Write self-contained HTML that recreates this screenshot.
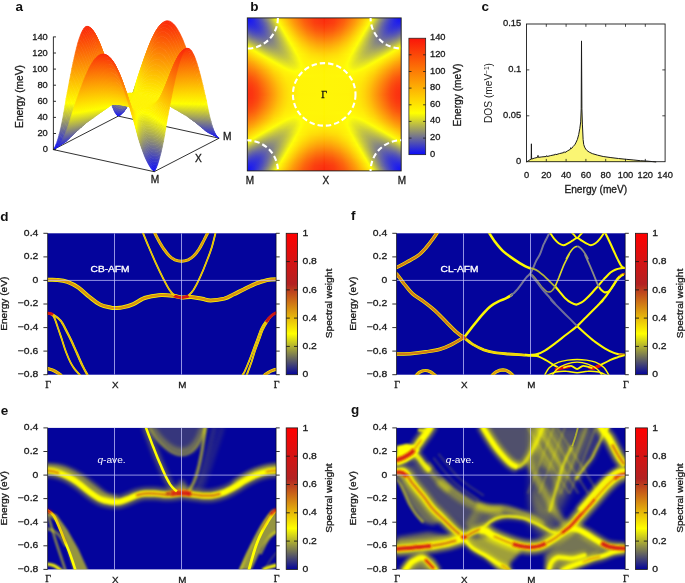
<!DOCTYPE html>
<html lang="en"><head><meta charset="utf-8"><title>Figure</title><style>html,body{margin:0;padding:0;background:#fff;overflow:hidden}svg{display:block}</style></head><body><svg width="685" height="583" viewBox="0 0 685 583" font-family='"Liberation Sans", Arial, Helvetica, sans-serif'><defs><linearGradient id="gE" x1="0" y1="1" x2="0" y2="0"><stop offset="0%" stop-color="#0a0afa"/><stop offset="35.7%" stop-color="#ffff00"/><stop offset="100%" stop-color="#fa140a"/></linearGradient><linearGradient id="gS" x1="0" y1="1" x2="0" y2="0"><stop offset="0%" stop-color="#04049c"/><stop offset="29%" stop-color="#ffff00"/><stop offset="64%" stop-color="#b22222"/><stop offset="100%" stop-color="#ff0000"/></linearGradient><linearGradient id="gA" gradientUnits="userSpaceOnUse" x1="53.4" y1="149.6" x2="76.98" y2="42.07"><stop offset="0%" stop-color="#0a0afa"/><stop offset="35.7%" stop-color="#ffff00"/><stop offset="100%" stop-color="#fa140a"/></linearGradient><linearGradient id="a55" href="#gA" gradientTransform="translate(64.32 -33.20)"/><linearGradient id="a54" href="#gA" gradientTransform="translate(63.16 -32.60)"/><linearGradient id="a53" href="#gA" gradientTransform="translate(62.00 -32.00)"/><linearGradient id="a52" href="#gA" gradientTransform="translate(60.84 -31.41)"/><linearGradient id="a51" href="#gA" gradientTransform="translate(59.68 -30.81)"/><linearGradient id="a50" href="#gA" gradientTransform="translate(58.53 -30.21)"/><linearGradient id="a49" href="#gA" gradientTransform="translate(57.37 -29.61)"/><linearGradient id="a48" href="#gA" gradientTransform="translate(56.21 -29.01)"/><linearGradient id="a47" href="#gA" gradientTransform="translate(55.05 -28.42)"/><linearGradient id="a46" href="#gA" gradientTransform="translate(53.89 -27.82)"/><linearGradient id="a45" href="#gA" gradientTransform="translate(52.73 -27.22)"/><linearGradient id="a44" href="#gA" gradientTransform="translate(51.57 -26.62)"/><linearGradient id="a43" href="#gA" gradientTransform="translate(50.41 -26.02)"/><linearGradient id="a42" href="#gA" gradientTransform="translate(49.25 -25.42)"/><linearGradient id="a41" href="#gA" gradientTransform="translate(48.10 -24.83)"/><linearGradient id="a40" href="#gA" gradientTransform="translate(46.94 -24.23)"/><linearGradient id="a39" href="#gA" gradientTransform="translate(45.78 -23.63)"/><linearGradient id="a38" href="#gA" gradientTransform="translate(44.62 -23.03)"/><linearGradient id="a37" href="#gA" gradientTransform="translate(43.46 -22.43)"/><linearGradient id="a36" href="#gA" gradientTransform="translate(42.30 -21.83)"/><linearGradient id="a35" href="#gA" gradientTransform="translate(41.14 -21.24)"/><linearGradient id="a34" href="#gA" gradientTransform="translate(39.98 -20.64)"/><linearGradient id="a33" href="#gA" gradientTransform="translate(38.82 -20.04)"/><linearGradient id="a32" href="#gA" gradientTransform="translate(37.67 -19.44)"/><linearGradient id="a31" href="#gA" gradientTransform="translate(36.51 -18.84)"/><linearGradient id="a30" href="#gA" gradientTransform="translate(35.35 -18.25)"/><linearGradient id="a29" href="#gA" gradientTransform="translate(34.19 -17.65)"/><linearGradient id="a28" href="#gA" gradientTransform="translate(33.03 -17.05)"/><linearGradient id="a27" href="#gA" gradientTransform="translate(31.87 -16.45)"/><linearGradient id="a26" href="#gA" gradientTransform="translate(30.71 -15.85)"/><linearGradient id="a25" href="#gA" gradientTransform="translate(29.55 -15.25)"/><linearGradient id="a24" href="#gA" gradientTransform="translate(28.39 -14.66)"/><linearGradient id="a23" href="#gA" gradientTransform="translate(27.23 -14.06)"/><linearGradient id="a22" href="#gA" gradientTransform="translate(26.08 -13.46)"/><linearGradient id="a21" href="#gA" gradientTransform="translate(24.92 -12.86)"/><linearGradient id="a20" href="#gA" gradientTransform="translate(23.76 -12.26)"/><linearGradient id="a19" href="#gA" gradientTransform="translate(22.60 -11.67)"/><linearGradient id="a18" href="#gA" gradientTransform="translate(21.44 -11.07)"/><linearGradient id="a17" href="#gA" gradientTransform="translate(20.28 -10.47)"/><linearGradient id="a16" href="#gA" gradientTransform="translate(19.12 -9.87)"/><linearGradient id="a15" href="#gA" gradientTransform="translate(17.96 -9.27)"/><linearGradient id="a14" href="#gA" gradientTransform="translate(16.80 -8.67)"/><linearGradient id="a13" href="#gA" gradientTransform="translate(15.65 -8.08)"/><linearGradient id="a12" href="#gA" gradientTransform="translate(14.49 -7.48)"/><linearGradient id="a11" href="#gA" gradientTransform="translate(13.33 -6.88)"/><linearGradient id="a10" href="#gA" gradientTransform="translate(12.17 -6.28)"/><linearGradient id="a9" href="#gA" gradientTransform="translate(11.01 -5.68)"/><linearGradient id="a8" href="#gA" gradientTransform="translate(9.85 -5.08)"/><linearGradient id="a7" href="#gA" gradientTransform="translate(8.69 -4.49)"/><linearGradient id="a6" href="#gA" gradientTransform="translate(7.53 -3.89)"/><linearGradient id="a5" href="#gA" gradientTransform="translate(6.37 -3.29)"/><linearGradient id="a4" href="#gA" gradientTransform="translate(5.22 -2.69)"/><linearGradient id="a3" href="#gA" gradientTransform="translate(4.06 -2.09)"/><linearGradient id="a2" href="#gA" gradientTransform="translate(2.90 -1.50)"/><linearGradient id="a1" href="#gA" gradientTransform="translate(1.74 -0.90)"/><linearGradient id="a0" href="#gA" gradientTransform="translate(0.58 -0.30)"/><linearGradient id="b0" gradientUnits="userSpaceOnUse" x1="0" x2="76.9" y1="0" y2="0"><stop offset="0" stop-color="#fff500"/><stop offset="0.321" stop-color="#fff300"/><stop offset="0.455" stop-color="#fee401"/><stop offset="0.519" stop-color="#fed402"/><stop offset="0.59" stop-color="#febb03"/><stop offset="0.795" stop-color="#fc5e07"/><stop offset="0.865" stop-color="#fb4208"/><stop offset="0.936" stop-color="#fb2f09"/><stop offset="1" stop-color="#fa2909"/></linearGradient><linearGradient id="b1" gradientUnits="userSpaceOnUse" x1="0" x2="76.9" y1="0" y2="0"><stop offset="0" stop-color="#fff500"/><stop offset="0.321" stop-color="#fff300"/><stop offset="0.455" stop-color="#fee401"/><stop offset="0.519" stop-color="#fed402"/><stop offset="0.59" stop-color="#febb03"/><stop offset="0.795" stop-color="#fc5e07"/><stop offset="0.865" stop-color="#fb4208"/><stop offset="0.936" stop-color="#fb2f09"/><stop offset="1" stop-color="#fa2909"/></linearGradient><linearGradient id="b2" gradientUnits="userSpaceOnUse" x1="0" x2="76.9" y1="0" y2="0"><stop offset="0" stop-color="#fff500"/><stop offset="0.321" stop-color="#fff400"/><stop offset="0.455" stop-color="#fee401"/><stop offset="0.519" stop-color="#fed402"/><stop offset="0.59" stop-color="#febb03"/><stop offset="0.865" stop-color="#fb4308"/><stop offset="0.936" stop-color="#fb3009"/><stop offset="1" stop-color="#fa2a09"/></linearGradient><linearGradient id="b3" gradientUnits="userSpaceOnUse" x1="0" x2="76.9" y1="0" y2="0"><stop offset="0" stop-color="#fff500"/><stop offset="0.321" stop-color="#fff400"/><stop offset="0.455" stop-color="#fee401"/><stop offset="0.519" stop-color="#fed402"/><stop offset="0.59" stop-color="#febc03"/><stop offset="0.865" stop-color="#fb4308"/><stop offset="0.936" stop-color="#fb3009"/><stop offset="1" stop-color="#fa2a09"/></linearGradient><linearGradient id="b4" gradientUnits="userSpaceOnUse" x1="0" x2="76.9" y1="0" y2="0"><stop offset="0" stop-color="#fff500"/><stop offset="0.321" stop-color="#fff400"/><stop offset="0.455" stop-color="#fee501"/><stop offset="0.519" stop-color="#fed502"/><stop offset="0.59" stop-color="#febd03"/><stop offset="0.865" stop-color="#fb4408"/><stop offset="0.936" stop-color="#fb3109"/><stop offset="1" stop-color="#fa2b09"/></linearGradient><linearGradient id="b5" gradientUnits="userSpaceOnUse" x1="0" x2="76.9" y1="0" y2="0"><stop offset="0" stop-color="#fff500"/><stop offset="0.321" stop-color="#fff400"/><stop offset="0.455" stop-color="#fee501"/><stop offset="0.526" stop-color="#fed402"/><stop offset="0.596" stop-color="#febb03"/><stop offset="0.865" stop-color="#fb4608"/><stop offset="0.936" stop-color="#fb3309"/><stop offset="1" stop-color="#fb2c09"/></linearGradient><linearGradient id="b6" gradientUnits="userSpaceOnUse" x1="0" x2="76.9" y1="0" y2="0"><stop offset="0" stop-color="#fff500"/><stop offset="0.327" stop-color="#fff400"/><stop offset="0.462" stop-color="#fee401"/><stop offset="0.526" stop-color="#fed502"/><stop offset="0.596" stop-color="#febc03"/><stop offset="0.865" stop-color="#fb4708"/><stop offset="0.936" stop-color="#fb3409"/><stop offset="1" stop-color="#fb2e09"/></linearGradient><linearGradient id="b7" gradientUnits="userSpaceOnUse" x1="0" x2="76.9" y1="0" y2="0"><stop offset="0" stop-color="#fff500"/><stop offset="0.327" stop-color="#fff400"/><stop offset="0.462" stop-color="#fee501"/><stop offset="0.526" stop-color="#fed602"/><stop offset="0.596" stop-color="#febe03"/><stop offset="0.872" stop-color="#fb4708"/><stop offset="0.936" stop-color="#fb3609"/><stop offset="1" stop-color="#fb2f09"/></linearGradient><linearGradient id="b8" gradientUnits="userSpaceOnUse" x1="0" x2="76.9" y1="0" y2="0"><stop offset="0" stop-color="#fff500"/><stop offset="0.327" stop-color="#fff400"/><stop offset="0.404" stop-color="#ffee01"/><stop offset="0.468" stop-color="#fee501"/><stop offset="0.532" stop-color="#fed502"/><stop offset="0.603" stop-color="#febd03"/><stop offset="0.872" stop-color="#fb4908"/><stop offset="0.936" stop-color="#fb3808"/><stop offset="1" stop-color="#fb3109"/></linearGradient><linearGradient id="b9" gradientUnits="userSpaceOnUse" x1="0" x2="76.9" y1="0" y2="0"><stop offset="0" stop-color="#fff500"/><stop offset="0.333" stop-color="#fff400"/><stop offset="0.468" stop-color="#fee501"/><stop offset="0.532" stop-color="#fed602"/><stop offset="0.603" stop-color="#febe03"/><stop offset="0.872" stop-color="#fb4c08"/><stop offset="0.936" stop-color="#fb3a08"/><stop offset="1" stop-color="#fb3309"/></linearGradient><linearGradient id="b10" gradientUnits="userSpaceOnUse" x1="0" x2="76.9" y1="0" y2="0"><stop offset="0" stop-color="#fff500"/><stop offset="0.34" stop-color="#fff400"/><stop offset="0.474" stop-color="#fee501"/><stop offset="0.538" stop-color="#fed602"/><stop offset="0.609" stop-color="#febe03"/><stop offset="0.872" stop-color="#fb4e08"/><stop offset="0.936" stop-color="#fb3d08"/><stop offset="1" stop-color="#fb3609"/></linearGradient><linearGradient id="b11" gradientUnits="userSpaceOnUse" x1="0" x2="76.9" y1="0" y2="0"><stop offset="0" stop-color="#fff500"/><stop offset="0.34" stop-color="#fff400"/><stop offset="0.474" stop-color="#fee601"/><stop offset="0.538" stop-color="#fed702"/><stop offset="0.609" stop-color="#fec003"/><stop offset="0.878" stop-color="#fb4f07"/><stop offset="0.942" stop-color="#fb3e08"/><stop offset="1" stop-color="#fb3808"/></linearGradient><linearGradient id="b12" gradientUnits="userSpaceOnUse" x1="0" x2="76.9" y1="0" y2="0"><stop offset="0" stop-color="#fff500"/><stop offset="0.346" stop-color="#fff400"/><stop offset="0.481" stop-color="#fee601"/><stop offset="0.545" stop-color="#fed702"/><stop offset="0.615" stop-color="#fec003"/><stop offset="0.878" stop-color="#fb5207"/><stop offset="0.942" stop-color="#fb4108"/><stop offset="1" stop-color="#fb3b08"/></linearGradient><linearGradient id="b13" gradientUnits="userSpaceOnUse" x1="0" x2="76.9" y1="0" y2="0"><stop offset="0" stop-color="#fff500"/><stop offset="0.346" stop-color="#fff400"/><stop offset="0.481" stop-color="#fee701"/><stop offset="0.545" stop-color="#fed902"/><stop offset="0.615" stop-color="#fec203"/><stop offset="0.878" stop-color="#fb5607"/><stop offset="0.942" stop-color="#fb4508"/><stop offset="1" stop-color="#fb3e08"/></linearGradient><linearGradient id="b14" gradientUnits="userSpaceOnUse" x1="0" x2="76.9" y1="0" y2="0"><stop offset="0" stop-color="#fff500"/><stop offset="0.359" stop-color="#fff400"/><stop offset="0.487" stop-color="#ffe801"/><stop offset="0.551" stop-color="#fed902"/><stop offset="0.622" stop-color="#fec303"/><stop offset="0.878" stop-color="#fb5907"/><stop offset="0.942" stop-color="#fb4808"/><stop offset="1" stop-color="#fb4108"/></linearGradient><linearGradient id="b15" gradientUnits="userSpaceOnUse" x1="0" x2="76.9" y1="0" y2="0"><stop offset="0" stop-color="#fff500"/><stop offset="0.365" stop-color="#fff400"/><stop offset="0.494" stop-color="#ffe801"/><stop offset="0.558" stop-color="#feda02"/><stop offset="0.628" stop-color="#fec303"/><stop offset="0.885" stop-color="#fc5b07"/><stop offset="0.942" stop-color="#fb4c08"/><stop offset="1" stop-color="#fb4408"/></linearGradient><linearGradient id="b16" gradientUnits="userSpaceOnUse" x1="0" x2="76.9" y1="0" y2="0"><stop offset="0" stop-color="#fff500"/><stop offset="0.372" stop-color="#fff400"/><stop offset="0.5" stop-color="#ffe801"/><stop offset="0.628" stop-color="#fec602"/><stop offset="0.885" stop-color="#fc5f07"/><stop offset="0.942" stop-color="#fb5007"/><stop offset="1" stop-color="#fb4808"/></linearGradient><linearGradient id="b17" gradientUnits="userSpaceOnUse" x1="0" x2="76.9" y1="0" y2="0"><stop offset="0" stop-color="#fff500"/><stop offset="0.353" stop-color="#fff600"/><stop offset="0.506" stop-color="#ffe901"/><stop offset="0.635" stop-color="#fec702"/><stop offset="0.891" stop-color="#fc6107"/><stop offset="0.949" stop-color="#fb5207"/><stop offset="1" stop-color="#fb4b08"/></linearGradient><linearGradient id="b18" gradientUnits="userSpaceOnUse" x1="0" x2="76.9" y1="0" y2="0"><stop offset="0" stop-color="#fff500"/><stop offset="0.359" stop-color="#fff700"/><stop offset="0.506" stop-color="#ffeb01"/><stop offset="0.571" stop-color="#fedd01"/><stop offset="0.641" stop-color="#fec802"/><stop offset="0.891" stop-color="#fc6607"/><stop offset="0.949" stop-color="#fb5707"/><stop offset="1" stop-color="#fb4f07"/></linearGradient><linearGradient id="b19" gradientUnits="userSpaceOnUse" x1="0" x2="76.9" y1="0" y2="0"><stop offset="0" stop-color="#fff500"/><stop offset="0.365" stop-color="#fff800"/><stop offset="0.513" stop-color="#ffec01"/><stop offset="0.641" stop-color="#fecb02"/><stop offset="0.897" stop-color="#fc6806"/><stop offset="1" stop-color="#fb5307"/></linearGradient><linearGradient id="b20" gradientUnits="userSpaceOnUse" x1="0" x2="76.9" y1="0" y2="0"><stop offset="0" stop-color="#fff500"/><stop offset="0.269" stop-color="#fff500"/><stop offset="0.372" stop-color="#fffa00"/><stop offset="0.519" stop-color="#ffed01"/><stop offset="0.647" stop-color="#fecd02"/><stop offset="0.897" stop-color="#fc6d06"/><stop offset="1" stop-color="#fb5807"/></linearGradient><linearGradient id="b21" gradientUnits="userSpaceOnUse" x1="0" x2="76.9" y1="0" y2="0"><stop offset="0" stop-color="#fff400"/><stop offset="0.256" stop-color="#fff500"/><stop offset="0.372" stop-color="#fffc00"/><stop offset="0.526" stop-color="#ffee01"/><stop offset="0.654" stop-color="#fecf02"/><stop offset="0.904" stop-color="#fc7006"/><stop offset="1" stop-color="#fc5c07"/></linearGradient><linearGradient id="b22" gradientUnits="userSpaceOnUse" x1="0" x2="76.9" y1="0" y2="0"><stop offset="0" stop-color="#fff400"/><stop offset="0.244" stop-color="#fff500"/><stop offset="0.378" stop-color="#fffe00"/><stop offset="0.532" stop-color="#ffef01"/><stop offset="0.66" stop-color="#fed002"/><stop offset="0.904" stop-color="#fc7506"/><stop offset="1" stop-color="#fc6107"/></linearGradient><linearGradient id="b23" gradientUnits="userSpaceOnUse" x1="0" x2="76.9" y1="0" y2="0"><stop offset="0" stop-color="#fff400"/><stop offset="0.224" stop-color="#fff500"/><stop offset="0.34" stop-color="#ffff00"/><stop offset="0.423" stop-color="#ffff00"/><stop offset="0.538" stop-color="#fff001"/><stop offset="0.647" stop-color="#fed902"/><stop offset="0.891" stop-color="#fc7f05"/><stop offset="1" stop-color="#fc6607"/></linearGradient><linearGradient id="b24" gradientUnits="userSpaceOnUse" x1="0" x2="76.9" y1="0" y2="0"><stop offset="0" stop-color="#fff300"/><stop offset="0.218" stop-color="#fff500"/><stop offset="0.321" stop-color="#ffff00"/><stop offset="0.391" stop-color="#f8f807"/><stop offset="0.455" stop-color="#ffff00"/><stop offset="0.474" stop-color="#fffd00"/><stop offset="0.577" stop-color="#ffed01"/><stop offset="0.641" stop-color="#fede01"/><stop offset="0.897" stop-color="#fc8205"/><stop offset="1" stop-color="#fc6b06"/></linearGradient><linearGradient id="b25" gradientUnits="userSpaceOnUse" x1="0" x2="76.9" y1="0" y2="0"><stop offset="0" stop-color="#fff301"/><stop offset="0.212" stop-color="#fff500"/><stop offset="0.314" stop-color="#ffff00"/><stop offset="0.397" stop-color="#f4f40b"/><stop offset="0.487" stop-color="#fffe00"/><stop offset="0.654" stop-color="#fedf01"/><stop offset="0.897" stop-color="#fc8805"/><stop offset="1" stop-color="#fc7006"/></linearGradient><linearGradient id="b26" gradientUnits="userSpaceOnUse" x1="0" x2="76.9" y1="0" y2="0"><stop offset="0" stop-color="#fff201"/><stop offset="0.212" stop-color="#fff500"/><stop offset="0.308" stop-color="#fefe01"/><stop offset="0.359" stop-color="#f3f30c"/><stop offset="0.404" stop-color="#f0f00f"/><stop offset="0.455" stop-color="#f4f40c"/><stop offset="0.513" stop-color="#ffff00"/><stop offset="0.667" stop-color="#fee001"/><stop offset="0.904" stop-color="#fd8c05"/><stop offset="1" stop-color="#fc7506"/></linearGradient><linearGradient id="b27" gradientUnits="userSpaceOnUse" x1="0" x2="76.9" y1="0" y2="0"><stop offset="0" stop-color="#fff101"/><stop offset="0.218" stop-color="#fff500"/><stop offset="0.301" stop-color="#ffff00"/><stop offset="0.359" stop-color="#f1f10f"/><stop offset="0.417" stop-color="#ecec13"/><stop offset="0.474" stop-color="#f1f10e"/><stop offset="0.538" stop-color="#fffe00"/><stop offset="0.679" stop-color="#fee001"/><stop offset="0.904" stop-color="#fd9205"/><stop offset="1" stop-color="#fc7a06"/></linearGradient><linearGradient id="b28" gradientUnits="userSpaceOnUse" x1="0" x2="76.9" y1="0" y2="0"><stop offset="0" stop-color="#fff001"/><stop offset="0.224" stop-color="#fff400"/><stop offset="0.301" stop-color="#ffff00"/><stop offset="0.372" stop-color="#ecec13"/><stop offset="0.429" stop-color="#e8e817"/><stop offset="0.494" stop-color="#eeee11"/><stop offset="0.564" stop-color="#fffe00"/><stop offset="0.692" stop-color="#fee101"/><stop offset="0.91" stop-color="#fd9604"/><stop offset="1" stop-color="#fc8005"/></linearGradient><linearGradient id="b29" gradientUnits="userSpaceOnUse" x1="0" x2="76.9" y1="0" y2="0"><stop offset="0" stop-color="#ffef01"/><stop offset="0.231" stop-color="#fff400"/><stop offset="0.301" stop-color="#ffff01"/><stop offset="0.378" stop-color="#e9e916"/><stop offset="0.436" stop-color="#e4e41c"/><stop offset="0.506" stop-color="#eaea15"/><stop offset="0.583" stop-color="#ffff00"/><stop offset="0.705" stop-color="#fee301"/><stop offset="0.91" stop-color="#fd9c04"/><stop offset="1" stop-color="#fc8605"/></linearGradient><linearGradient id="b30" gradientUnits="userSpaceOnUse" x1="0" x2="76.9" y1="0" y2="0"><stop offset="0" stop-color="#ffed01"/><stop offset="0.244" stop-color="#fff500"/><stop offset="0.301" stop-color="#ffff00"/><stop offset="0.385" stop-color="#e6e619"/><stop offset="0.449" stop-color="#e0e020"/><stop offset="0.526" stop-color="#e7e718"/><stop offset="0.609" stop-color="#fffe00"/><stop offset="0.718" stop-color="#fee401"/><stop offset="0.917" stop-color="#fda004"/><stop offset="1" stop-color="#fd8b05"/></linearGradient><linearGradient id="b31" gradientUnits="userSpaceOnUse" x1="0" x2="76.9" y1="0" y2="0"><stop offset="0" stop-color="#ffeb01"/><stop offset="0.25" stop-color="#fff400"/><stop offset="0.301" stop-color="#fffe00"/><stop offset="0.397" stop-color="#e2e21d"/><stop offset="0.462" stop-color="#dcdc24"/><stop offset="0.545" stop-color="#e5e51b"/><stop offset="0.628" stop-color="#ffff00"/><stop offset="0.731" stop-color="#fee601"/><stop offset="0.917" stop-color="#fda704"/><stop offset="1" stop-color="#fd9105"/></linearGradient><linearGradient id="b32" gradientUnits="userSpaceOnUse" x1="0" x2="76.9" y1="0" y2="0"><stop offset="0" stop-color="#ffe901"/><stop offset="0.256" stop-color="#fff400"/><stop offset="0.308" stop-color="#ffff00"/><stop offset="0.404" stop-color="#dfdf20"/><stop offset="0.474" stop-color="#d7d728"/><stop offset="0.558" stop-color="#e1e11f"/><stop offset="0.654" stop-color="#ffff00"/><stop offset="0.75" stop-color="#fee601"/><stop offset="0.923" stop-color="#fdab04"/><stop offset="1" stop-color="#fd9704"/></linearGradient><linearGradient id="b33" gradientUnits="userSpaceOnUse" x1="0" x2="76.9" y1="0" y2="0"><stop offset="0" stop-color="#fee701"/><stop offset="0.218" stop-color="#fff101"/><stop offset="0.269" stop-color="#fff500"/><stop offset="0.314" stop-color="#ffff00"/><stop offset="0.41" stop-color="#dddd23"/><stop offset="0.487" stop-color="#d3d32d"/><stop offset="0.577" stop-color="#dede22"/><stop offset="0.673" stop-color="#fefe01"/><stop offset="0.756" stop-color="#ffe901"/><stop offset="0.923" stop-color="#fdb203"/><stop offset="1" stop-color="#fd9d04"/></linearGradient><linearGradient id="b34" gradientUnits="userSpaceOnUse" x1="0" x2="76.9" y1="0" y2="0"><stop offset="0" stop-color="#fee501"/><stop offset="0.186" stop-color="#ffed01"/><stop offset="0.276" stop-color="#fff500"/><stop offset="0.321" stop-color="#fefe01"/><stop offset="0.423" stop-color="#d9d927"/><stop offset="0.5" stop-color="#cfcf31"/><stop offset="0.596" stop-color="#dbdb25"/><stop offset="0.699" stop-color="#ffff00"/><stop offset="1" stop-color="#fda404"/></linearGradient><linearGradient id="b35" gradientUnits="userSpaceOnUse" x1="0" x2="76.9" y1="0" y2="0"><stop offset="0" stop-color="#fee201"/><stop offset="0.173" stop-color="#ffea01"/><stop offset="0.282" stop-color="#fff400"/><stop offset="0.327" stop-color="#fefe01"/><stop offset="0.429" stop-color="#d6d62a"/><stop offset="0.468" stop-color="#cece32"/><stop offset="0.513" stop-color="#cbcb35"/><stop offset="0.564" stop-color="#cece32"/><stop offset="0.615" stop-color="#d9d927"/><stop offset="0.718" stop-color="#fefe01"/><stop offset="1" stop-color="#fdaa04"/></linearGradient><linearGradient id="b36" gradientUnits="userSpaceOnUse" x1="0" x2="76.9" y1="0" y2="0"><stop offset="0" stop-color="#fedf01"/><stop offset="0.179" stop-color="#ffe801"/><stop offset="0.288" stop-color="#fff400"/><stop offset="0.327" stop-color="#fffe00"/><stop offset="0.442" stop-color="#d2d22e"/><stop offset="0.481" stop-color="#c9c937"/><stop offset="0.526" stop-color="#c7c73a"/><stop offset="0.577" stop-color="#caca36"/><stop offset="0.628" stop-color="#d4d42c"/><stop offset="0.679" stop-color="#e4e41b"/><stop offset="0.744" stop-color="#ffff00"/><stop offset="1" stop-color="#fdb003"/></linearGradient><linearGradient id="b37" gradientUnits="userSpaceOnUse" x1="0" x2="76.9" y1="0" y2="0"><stop offset="0" stop-color="#fedc02"/><stop offset="0.173" stop-color="#fee501"/><stop offset="0.301" stop-color="#fff500"/><stop offset="0.333" stop-color="#fffe00"/><stop offset="0.455" stop-color="#cece32"/><stop offset="0.494" stop-color="#c5c53b"/><stop offset="0.538" stop-color="#c2c23e"/><stop offset="0.59" stop-color="#c6c63a"/><stop offset="0.647" stop-color="#d2d22e"/><stop offset="0.769" stop-color="#fffe00"/><stop offset="1" stop-color="#fdb703"/></linearGradient><linearGradient id="b38" gradientUnits="userSpaceOnUse" x1="0" x2="76.9" y1="0" y2="0"><stop offset="0" stop-color="#fed802"/><stop offset="0.173" stop-color="#fee301"/><stop offset="0.308" stop-color="#fff400"/><stop offset="0.34" stop-color="#fffe00"/><stop offset="0.462" stop-color="#cccc34"/><stop offset="0.506" stop-color="#c1c13f"/><stop offset="0.551" stop-color="#bebe42"/><stop offset="0.603" stop-color="#c2c23f"/><stop offset="0.66" stop-color="#cdcd33"/><stop offset="0.724" stop-color="#e2e21e"/><stop offset="0.788" stop-color="#ffff00"/><stop offset="1" stop-color="#febd03"/></linearGradient><linearGradient id="b39" gradientUnits="userSpaceOnUse" x1="0" x2="76.9" y1="0" y2="0"><stop offset="0" stop-color="#fed402"/><stop offset="0.167" stop-color="#fedf01"/><stop offset="0.314" stop-color="#fff400"/><stop offset="0.346" stop-color="#fffe00"/><stop offset="0.423" stop-color="#dbdb25"/><stop offset="0.474" stop-color="#c8c839"/><stop offset="0.519" stop-color="#bdbd44"/><stop offset="0.564" stop-color="#baba47"/><stop offset="0.628" stop-color="#bfbf41"/><stop offset="0.692" stop-color="#cece32"/><stop offset="0.75" stop-color="#e2e21d"/><stop offset="0.808" stop-color="#fefe01"/><stop offset="1" stop-color="#fec403"/></linearGradient><linearGradient id="b40" gradientUnits="userSpaceOnUse" x1="0" x2="76.9" y1="0" y2="0"><stop offset="0" stop-color="#fed002"/><stop offset="0.167" stop-color="#fedc02"/><stop offset="0.359" stop-color="#fefe01"/><stop offset="0.423" stop-color="#dcdc23"/><stop offset="0.481" stop-color="#c5c53b"/><stop offset="0.532" stop-color="#b9b948"/><stop offset="0.577" stop-color="#b6b64b"/><stop offset="0.635" stop-color="#baba46"/><stop offset="0.705" stop-color="#c9c937"/><stop offset="0.763" stop-color="#dddd23"/><stop offset="0.833" stop-color="#ffff00"/><stop offset="1" stop-color="#feca02"/></linearGradient><linearGradient id="b41" gradientUnits="userSpaceOnUse" x1="0" x2="76.9" y1="0" y2="0"><stop offset="0" stop-color="#fecc02"/><stop offset="0.167" stop-color="#fed802"/><stop offset="0.327" stop-color="#fff400"/><stop offset="0.365" stop-color="#fefe01"/><stop offset="0.429" stop-color="#dbdb24"/><stop offset="0.487" stop-color="#c3c33d"/><stop offset="0.538" stop-color="#b5b54b"/><stop offset="0.59" stop-color="#b1b14f"/><stop offset="0.667" stop-color="#b9b948"/><stop offset="0.724" stop-color="#c6c63a"/><stop offset="0.788" stop-color="#dede22"/><stop offset="0.853" stop-color="#fefe01"/><stop offset="1" stop-color="#fed102"/></linearGradient><linearGradient id="b42" gradientUnits="userSpaceOnUse" x1="0" x2="76.9" y1="0" y2="0"><stop offset="0" stop-color="#fec802"/><stop offset="0.083" stop-color="#fecb02"/><stop offset="0.167" stop-color="#fed402"/><stop offset="0.34" stop-color="#fff400"/><stop offset="0.372" stop-color="#fefe01"/><stop offset="0.436" stop-color="#dada25"/><stop offset="0.5" stop-color="#bfbf41"/><stop offset="0.551" stop-color="#b1b14f"/><stop offset="0.603" stop-color="#adad54"/><stop offset="0.673" stop-color="#b2b24e"/><stop offset="0.737" stop-color="#c1c140"/><stop offset="0.801" stop-color="#d8d827"/><stop offset="0.878" stop-color="#fffe00"/><stop offset="1" stop-color="#fed802"/></linearGradient><linearGradient id="b43" gradientUnits="userSpaceOnUse" x1="0" x2="76.9" y1="0" y2="0"><stop offset="0" stop-color="#fec303"/><stop offset="0.083" stop-color="#fec602"/><stop offset="0.173" stop-color="#fed102"/><stop offset="0.346" stop-color="#fff400"/><stop offset="0.378" stop-color="#ffff00"/><stop offset="0.442" stop-color="#dada26"/><stop offset="0.506" stop-color="#bdbd43"/><stop offset="0.564" stop-color="#adad54"/><stop offset="0.615" stop-color="#a9a958"/><stop offset="0.686" stop-color="#adad54"/><stop offset="0.75" stop-color="#bbbb45"/><stop offset="0.821" stop-color="#d6d62a"/><stop offset="0.897" stop-color="#ffff00"/><stop offset="1" stop-color="#fede01"/></linearGradient><linearGradient id="b44" gradientUnits="userSpaceOnUse" x1="0" x2="76.9" y1="0" y2="0"><stop offset="0" stop-color="#febe03"/><stop offset="0.083" stop-color="#fec203"/><stop offset="0.173" stop-color="#fecd02"/><stop offset="0.321" stop-color="#ffec01"/><stop offset="0.385" stop-color="#ffff00"/><stop offset="0.455" stop-color="#d6d62a"/><stop offset="0.526" stop-color="#b7b74a"/><stop offset="0.583" stop-color="#a8a859"/><stop offset="0.641" stop-color="#a4a45d"/><stop offset="0.705" stop-color="#a9a958"/><stop offset="0.776" stop-color="#baba46"/><stop offset="0.846" stop-color="#d6d629"/><stop offset="0.917" stop-color="#fdfd02"/><stop offset="1" stop-color="#fee501"/></linearGradient><linearGradient id="b45" gradientUnits="userSpaceOnUse" x1="0" x2="76.9" y1="0" y2="0"><stop offset="0" stop-color="#feb903"/><stop offset="0.083" stop-color="#febd03"/><stop offset="0.173" stop-color="#fec902"/><stop offset="0.301" stop-color="#fee501"/><stop offset="0.391" stop-color="#ffff00"/><stop offset="0.468" stop-color="#d2d22e"/><stop offset="0.532" stop-color="#b5b54b"/><stop offset="0.59" stop-color="#a5a55c"/><stop offset="0.654" stop-color="#9f9f62"/><stop offset="0.724" stop-color="#a5a55c"/><stop offset="0.795" stop-color="#b7b74a"/><stop offset="0.872" stop-color="#d7d729"/><stop offset="0.942" stop-color="#ffff00"/><stop offset="1" stop-color="#ffec01"/></linearGradient><linearGradient id="b46" gradientUnits="userSpaceOnUse" x1="0" x2="76.9" y1="0" y2="0"><stop offset="0" stop-color="#fdb403"/><stop offset="0.09" stop-color="#fdb803"/><stop offset="0.179" stop-color="#fec602"/><stop offset="0.301" stop-color="#fee201"/><stop offset="0.397" stop-color="#fffe00"/><stop offset="0.481" stop-color="#cece32"/><stop offset="0.545" stop-color="#b1b150"/><stop offset="0.609" stop-color="#9e9e62"/><stop offset="0.667" stop-color="#999968"/><stop offset="0.737" stop-color="#9f9f62"/><stop offset="0.808" stop-color="#b2b24f"/><stop offset="0.885" stop-color="#d1d12f"/><stop offset="0.962" stop-color="#fdfd02"/><stop offset="1" stop-color="#fff201"/></linearGradient><linearGradient id="b47" gradientUnits="userSpaceOnUse" x1="0" x2="76.9" y1="0" y2="0"><stop offset="0" stop-color="#fdae03"/><stop offset="0.09" stop-color="#fdb303"/><stop offset="0.179" stop-color="#fec103"/><stop offset="0.295" stop-color="#fedd01"/><stop offset="0.404" stop-color="#fffe00"/><stop offset="0.487" stop-color="#cdcd33"/><stop offset="0.551" stop-color="#afaf51"/><stop offset="0.622" stop-color="#999968"/><stop offset="0.679" stop-color="#94946d"/><stop offset="0.75" stop-color="#9a9a67"/><stop offset="0.827" stop-color="#aeae52"/><stop offset="0.904" stop-color="#cfcf31"/><stop offset="0.987" stop-color="#ffff00"/><stop offset="1" stop-color="#fffa00"/></linearGradient><linearGradient id="b48" gradientUnits="userSpaceOnUse" x1="0" x2="76.9" y1="0" y2="0"><stop offset="0" stop-color="#fda804"/><stop offset="0.09" stop-color="#fdad03"/><stop offset="0.179" stop-color="#febc03"/><stop offset="0.276" stop-color="#fed302"/><stop offset="0.417" stop-color="#fdfd02"/><stop offset="0.494" stop-color="#cccc34"/><stop offset="0.571" stop-color="#a8a858"/><stop offset="0.635" stop-color="#94946d"/><stop offset="0.692" stop-color="#8f8f73"/><stop offset="0.763" stop-color="#95956c"/><stop offset="0.846" stop-color="#abab56"/><stop offset="0.923" stop-color="#cccc34"/><stop offset="1" stop-color="#fafa05"/></linearGradient><linearGradient id="b49" gradientUnits="userSpaceOnUse" x1="0" x2="76.9" y1="0" y2="0"><stop offset="0" stop-color="#fda304"/><stop offset="0.09" stop-color="#fda804"/><stop offset="0.179" stop-color="#fdb703"/><stop offset="0.282" stop-color="#fed102"/><stop offset="0.423" stop-color="#fefe01"/><stop offset="0.5" stop-color="#cccc34"/><stop offset="0.577" stop-color="#a6a65b"/><stop offset="0.641" stop-color="#909071"/><stop offset="0.699" stop-color="#898978"/><stop offset="0.769" stop-color="#8e8e73"/><stop offset="0.846" stop-color="#a0a060"/><stop offset="0.923" stop-color="#c0c041"/><stop offset="1" stop-color="#ebeb14"/></linearGradient><linearGradient id="b50" gradientUnits="userSpaceOnUse" x1="0" x2="76.9" y1="0" y2="0"><stop offset="0" stop-color="#fd9d04"/><stop offset="0.09" stop-color="#fda204"/><stop offset="0.186" stop-color="#fdb303"/><stop offset="0.295" stop-color="#fed102"/><stop offset="0.429" stop-color="#ffff00"/><stop offset="0.506" stop-color="#cccc35"/><stop offset="0.59" stop-color="#a1a160"/><stop offset="0.654" stop-color="#8b8b77"/><stop offset="0.712" stop-color="#84847d"/><stop offset="0.782" stop-color="#898979"/><stop offset="0.853" stop-color="#999968"/><stop offset="0.923" stop-color="#b4b44d"/><stop offset="1" stop-color="#dddd23"/></linearGradient><linearGradient id="b51" gradientUnits="userSpaceOnUse" x1="0" x2="76.9" y1="0" y2="0"><stop offset="0" stop-color="#fd9704"/><stop offset="0.09" stop-color="#fd9c04"/><stop offset="0.186" stop-color="#fdae03"/><stop offset="0.295" stop-color="#fecc02"/><stop offset="0.436" stop-color="#ffff00"/><stop offset="0.526" stop-color="#c3c33d"/><stop offset="0.596" stop-color="#9e9e63"/><stop offset="0.66" stop-color="#87877a"/><stop offset="0.718" stop-color="#7f7f83"/><stop offset="0.788" stop-color="#82827f"/><stop offset="0.859" stop-color="#919170"/><stop offset="0.929" stop-color="#abab56"/><stop offset="1" stop-color="#cfcf31"/></linearGradient><linearGradient id="b52" gradientUnits="userSpaceOnUse" x1="0" x2="76.9" y1="0" y2="0"><stop offset="0" stop-color="#fd9105"/><stop offset="0.096" stop-color="#fd9704"/><stop offset="0.192" stop-color="#fdaa04"/><stop offset="0.301" stop-color="#feca02"/><stop offset="0.442" stop-color="#fffe00"/><stop offset="0.532" stop-color="#c2c23e"/><stop offset="0.603" stop-color="#9c9c65"/><stop offset="0.667" stop-color="#84847e"/><stop offset="0.724" stop-color="#7a7a88"/><stop offset="0.795" stop-color="#7c7c86"/><stop offset="0.859" stop-color="#87877a"/><stop offset="0.929" stop-color="#9f9f62"/><stop offset="1" stop-color="#c2c23e"/></linearGradient><linearGradient id="b53" gradientUnits="userSpaceOnUse" x1="0" x2="76.9" y1="0" y2="0"><stop offset="0" stop-color="#fd8a05"/><stop offset="0.096" stop-color="#fd9105"/><stop offset="0.192" stop-color="#fda404"/><stop offset="0.301" stop-color="#fec502"/><stop offset="0.449" stop-color="#fffd00"/><stop offset="0.455" stop-color="#fdfd02"/><stop offset="0.532" stop-color="#c6c63a"/><stop offset="0.596" stop-color="#a0a061"/><stop offset="0.66" stop-color="#84847d"/><stop offset="0.718" stop-color="#76768b"/><stop offset="0.788" stop-color="#74748e"/><stop offset="0.859" stop-color="#7e7e83"/><stop offset="0.929" stop-color="#94946d"/><stop offset="1" stop-color="#b6b64b"/></linearGradient><linearGradient id="b54" gradientUnits="userSpaceOnUse" x1="0" x2="76.9" y1="0" y2="0"><stop offset="0" stop-color="#fc8405"/><stop offset="0.096" stop-color="#fd8b05"/><stop offset="0.192" stop-color="#fd9e04"/><stop offset="0.295" stop-color="#febe03"/><stop offset="0.462" stop-color="#fefe01"/><stop offset="0.532" stop-color="#c9c937"/><stop offset="0.603" stop-color="#9f9f62"/><stop offset="0.667" stop-color="#828280"/><stop offset="0.724" stop-color="#727290"/><stop offset="0.788" stop-color="#6e6e94"/><stop offset="0.859" stop-color="#76768c"/><stop offset="0.936" stop-color="#8c8c75"/><stop offset="1" stop-color="#a9a957"/></linearGradient><linearGradient id="b55" gradientUnits="userSpaceOnUse" x1="0" x2="76.9" y1="0" y2="0"><stop offset="0" stop-color="#fc7e05"/><stop offset="0.096" stop-color="#fc8505"/><stop offset="0.199" stop-color="#fd9a04"/><stop offset="0.308" stop-color="#febe03"/><stop offset="0.468" stop-color="#ffff00"/><stop offset="0.538" stop-color="#c9c937"/><stop offset="0.609" stop-color="#9d9d64"/><stop offset="0.673" stop-color="#7f7f83"/><stop offset="0.737" stop-color="#6c6c96"/><stop offset="0.801" stop-color="#68689a"/><stop offset="0.865" stop-color="#6f6f93"/><stop offset="0.936" stop-color="#818180"/><stop offset="1" stop-color="#9d9d64"/></linearGradient><linearGradient id="b56" gradientUnits="userSpaceOnUse" x1="0" x2="76.9" y1="0" y2="0"><stop offset="0" stop-color="#fc7806"/><stop offset="0.103" stop-color="#fc8005"/><stop offset="0.205" stop-color="#fd9604"/><stop offset="0.314" stop-color="#febc03"/><stop offset="0.474" stop-color="#ffff00"/><stop offset="0.551" stop-color="#c4c43c"/><stop offset="0.615" stop-color="#9b9b66"/><stop offset="0.679" stop-color="#7c7c86"/><stop offset="0.744" stop-color="#67679b"/><stop offset="0.808" stop-color="#6262a0"/><stop offset="0.872" stop-color="#68689b"/><stop offset="0.942" stop-color="#797989"/><stop offset="1" stop-color="#92926f"/></linearGradient><linearGradient id="b57" gradientUnits="userSpaceOnUse" x1="0" x2="76.9" y1="0" y2="0"><stop offset="0" stop-color="#fc7106"/><stop offset="0.103" stop-color="#fc7a06"/><stop offset="0.205" stop-color="#fd9105"/><stop offset="0.321" stop-color="#feb903"/><stop offset="0.481" stop-color="#fffe00"/><stop offset="0.558" stop-color="#c4c43d"/><stop offset="0.622" stop-color="#9a9a67"/><stop offset="0.692" stop-color="#77778b"/><stop offset="0.75" stop-color="#63639f"/><stop offset="0.808" stop-color="#5c5ca6"/><stop offset="0.872" stop-color="#6060a3"/><stop offset="0.936" stop-color="#6d6d95"/><stop offset="1" stop-color="#87877a"/></linearGradient><linearGradient id="b58" gradientUnits="userSpaceOnUse" x1="0" x2="76.9" y1="0" y2="0"><stop offset="0" stop-color="#fc6b06"/><stop offset="0.103" stop-color="#fc7306"/><stop offset="0.212" stop-color="#fd8d05"/><stop offset="0.327" stop-color="#fdb703"/><stop offset="0.487" stop-color="#fffe00"/><stop offset="0.494" stop-color="#fcfc03"/><stop offset="0.571" stop-color="#bfbf42"/><stop offset="0.635" stop-color="#95956c"/><stop offset="0.705" stop-color="#717191"/><stop offset="0.763" stop-color="#5d5da5"/><stop offset="0.821" stop-color="#5656ac"/><stop offset="0.885" stop-color="#5a5aa9"/><stop offset="0.929" stop-color="#6262a0"/><stop offset="1" stop-color="#7d7d85"/></linearGradient><linearGradient id="b59" gradientUnits="userSpaceOnUse" x1="0" x2="76.9" y1="0" y2="0"><stop offset="0" stop-color="#fc6507"/><stop offset="0.103" stop-color="#fc6e06"/><stop offset="0.212" stop-color="#fc8705"/><stop offset="0.327" stop-color="#fdb203"/><stop offset="0.494" stop-color="#fffd00"/><stop offset="0.5" stop-color="#fdfd02"/><stop offset="0.571" stop-color="#c3c33d"/><stop offset="0.641" stop-color="#93936e"/><stop offset="0.712" stop-color="#6e6e94"/><stop offset="0.769" stop-color="#5959a9"/><stop offset="0.821" stop-color="#5151b2"/><stop offset="0.885" stop-color="#5252b0"/><stop offset="0.929" stop-color="#5a5aa8"/><stop offset="1" stop-color="#73738f"/></linearGradient><linearGradient id="b60" gradientUnits="userSpaceOnUse" x1="0" x2="76.9" y1="0" y2="0"><stop offset="0" stop-color="#fc5f07"/><stop offset="0.103" stop-color="#fc6806"/><stop offset="0.212" stop-color="#fc8205"/><stop offset="0.327" stop-color="#fdac04"/><stop offset="0.506" stop-color="#fefe01"/><stop offset="0.577" stop-color="#c3c33d"/><stop offset="0.647" stop-color="#92926f"/><stop offset="0.712" stop-color="#6e6e94"/><stop offset="0.776" stop-color="#5555ae"/><stop offset="0.827" stop-color="#4b4bb7"/><stop offset="0.891" stop-color="#4c4cb7"/><stop offset="0.936" stop-color="#5454ae"/><stop offset="1" stop-color="#696999"/></linearGradient><linearGradient id="b61" gradientUnits="userSpaceOnUse" x1="0" x2="76.9" y1="0" y2="0"><stop offset="0" stop-color="#fb5a07"/><stop offset="0.109" stop-color="#fc6307"/><stop offset="0.218" stop-color="#fc7e05"/><stop offset="0.34" stop-color="#fdad03"/><stop offset="0.513" stop-color="#ffff00"/><stop offset="0.583" stop-color="#c3c33d"/><stop offset="0.654" stop-color="#919171"/><stop offset="0.718" stop-color="#6c6c96"/><stop offset="0.782" stop-color="#5151b2"/><stop offset="0.833" stop-color="#4646bd"/><stop offset="0.891" stop-color="#4545be"/><stop offset="0.942" stop-color="#4e4eb4"/><stop offset="1" stop-color="#6060a3"/></linearGradient><linearGradient id="b62" gradientUnits="userSpaceOnUse" x1="0" x2="76.9" y1="0" y2="0"><stop offset="0" stop-color="#fb5407"/><stop offset="0.109" stop-color="#fc5e07"/><stop offset="0.224" stop-color="#fc7b06"/><stop offset="0.346" stop-color="#fdab04"/><stop offset="0.519" stop-color="#fffe00"/><stop offset="0.59" stop-color="#c3c33d"/><stop offset="0.66" stop-color="#8f8f72"/><stop offset="0.724" stop-color="#696999"/><stop offset="0.788" stop-color="#4d4db5"/><stop offset="0.833" stop-color="#4242c1"/><stop offset="0.885" stop-color="#3f3fc4"/><stop offset="0.942" stop-color="#4747bb"/><stop offset="1" stop-color="#5757ac"/></linearGradient><linearGradient id="b63" gradientUnits="userSpaceOnUse" x1="0" x2="76.9" y1="0" y2="0"><stop offset="0" stop-color="#fb4f07"/><stop offset="0.109" stop-color="#fb5807"/><stop offset="0.224" stop-color="#fc7606"/><stop offset="0.346" stop-color="#fda604"/><stop offset="0.526" stop-color="#fffe00"/><stop offset="0.532" stop-color="#fcfc04"/><stop offset="0.609" stop-color="#b9b948"/><stop offset="0.673" stop-color="#8a8a78"/><stop offset="0.737" stop-color="#63639f"/><stop offset="0.795" stop-color="#4a4ab9"/><stop offset="0.833" stop-color="#3e3ec5"/><stop offset="0.878" stop-color="#3a3ac9"/><stop offset="0.936" stop-color="#3f3fc3"/><stop offset="1" stop-color="#4f4fb4"/></linearGradient><linearGradient id="b64" gradientUnits="userSpaceOnUse" x1="0" x2="76.9" y1="0" y2="0"><stop offset="0" stop-color="#fb4a08"/><stop offset="0.115" stop-color="#fb5407"/><stop offset="0.231" stop-color="#fc7306"/><stop offset="0.353" stop-color="#fda404"/><stop offset="0.532" stop-color="#fffd00"/><stop offset="0.538" stop-color="#fdfd02"/><stop offset="0.609" stop-color="#bebe43"/><stop offset="0.673" stop-color="#8d8d75"/><stop offset="0.737" stop-color="#64649e"/><stop offset="0.795" stop-color="#4949ba"/><stop offset="0.84" stop-color="#3a3ac9"/><stop offset="0.878" stop-color="#3636cd"/><stop offset="0.936" stop-color="#3939ca"/><stop offset="1" stop-color="#4747bc"/></linearGradient><linearGradient id="b65" gradientUnits="userSpaceOnUse" x1="0" x2="76.9" y1="0" y2="0"><stop offset="0" stop-color="#fb4508"/><stop offset="0.115" stop-color="#fb4f07"/><stop offset="0.231" stop-color="#fc6e06"/><stop offset="0.353" stop-color="#fd9f04"/><stop offset="0.545" stop-color="#fefe01"/><stop offset="0.615" stop-color="#bebe43"/><stop offset="0.679" stop-color="#8c8c76"/><stop offset="0.744" stop-color="#6262a0"/><stop offset="0.801" stop-color="#4646bd"/><stop offset="0.846" stop-color="#3636cd"/><stop offset="0.885" stop-color="#3232d1"/><stop offset="0.942" stop-color="#3535ce"/><stop offset="1" stop-color="#3f3fc4"/></linearGradient><linearGradient id="b66" gradientUnits="userSpaceOnUse" x1="0" x2="76.9" y1="0" y2="0"><stop offset="0" stop-color="#fb4008"/><stop offset="0.115" stop-color="#fb4b08"/><stop offset="0.237" stop-color="#fc6b06"/><stop offset="0.365" stop-color="#fda004"/><stop offset="0.551" stop-color="#ffff00"/><stop offset="0.622" stop-color="#bebe43"/><stop offset="0.686" stop-color="#8b8b77"/><stop offset="0.75" stop-color="#6060a2"/><stop offset="0.808" stop-color="#4343c0"/><stop offset="0.846" stop-color="#3535ce"/><stop offset="0.891" stop-color="#2e2ed5"/><stop offset="0.942" stop-color="#2f2fd4"/><stop offset="1" stop-color="#3838cb"/></linearGradient><linearGradient id="b67" gradientUnits="userSpaceOnUse" x1="0" x2="76.9" y1="0" y2="0"><stop offset="0" stop-color="#fb3c08"/><stop offset="0.115" stop-color="#fb4708"/><stop offset="0.237" stop-color="#fc6706"/><stop offset="0.372" stop-color="#fd9f04"/><stop offset="0.558" stop-color="#fffe00"/><stop offset="0.635" stop-color="#b8b848"/><stop offset="0.692" stop-color="#8a8a78"/><stop offset="0.756" stop-color="#5e5ea4"/><stop offset="0.814" stop-color="#4040c3"/><stop offset="0.859" stop-color="#3131d2"/><stop offset="0.897" stop-color="#2b2bd8"/><stop offset="0.949" stop-color="#2b2bd8"/><stop offset="1" stop-color="#3131d2"/></linearGradient><linearGradient id="b68" gradientUnits="userSpaceOnUse" x1="0" x2="76.9" y1="0" y2="0"><stop offset="0" stop-color="#fb3808"/><stop offset="0.122" stop-color="#fb4408"/><stop offset="0.244" stop-color="#fc6507"/><stop offset="0.378" stop-color="#fd9d04"/><stop offset="0.564" stop-color="#fffd00"/><stop offset="0.571" stop-color="#fbfb04"/><stop offset="0.635" stop-color="#bebe42"/><stop offset="0.692" stop-color="#8e8e74"/><stop offset="0.75" stop-color="#65659e"/><stop offset="0.801" stop-color="#4747bc"/><stop offset="0.853" stop-color="#3333d0"/><stop offset="0.897" stop-color="#2828db"/><stop offset="0.949" stop-color="#2626dd"/><stop offset="1" stop-color="#2b2bd8"/></linearGradient><linearGradient id="b69" gradientUnits="userSpaceOnUse" x1="0" x2="76.9" y1="0" y2="0"><stop offset="0" stop-color="#fb3509"/><stop offset="0.122" stop-color="#fb4008"/><stop offset="0.244" stop-color="#fc6107"/><stop offset="0.365" stop-color="#fd9305"/><stop offset="0.577" stop-color="#fdfd02"/><stop offset="0.635" stop-color="#c4c43c"/><stop offset="0.686" stop-color="#97976a"/><stop offset="0.744" stop-color="#6c6c96"/><stop offset="0.795" stop-color="#4c4cb7"/><stop offset="0.846" stop-color="#3535ce"/><stop offset="0.897" stop-color="#2727dd"/><stop offset="0.942" stop-color="#2222e1"/><stop offset="1" stop-color="#2525de"/></linearGradient><linearGradient id="b70" gradientUnits="userSpaceOnUse" x1="0" x2="76.9" y1="0" y2="0"><stop offset="0" stop-color="#fb3209"/><stop offset="0.122" stop-color="#fb3d08"/><stop offset="0.25" stop-color="#fc6007"/><stop offset="0.385" stop-color="#fd9804"/><stop offset="0.583" stop-color="#fefe01"/><stop offset="0.641" stop-color="#c5c53c"/><stop offset="0.692" stop-color="#97976a"/><stop offset="0.75" stop-color="#6b6b97"/><stop offset="0.795" stop-color="#4f4fb4"/><stop offset="0.853" stop-color="#3434cf"/><stop offset="0.904" stop-color="#2424df"/><stop offset="0.949" stop-color="#1f1fe5"/><stop offset="1" stop-color="#2020e3"/></linearGradient><linearGradient id="b71" gradientUnits="userSpaceOnUse" x1="0" x2="76.9" y1="0" y2="0"><stop offset="0" stop-color="#fb2f09"/><stop offset="0.064" stop-color="#fb3209"/><stop offset="0.128" stop-color="#fb3b08"/><stop offset="0.256" stop-color="#fc5f07"/><stop offset="0.397" stop-color="#fd9a04"/><stop offset="0.59" stop-color="#ffff00"/><stop offset="0.647" stop-color="#c5c53b"/><stop offset="0.705" stop-color="#919170"/><stop offset="0.756" stop-color="#696999"/><stop offset="0.801" stop-color="#4e4eb5"/><stop offset="0.853" stop-color="#3535ce"/><stop offset="0.904" stop-color="#2424e0"/><stop offset="0.949" stop-color="#1c1ce8"/><stop offset="1" stop-color="#1b1be8"/></linearGradient><linearGradient id="b72" gradientUnits="userSpaceOnUse" x1="0" x2="76.9" y1="0" y2="0"><stop offset="0" stop-color="#fb2d09"/><stop offset="0.128" stop-color="#fb3908"/><stop offset="0.256" stop-color="#fc5c07"/><stop offset="0.397" stop-color="#fd9704"/><stop offset="0.596" stop-color="#fffe00"/><stop offset="0.712" stop-color="#919170"/><stop offset="0.75" stop-color="#73738f"/><stop offset="0.801" stop-color="#5151b1"/><stop offset="0.853" stop-color="#3737cc"/><stop offset="0.904" stop-color="#2424e0"/><stop offset="0.949" stop-color="#1919ea"/><stop offset="1" stop-color="#1717ed"/></linearGradient><linearGradient id="b73" gradientUnits="userSpaceOnUse" x1="0" x2="76.9" y1="0" y2="0"><stop offset="0" stop-color="#fa2b09"/><stop offset="0.128" stop-color="#fb3709"/><stop offset="0.263" stop-color="#fc5b07"/><stop offset="0.404" stop-color="#fd9604"/><stop offset="0.603" stop-color="#fffd00"/><stop offset="0.609" stop-color="#fcfc03"/><stop offset="0.667" stop-color="#c0c040"/><stop offset="0.718" stop-color="#919170"/><stop offset="0.808" stop-color="#5151b2"/><stop offset="0.859" stop-color="#3636cd"/><stop offset="0.91" stop-color="#2222e2"/><stop offset="0.955" stop-color="#1616ed"/><stop offset="1" stop-color="#1313f1"/></linearGradient><linearGradient id="b74" gradientUnits="userSpaceOnUse" x1="0" x2="76.9" y1="0" y2="0"><stop offset="0" stop-color="#fa2a09"/><stop offset="0.128" stop-color="#fb3609"/><stop offset="0.263" stop-color="#fb5907"/><stop offset="0.397" stop-color="#fd9005"/><stop offset="0.615" stop-color="#fdfd02"/><stop offset="0.712" stop-color="#9c9c65"/><stop offset="0.756" stop-color="#78788a"/><stop offset="0.808" stop-color="#5555ae"/><stop offset="0.859" stop-color="#3838cb"/><stop offset="0.91" stop-color="#2222e1"/><stop offset="0.962" stop-color="#1414f0"/><stop offset="1" stop-color="#0f0ff5"/></linearGradient><linearGradient id="b75" gradientUnits="userSpaceOnUse" x1="0" x2="76.9" y1="0" y2="0"><stop offset="0" stop-color="#fa2909"/><stop offset="0.064" stop-color="#fb2c09"/><stop offset="0.135" stop-color="#fb3609"/><stop offset="0.269" stop-color="#fb5a07"/><stop offset="0.417" stop-color="#fd9604"/><stop offset="0.622" stop-color="#ffff00"/><stop offset="0.673" stop-color="#c8c838"/><stop offset="0.718" stop-color="#9d9d64"/><stop offset="0.814" stop-color="#5555ae"/><stop offset="0.91" stop-color="#2323e0"/><stop offset="0.955" stop-color="#1515ef"/><stop offset="1" stop-color="#0c0cf8"/></linearGradient><linearGradient id="b76" gradientUnits="userSpaceOnUse" x1="0" x2="76.9" y1="0" y2="0"><stop offset="0" stop-color="#fa2909"/><stop offset="0.064" stop-color="#fb2c09"/><stop offset="0.135" stop-color="#fb3509"/><stop offset="0.269" stop-color="#fb5807"/><stop offset="0.423" stop-color="#fd9704"/><stop offset="0.628" stop-color="#fffe00"/><stop offset="0.724" stop-color="#9e9e63"/><stop offset="0.814" stop-color="#5959aa"/><stop offset="0.91" stop-color="#2525df"/><stop offset="1" stop-color="#0a0afa"/></linearGradient><clipPath id="cq"><rect x="-0.6" y="-0.6" width="77.5" height="77.1"/></clipPath><g id="bq" clip-path="url(#cq)"><rect x="-1" y="-0.3" width="77.9" height="1.6" fill="url(#b0)"/><rect x="-1" y="0.7" width="77.9" height="1.6" fill="url(#b1)"/><rect x="-1" y="1.7" width="77.9" height="1.6" fill="url(#b2)"/><rect x="-1" y="2.7" width="77.9" height="1.6" fill="url(#b3)"/><rect x="-1" y="3.7" width="77.9" height="1.6" fill="url(#b4)"/><rect x="-1" y="4.7" width="77.9" height="1.6" fill="url(#b5)"/><rect x="-1" y="5.7" width="77.9" height="1.6" fill="url(#b6)"/><rect x="-1" y="6.7" width="77.9" height="1.6" fill="url(#b7)"/><rect x="-1" y="7.7" width="77.9" height="1.6" fill="url(#b8)"/><rect x="-1" y="8.7" width="77.9" height="1.6" fill="url(#b9)"/><rect x="-1" y="9.7" width="77.9" height="1.6" fill="url(#b10)"/><rect x="-1" y="10.7" width="77.9" height="1.6" fill="url(#b11)"/><rect x="-1" y="11.7" width="77.9" height="1.6" fill="url(#b12)"/><rect x="-1" y="12.7" width="77.9" height="1.6" fill="url(#b13)"/><rect x="-1" y="13.7" width="77.9" height="1.6" fill="url(#b14)"/><rect x="-1" y="14.7" width="77.9" height="1.6" fill="url(#b15)"/><rect x="-1" y="15.7" width="77.9" height="1.6" fill="url(#b16)"/><rect x="-1" y="16.7" width="77.9" height="1.6" fill="url(#b17)"/><rect x="-1" y="17.7" width="77.9" height="1.6" fill="url(#b18)"/><rect x="-1" y="18.7" width="77.9" height="1.6" fill="url(#b19)"/><rect x="-1" y="19.7" width="77.9" height="1.6" fill="url(#b20)"/><rect x="-1" y="20.7" width="77.9" height="1.6" fill="url(#b21)"/><rect x="-1" y="21.7" width="77.9" height="1.6" fill="url(#b22)"/><rect x="-1" y="22.7" width="77.9" height="1.6" fill="url(#b23)"/><rect x="-1" y="23.7" width="77.9" height="1.6" fill="url(#b24)"/><rect x="-1" y="24.7" width="77.9" height="1.6" fill="url(#b25)"/><rect x="-1" y="25.7" width="77.9" height="1.6" fill="url(#b26)"/><rect x="-1" y="26.7" width="77.9" height="1.6" fill="url(#b27)"/><rect x="-1" y="27.7" width="77.9" height="1.6" fill="url(#b28)"/><rect x="-1" y="28.7" width="77.9" height="1.6" fill="url(#b29)"/><rect x="-1" y="29.7" width="77.9" height="1.6" fill="url(#b30)"/><rect x="-1" y="30.7" width="77.9" height="1.6" fill="url(#b31)"/><rect x="-1" y="31.7" width="77.9" height="1.6" fill="url(#b32)"/><rect x="-1" y="32.7" width="77.9" height="1.6" fill="url(#b33)"/><rect x="-1" y="33.7" width="77.9" height="1.6" fill="url(#b34)"/><rect x="-1" y="34.7" width="77.9" height="1.6" fill="url(#b35)"/><rect x="-1" y="35.7" width="77.9" height="1.6" fill="url(#b36)"/><rect x="-1" y="36.7" width="77.9" height="1.6" fill="url(#b37)"/><rect x="-1" y="37.7" width="77.9" height="1.6" fill="url(#b38)"/><rect x="-1" y="38.7" width="77.9" height="1.6" fill="url(#b39)"/><rect x="-1" y="39.7" width="77.9" height="1.6" fill="url(#b40)"/><rect x="-1" y="40.7" width="77.9" height="1.6" fill="url(#b41)"/><rect x="-1" y="41.7" width="77.9" height="1.6" fill="url(#b42)"/><rect x="-1" y="42.7" width="77.9" height="1.6" fill="url(#b43)"/><rect x="-1" y="43.7" width="77.9" height="1.6" fill="url(#b44)"/><rect x="-1" y="44.7" width="77.9" height="1.6" fill="url(#b45)"/><rect x="-1" y="45.7" width="77.9" height="1.6" fill="url(#b46)"/><rect x="-1" y="46.7" width="77.9" height="1.6" fill="url(#b47)"/><rect x="-1" y="47.7" width="77.9" height="1.6" fill="url(#b48)"/><rect x="-1" y="48.7" width="77.9" height="1.6" fill="url(#b49)"/><rect x="-1" y="49.7" width="77.9" height="1.6" fill="url(#b50)"/><rect x="-1" y="50.7" width="77.9" height="1.6" fill="url(#b51)"/><rect x="-1" y="51.7" width="77.9" height="1.6" fill="url(#b52)"/><rect x="-1" y="52.7" width="77.9" height="1.6" fill="url(#b53)"/><rect x="-1" y="53.7" width="77.9" height="1.6" fill="url(#b54)"/><rect x="-1" y="54.7" width="77.9" height="1.6" fill="url(#b55)"/><rect x="-1" y="55.7" width="77.9" height="1.6" fill="url(#b56)"/><rect x="-1" y="56.7" width="77.9" height="1.6" fill="url(#b57)"/><rect x="-1" y="57.7" width="77.9" height="1.6" fill="url(#b58)"/><rect x="-1" y="58.7" width="77.9" height="1.6" fill="url(#b59)"/><rect x="-1" y="59.7" width="77.9" height="1.6" fill="url(#b60)"/><rect x="-1" y="60.7" width="77.9" height="1.6" fill="url(#b61)"/><rect x="-1" y="61.7" width="77.9" height="1.6" fill="url(#b62)"/><rect x="-1" y="62.7" width="77.9" height="1.6" fill="url(#b63)"/><rect x="-1" y="63.7" width="77.9" height="1.6" fill="url(#b64)"/><rect x="-1" y="64.7" width="77.9" height="1.6" fill="url(#b65)"/><rect x="-1" y="65.7" width="77.9" height="1.6" fill="url(#b66)"/><rect x="-1" y="66.7" width="77.9" height="1.6" fill="url(#b67)"/><rect x="-1" y="67.7" width="77.9" height="1.6" fill="url(#b68)"/><rect x="-1" y="68.7" width="77.9" height="1.6" fill="url(#b69)"/><rect x="-1" y="69.7" width="77.9" height="1.6" fill="url(#b70)"/><rect x="-1" y="70.7" width="77.9" height="1.6" fill="url(#b71)"/><rect x="-1" y="71.7" width="77.9" height="1.6" fill="url(#b72)"/><rect x="-1" y="72.7" width="77.9" height="1.6" fill="url(#b73)"/><rect x="-1" y="73.7" width="77.9" height="1.6" fill="url(#b74)"/><rect x="-1" y="74.7" width="77.9" height="1.6" fill="url(#b75)"/><rect x="-1" y="75.7" width="77.9" height="1.6" fill="url(#b76)"/></g><clipPath id="cb"><rect x="247.3" y="17.9" width="153.9" height="153"/></clipPath><filter id="bl1" filterUnits="userSpaceOnUse" x="0" y="190" width="685" height="393"><feGaussianBlur stdDeviation="0.45"/></filter><filter id="bl2" filterUnits="userSpaceOnUse" x="0" y="190" width="685" height="393"><feGaussianBlur stdDeviation="1.1"/></filter><filter id="bl3" filterUnits="userSpaceOnUse" x="0" y="190" width="685" height="393"><feGaussianBlur stdDeviation="2.2"/></filter><filter id="bl4" filterUnits="userSpaceOnUse" x="0" y="190" width="685" height="393"><feGaussianBlur stdDeviation="4"/></filter><clipPath id="cd"><rect x="47.6" y="233.3" width="228.5" height="141.4"/></clipPath><clipPath id="cf"><rect x="396.5" y="233.3" width="228.7" height="141.4"/></clipPath><clipPath id="ce"><rect x="47.6" y="427.9" width="228.5" height="141.5"/></clipPath><clipPath id="cg"><rect x="396.5" y="427.9" width="228.7" height="141.5"/></clipPath></defs><rect width="685" height="583" fill="#fff"/><text x="15.6" y="10.8" font-size="13.5" fill="#111" font-weight="bold">a</text>
<line x1="53.4" y1="149.6" x2="118.3" y2="116.1" stroke="#1a1a1a" stroke-width="0.9"/>
<line x1="118.3" y1="116.1" x2="219.1" y2="138.2" stroke="#1a1a1a" stroke-width="0.9"/>
<g stroke-width="0.7" stroke-linejoin="round"><path d="M117.1 115.4 118.7 115.4 120.3 114.8 121.9 113.6 123.4 112 125 109.9 126.6 107.4 128.2 104.5 129.7 101.2 131.3 97.5 132.9 93.2 134.5 88.6 136 83.6 137.6 78.3 139.2 73.5 140.8 68.8 142.3 64.2 143.9 59.6 145.5 55.1 147.1 50.8 148.6 46.7 150.2 42.8 151.8 39.1 153.4 35.8 154.9 32.7 156.5 30 158.1 27.7 159.7 25.7 161.2 24.1 162.8 23 164.4 22.3 166 21.9 167.5 22.1 169.1 22.6 170.7 23.6 172.3 25.1 173.8 26.9 175.4 29.2 177 31.8 178.6 34.9 180.1 38.3 181.7 42 183.3 46.1 184.9 50.4 186.4 55 188 59.8 189.6 64.8 191.2 70 192.7 75.2 194.3 80.6 195.9 86 197.5 91.4 199 97.4 200.6 103.1 202.2 108.4 203.8 113.4 205.3 117.8 206.9 121.8 208.5 125.4 210.1 128.5 211.6 131.3 213.2 133.6 214.8 135.5 216.4 136.8 217.9 137.5 219.1 138.2 217.5 136.8 215.9 134.9 214.4 132.5 212.8 129.7 211.2 126.6 209.6 123 208.1 119 206.5 114.7 204.9 109.9 203.3 104.7 201.8 99 200.2 93 198.6 87.3 197 82.1 195.5 76.8 193.9 71.6 192.3 66.6 190.8 61.6 189.2 56.8 187.6 52.2 186 47.8 184.4 43.7 182.9 39.8 181.3 36.3 179.7 33.1 178.1 30.2 176.6 27.7 175 25.5 173.4 23.8 171.8 22.4 170.3 21.4 168.7 20.9 167.1 20.7 165.6 21 164 21.7 162.4 22.8 160.8 24.2 159.2 26 157.7 28.2 156.1 30.8 154.5 33.6 152.9 36.8 151.4 40.2 149.8 43.9 148.2 47.8 146.7 51.9 145.1 56.2 143.5 60.6 141.9 65.1 140.3 69.6 138.8 74.2 137.2 79.2 135.6 84.5 134.1 89.5 132.5 94 130.9 98.1 129.3 101.8 127.8 105 126.2 107.9 124.6 110.4 123 112.5 121.5 114.1 119.9 115.4 118.3 116.1z" fill="url(#a55)" stroke="url(#a55)"/><path d="M116 114.1 117.6 114.6 119.1 114.7 120.7 114.2 122.3 113 123.9 111.4 125.4 109.4 127 106.9 128.6 103.9 130.2 100.3 131.7 96.4 133.3 92.2 134.9 87.6 136.5 82.8 138 77.7 139.6 72.9 141.2 68.2 142.8 63.5 144.3 58.9 145.9 54.5 147.5 50.2 149.1 46.1 150.6 42.3 152.2 38.8 153.8 35.7 155.4 32.8 156.9 30.3 158.5 28.3 160.1 26.6 161.7 25.4 163.2 24.6 164.8 24.2 166.4 24.4 168 24.9 169.5 26 171.1 27.4 172.7 29.4 174.3 31.7 175.8 34.5 177.4 37.6 179 41.2 180.6 45.1 182.1 49.2 183.7 53.7 185.3 58.5 186.9 63.4 188.4 68.6 190 73.8 191.6 79.2 193.2 84.7 194.7 90.1 196.3 95.9 197.9 101.5 199.5 106.7 201 111.6 202.6 116.2 204.2 120.5 205.8 124.2 207.3 127.3 208.9 130.1 210.5 132.4 212.1 134.2 213.6 135.4 215.2 136 216.8 136.2 217.9 137.5 216.4 136.8 214.8 135.5 213.2 133.6 211.6 131.3 210.1 128.5 208.5 125.4 206.9 121.8 205.3 117.8 203.8 113.4 202.2 108.4 200.6 103.1 199 97.4 197.5 91.4 195.9 86 194.3 80.6 192.7 75.2 191.2 70 189.6 64.8 188 59.8 186.4 55 184.9 50.4 183.3 46.1 181.7 42 180.1 38.3 178.6 34.9 177 31.8 175.4 29.2 173.8 26.9 172.3 25.1 170.7 23.6 169.1 22.6 167.5 22.1 166 21.9 164.4 22.3 162.8 23 161.2 24.1 159.7 25.7 158.1 27.7 156.5 30 154.9 32.7 153.4 35.8 151.8 39.1 150.2 42.8 148.6 46.7 147.1 50.8 145.5 55.1 143.9 59.6 142.3 64.2 140.8 68.8 139.2 73.5 137.6 78.3 136 83.6 134.5 88.6 132.9 93.2 131.3 97.5 129.7 101.2 128.2 104.5 126.6 107.4 125 109.9 123.4 112 121.9 113.6 120.3 114.8 118.7 115.4 117.1 115.4z" fill="url(#a54)" stroke="url(#a54)"/><path d="M114.8 112.2 116.4 113.2 118 113.8 119.5 114 121.1 113.5 122.7 112.5 124.3 110.9 125.8 108.6 127.4 105.8 129 102.7 130.6 99.2 132.1 95.4 133.7 91.2 135.3 86.8 136.9 82 138.4 77.1 140 72.4 141.6 67.7 143.2 63.1 144.7 58.6 146.3 54.2 147.9 50.1 149.5 46.2 151 42.6 152.6 39.4 154.2 36.4 155.8 33.9 157.3 31.7 158.9 30 160.5 28.7 162.1 27.9 163.6 27.5 165.2 27.7 166.8 28.2 168.4 29.3 169.9 30.8 171.5 32.8 173.1 35.2 174.7 38 176.2 41.3 177.8 44.9 179.4 48.9 181 53.1 182.5 57.7 184.1 62.5 185.7 67.5 187.3 72.7 188.8 78 190.4 83.4 192 88.8 193.6 94.4 195.1 99.9 196.7 105.1 198.3 109.9 199.9 114.4 201.4 118.6 203 122.4 204.6 125.9 206.2 128.9 207.7 131.1 209.3 132.9 210.9 134 212.5 134.6 214 134.6 215.6 134.3 216.8 136.2 215.2 136 213.6 135.4 212.1 134.2 210.5 132.4 208.9 130.1 207.3 127.3 205.8 124.2 204.2 120.5 202.6 116.2 201 111.6 199.5 106.7 197.9 101.5 196.3 95.9 194.7 90.1 193.2 84.7 191.6 79.2 190 73.8 188.4 68.6 186.9 63.4 185.3 58.5 183.7 53.7 182.1 49.2 180.6 45.1 179 41.2 177.4 37.6 175.8 34.5 174.3 31.7 172.7 29.4 171.1 27.4 169.5 26 168 24.9 166.4 24.4 164.8 24.2 163.2 24.6 161.7 25.4 160.1 26.6 158.5 28.3 156.9 30.3 155.4 32.8 153.8 35.7 152.2 38.8 150.6 42.3 149.1 46.1 147.5 50.2 145.9 54.5 144.3 58.9 142.8 63.5 141.2 68.2 139.6 72.9 138 77.7 136.5 82.8 134.9 87.6 133.3 92.2 131.7 96.4 130.2 100.3 128.6 103.9 127 106.9 125.4 109.4 123.9 111.4 122.3 113 120.7 114.2 119.1 114.7 117.6 114.6 116 114.1z" fill="url(#a53)" stroke="url(#a53)"/><path d="M113.7 109.9 115.2 111.3 116.8 112.3 118.4 113 120 113.3 121.5 112.9 123.1 111.5 124.7 109.6 126.3 107.3 127.8 104.6 129.4 101.6 131 98.1 132.6 94.4 134.1 90.3 135.7 85.9 137.3 81.3 138.9 76.6 140.4 72 142 67.4 143.6 63 145.2 58.7 146.7 54.5 148.3 50.6 149.9 47 151.5 43.7 153 40.8 154.6 38.2 156.2 36 157.8 34.2 159.3 32.9 160.9 32.1 162.5 31.7 164.1 31.8 165.6 32.4 167.2 33.5 168.8 35 170.4 37 171.9 39.4 173.5 42.3 175.1 45.6 176.7 49.2 178.2 53.2 179.8 57.6 181.4 62.1 183 67 184.5 72 186.1 77.1 187.7 82.4 189.3 87.7 190.8 93 192.4 98.4 194 103.4 195.6 108.2 197.1 112.6 198.7 116.7 200.3 120.5 201.9 123.9 203.4 126.9 205 129.5 206.6 131.6 208.2 132.6 209.7 133.1 211.3 133.1 212.9 132.7 214.5 132 215.6 134.3 214 134.6 212.5 134.6 210.9 134 209.3 132.9 207.7 131.1 206.2 128.9 204.6 125.9 203 122.4 201.4 118.6 199.9 114.4 198.3 109.9 196.7 105.1 195.1 99.9 193.6 94.4 192 88.8 190.4 83.4 188.8 78 187.3 72.7 185.7 67.5 184.1 62.5 182.5 57.7 181 53.1 179.4 48.9 177.8 44.9 176.2 41.3 174.7 38 173.1 35.2 171.5 32.8 169.9 30.8 168.4 29.3 166.8 28.2 165.2 27.7 163.6 27.5 162.1 27.9 160.5 28.7 158.9 30 157.3 31.7 155.8 33.9 154.2 36.4 152.6 39.4 151 42.6 149.5 46.2 147.9 50.1 146.3 54.2 144.7 58.6 143.2 63.1 141.6 67.7 140 72.4 138.4 77.1 136.9 82 135.3 86.8 133.7 91.2 132.1 95.4 130.6 99.2 129 102.7 127.4 105.8 125.8 108.6 124.3 110.9 122.7 112.5 121.1 113.5 119.5 114 118 113.8 116.4 113.2 114.8 112.2z" fill="url(#a52)" stroke="url(#a52)"/><path d="M112.5 106.9 114.1 108.7 115.7 110.3 117.2 111.4 118.8 112.2 120.4 112.1 122 111.4 123.5 110.1 125.1 108.3 126.7 106 128.3 103.4 129.8 100.4 131.4 97.1 133 93.4 134.6 89.5 136.1 85.2 137.7 80.7 139.3 76.3 140.9 71.9 142.4 67.5 144 63.3 145.6 59.3 147.2 55.4 148.7 51.8 150.3 48.6 151.9 45.6 153.5 43 155 40.8 156.6 39.1 158.2 37.8 159.8 36.9 161.3 36.5 162.9 36.6 164.5 37.2 166.1 38.3 167.6 39.8 169.2 41.8 170.8 44.3 172.4 47.2 173.9 50.4 175.5 54.1 177.1 58.1 178.7 62.3 180.2 66.9 181.8 71.6 183.4 76.5 185 81.5 186.5 86.6 188.1 91.7 189.7 97 191.3 101.9 192.8 106.5 194.4 110.9 196 114.9 197.6 118.6 199.1 121.9 200.7 124.8 202.3 127.4 203.9 129.4 205.4 130.7 207 131.5 208.6 131.4 210.2 131 211.7 130.2 213.3 129 214.5 132 212.9 132.7 211.3 133.1 209.7 133.1 208.2 132.6 206.6 131.6 205 129.5 203.4 126.9 201.9 123.9 200.3 120.5 198.7 116.7 197.1 112.6 195.6 108.2 194 103.4 192.4 98.4 190.8 93 189.3 87.7 187.7 82.4 186.1 77.1 184.5 72 183 67 181.4 62.1 179.8 57.6 178.2 53.2 176.7 49.2 175.1 45.6 173.5 42.3 171.9 39.4 170.4 37 168.8 35 167.2 33.5 165.6 32.4 164.1 31.8 162.5 31.7 160.9 32.1 159.3 32.9 157.8 34.2 156.2 36 154.6 38.2 153 40.8 151.5 43.7 149.9 47 148.3 50.6 146.7 54.5 145.2 58.7 143.6 63 142 67.4 140.4 72 138.9 76.6 137.3 81.3 135.7 85.9 134.1 90.3 132.6 94.4 131 98.1 129.4 101.6 127.8 104.6 126.3 107.3 124.7 109.6 123.1 111.5 121.5 112.9 120 113.3 118.4 113 116.8 112.3 115.2 111.3 113.7 109.9z" fill="url(#a51)" stroke="url(#a51)"/><path d="M111.3 103.5 112.9 105.7 114.5 107.6 116.1 109.2 117.6 110 119.2 110.5 120.8 110.5 122.4 109.9 123.9 108.7 125.5 106.9 127.1 104.7 128.7 102.2 130.2 99.3 131.8 96.1 133.4 92.6 135 88.8 136.5 84.6 138.1 80.3 139.7 76.1 141.3 72 142.8 68 144.4 64.1 146 60.4 147.6 56.9 149.1 53.7 150.7 50.8 152.3 48.3 153.9 46.1 155.4 44.4 157 43.1 158.6 42.3 160.2 41.9 161.7 42 163.3 42.6 164.9 43.6 166.5 45.2 168 47.2 169.6 49.6 171.2 52.4 172.8 55.6 174.3 59.2 175.9 63.1 177.5 67.3 179.1 71.7 180.6 76.3 182.2 81 183.8 85.8 185.4 90.7 186.9 95.7 188.5 100.5 190.1 105 191.7 109.3 193.2 113.1 194.8 116.7 196.4 119.9 198 122.8 199.5 125.2 201.1 127.2 202.7 128.4 204.3 129.1 205.8 129.4 207.4 129.2 209 128.3 210.6 127.1 212.1 125.6 213.3 129 211.7 130.2 210.2 131 208.6 131.4 207 131.5 205.4 130.7 203.9 129.4 202.3 127.4 200.7 124.8 199.1 121.9 197.6 118.6 196 114.9 194.4 110.9 192.8 106.5 191.3 101.9 189.7 97 188.1 91.7 186.5 86.6 185 81.5 183.4 76.5 181.8 71.6 180.2 66.9 178.7 62.3 177.1 58.1 175.5 54.1 173.9 50.4 172.4 47.2 170.8 44.3 169.2 41.8 167.6 39.8 166.1 38.3 164.5 37.2 162.9 36.6 161.3 36.5 159.8 36.9 158.2 37.8 156.6 39.1 155 40.8 153.5 43 151.9 45.6 150.3 48.6 148.7 51.8 147.2 55.4 145.6 59.3 144 63.3 142.4 67.5 140.9 71.9 139.3 76.3 137.7 80.7 136.1 85.2 134.6 89.5 133 93.4 131.4 97.1 129.8 100.4 128.3 103.4 126.7 106 125.1 108.3 123.5 110.1 122 111.4 120.4 112.1 118.8 112.2 117.2 111.4 115.7 110.3 114.1 108.7 112.5 106.9z" fill="url(#a50)" stroke="url(#a50)"/><path d="M110.2 99.5 111.8 102.1 113.3 104.4 114.9 106.1 116.5 107.4 118.1 108.3 119.6 108.8 121.2 108.8 122.8 108.4 124.4 107.2 125.9 105.5 127.5 103.5 129.1 101.1 130.7 98.4 132.2 95.3 133.8 91.9 135.4 88.1 137 84.1 138.5 80.1 140.1 76.3 141.7 72.5 143.3 68.8 144.8 65.3 146.4 62 148 58.9 149.6 56.1 151.1 53.7 152.7 51.6 154.3 50 155.9 48.7 157.4 47.9 159 47.6 160.6 47.7 162.2 48.3 163.7 49.3 165.3 50.8 166.9 52.7 168.5 55.1 170 57.8 171.6 61 173.2 64.4 174.8 68.2 176.3 72.2 177.9 76.4 179.5 80.8 181.1 85.3 182.6 89.8 184.2 94.4 185.8 99.2 187.4 103.6 188.9 107.7 190.5 111.5 192.1 115 193.7 118 195.2 120.7 196.8 123.1 198.4 124.9 200 126.1 201.5 126.7 203.1 126.9 204.7 126.7 206.3 126.1 207.8 125.1 209.4 123.5 211 121.6 212.1 125.6 210.6 127.1 209 128.3 207.4 129.2 205.8 129.4 204.3 129.1 202.7 128.4 201.1 127.2 199.5 125.2 198 122.8 196.4 119.9 194.8 116.7 193.2 113.1 191.7 109.3 190.1 105 188.5 100.5 186.9 95.7 185.4 90.7 183.8 85.8 182.2 81 180.6 76.3 179.1 71.7 177.5 67.3 175.9 63.1 174.3 59.2 172.8 55.6 171.2 52.4 169.6 49.6 168 47.2 166.5 45.2 164.9 43.6 163.3 42.6 161.7 42 160.2 41.9 158.6 42.3 157 43.1 155.4 44.4 153.9 46.1 152.3 48.3 150.7 50.8 149.1 53.7 147.6 56.9 146 60.4 144.4 64.1 142.8 68 141.3 72 139.7 76.1 138.1 80.3 136.5 84.6 135 88.8 133.4 92.6 131.8 96.1 130.2 99.3 128.7 102.2 127.1 104.7 125.5 106.9 123.9 108.7 122.4 109.9 120.8 110.5 119.2 110.5 117.6 110 116.1 109.2 114.5 107.6 112.9 105.7 111.3 103.5z" fill="url(#a49)" stroke="url(#a49)"/><path d="M109 95 110.6 98 112.2 100.4 113.8 102.5 115.3 104.2 116.9 105.5 118.5 106.5 120.1 107.1 121.6 107.2 123.2 106.8 124.8 105.9 126.4 104.4 127.9 102.5 129.5 100.1 131.1 97.5 132.7 94.5 134.2 91.1 135.8 87.5 137.4 83.6 139 80.2 140.5 76.7 142.1 73.3 143.7 70 145.3 66.9 146.8 64.1 148.4 61.5 150 59.2 151.6 57.2 153.1 55.6 154.7 54.5 156.3 53.7 157.9 53.4 159.4 53.5 161 54.1 162.6 55.1 164.2 56.5 165.7 58.4 167.3 60.7 168.9 63.3 170.5 66.3 172 69.6 173.6 73.2 175.2 76.9 176.8 80.9 178.3 85 179.9 89.1 181.5 93.3 183.1 97.9 184.6 102.2 186.2 106.2 187.8 109.9 189.4 113.3 190.9 116.3 192.5 118.9 194.1 121.1 195.7 122.7 197.2 123.8 198.8 124.3 200.4 124.5 202 124.2 203.5 123.5 205.1 122.5 206.7 121.1 208.3 119.4 209.8 117.1 211 121.6 209.4 123.5 207.8 125.1 206.3 126.1 204.7 126.7 203.1 126.9 201.5 126.7 200 126.1 198.4 124.9 196.8 123.1 195.2 120.7 193.7 118 192.1 115 190.5 111.5 188.9 107.7 187.4 103.6 185.8 99.2 184.2 94.4 182.6 89.8 181.1 85.3 179.5 80.8 177.9 76.4 176.3 72.2 174.8 68.2 173.2 64.4 171.6 61 170 57.8 168.5 55.1 166.9 52.7 165.3 50.8 163.7 49.3 162.2 48.3 160.6 47.7 159 47.6 157.4 47.9 155.9 48.7 154.3 50 152.7 51.6 151.1 53.7 149.6 56.1 148 58.9 146.4 62 144.8 65.3 143.3 68.8 141.7 72.5 140.1 76.3 138.5 80.1 137 84.1 135.4 88.1 133.8 91.9 132.2 95.3 130.7 98.4 129.1 101.1 127.5 103.5 125.9 105.5 124.4 107.2 122.8 108.4 121.2 108.8 119.6 108.8 118.1 108.3 116.5 107.4 114.9 106.1 113.3 104.4 111.8 102.1 110.2 99.5z" fill="url(#a48)" stroke="url(#a48)"/><path d="M107.9 90 109.4 93.1 111 95.9 112.6 98.4 114.2 100.6 115.7 102.3 117.3 103.7 118.9 104.8 120.5 105.4 122 105.7 123.6 105.5 125.2 104.7 126.8 103.2 128.3 101.4 129.9 99.1 131.5 96.6 133.1 93.7 134.6 90.6 136.2 87.1 137.8 83.6 139.4 80.5 140.9 77.4 142.5 74.5 144.1 71.7 145.7 69 147.2 66.6 148.8 64.5 150.4 62.7 152 61.3 153.5 60.2 155.1 59.5 156.7 59.2 158.3 59.3 159.8 59.9 161.4 60.9 163 62.2 164.6 64 166.1 66.2 167.7 68.7 169.3 71.5 170.9 74.5 172.4 77.9 174 81.4 175.6 85 177.2 88.8 178.7 92.5 180.3 96.8 181.9 100.9 183.5 104.8 185 108.3 186.6 111.6 188.2 114.5 189.8 117 191.3 119.2 192.9 120.7 194.5 121.6 196.1 122 197.6 122 199.2 121.7 200.8 121 202.4 119.9 203.9 118.5 205.5 116.7 207.1 114.5 208.7 112.1 209.8 117.1 208.3 119.4 206.7 121.1 205.1 122.5 203.5 123.5 202 124.2 200.4 124.5 198.8 124.3 197.2 123.8 195.7 122.7 194.1 121.1 192.5 118.9 190.9 116.3 189.4 113.3 187.8 109.9 186.2 106.2 184.6 102.2 183.1 97.9 181.5 93.3 179.9 89.1 178.3 85 176.8 80.9 175.2 76.9 173.6 73.2 172 69.6 170.5 66.3 168.9 63.3 167.3 60.7 165.7 58.4 164.2 56.5 162.6 55.1 161 54.1 159.4 53.5 157.9 53.4 156.3 53.7 154.7 54.5 153.1 55.6 151.6 57.2 150 59.2 148.4 61.5 146.8 64.1 145.3 66.9 143.7 70 142.1 73.3 140.5 76.7 139 80.2 137.4 83.6 135.8 87.5 134.2 91.1 132.7 94.5 131.1 97.5 129.5 100.1 127.9 102.5 126.4 104.4 124.8 105.9 123.2 106.8 121.6 107.2 120.1 107.1 118.5 106.5 116.9 105.5 115.3 104.2 113.8 102.5 112.2 100.4 110.6 98 109 95z" fill="url(#a47)" stroke="url(#a47)"/><path d="M106.7 84.3 108.3 87.8 109.9 91.1 111.4 93.9 113 96.5 114.6 98.7 116.2 100.5 117.7 102 119.3 103.2 120.9 103.9 122.5 104.3 124 104.2 125.6 103.4 127.2 102.1 128.8 100.3 130.3 98.3 131.9 95.9 133.5 93.2 135.1 90.1 136.6 86.8 138.2 83.7 139.8 81.1 141.4 78.5 142.9 76 144.5 73.6 146.1 71.5 147.7 69.6 149.2 68 150.8 66.6 152.4 65.7 154 65.1 155.5 64.8 157.1 65 158.7 65.5 160.3 66.4 161.8 67.7 163.4 69.4 165 71.4 166.6 73.7 168.1 76.3 169.7 79.2 171.3 82.2 172.9 85.4 174.4 88.7 176 92 177.6 95.7 179.2 99.8 180.7 103.6 182.3 107 183.9 110 185.5 112.7 187 115.2 188.6 117.2 190.2 118.7 191.8 119.5 193.3 119.8 194.9 119.7 196.5 119.3 198.1 118.5 199.6 117.3 201.2 115.8 202.8 114 204.4 111.8 205.9 109.3 207.5 106.4 208.7 112.1 207.1 114.5 205.5 116.7 203.9 118.5 202.4 119.9 200.8 121 199.2 121.7 197.6 122 196.1 122 194.5 121.6 192.9 120.7 191.3 119.2 189.8 117 188.2 114.5 186.6 111.6 185 108.3 183.5 104.8 181.9 100.9 180.3 96.8 178.7 92.5 177.2 88.8 175.6 85 174 81.4 172.4 77.9 170.9 74.5 169.3 71.5 167.7 68.7 166.1 66.2 164.6 64 163 62.2 161.4 60.9 159.8 59.9 158.3 59.3 156.7 59.2 155.1 59.5 153.5 60.2 152 61.3 150.4 62.7 148.8 64.5 147.2 66.6 145.7 69 144.1 71.7 142.5 74.5 140.9 77.4 139.4 80.5 137.8 83.6 136.2 87.1 134.6 90.6 133.1 93.7 131.5 96.6 129.9 99.1 128.3 101.4 126.8 103.2 125.2 104.7 123.6 105.5 122 105.7 120.5 105.4 118.9 104.8 117.3 103.7 115.7 102.3 114.2 100.6 112.6 98.4 111 95.9 109.4 93.1 107.9 90z" fill="url(#a46)" stroke="url(#a46)"/><path d="M105.6 78.4 107.1 82.1 108.7 85.7 110.3 89 111.9 92 113.4 94.6 115 96.9 116.6 98.8 118.2 100.4 119.7 101.6 121.3 102.5 122.9 102.9 124.5 102.8 126 102.2 127.6 101.1 129.2 99.6 130.8 97.7 132.3 95.4 133.9 92.7 135.5 89.8 137.1 86.5 138.6 84.2 140.2 81.9 141.8 79.8 143.4 77.8 144.9 75.9 146.5 74.3 148.1 72.8 149.7 71.7 151.2 70.8 152.8 70.3 154.4 70.1 156 70.3 157.5 70.8 159.1 71.7 160.7 72.9 162.3 74.5 163.8 76.3 165.4 78.4 167 80.8 168.6 83.3 170.1 86 171.7 88.9 173.3 91.8 174.9 94.8 176.4 98.8 178 102.4 179.6 105.7 181.2 108.7 182.7 111.3 184.3 113.5 185.9 115.3 187.5 116.6 189 117.4 190.6 117.7 192.2 117.5 193.8 117 195.3 116.1 196.9 114.8 198.5 113.2 200.1 111.3 201.6 109.1 203.2 106.5 204.8 103.5 206.4 100.5 207.5 106.4 205.9 109.3 204.4 111.8 202.8 114 201.2 115.8 199.6 117.3 198.1 118.5 196.5 119.3 194.9 119.7 193.3 119.8 191.8 119.5 190.2 118.7 188.6 117.2 187 115.2 185.5 112.7 183.9 110 182.3 107 180.7 103.6 179.2 99.8 177.6 95.7 176 92 174.4 88.7 172.9 85.4 171.3 82.2 169.7 79.2 168.1 76.3 166.6 73.7 165 71.4 163.4 69.4 161.8 67.7 160.3 66.4 158.7 65.5 157.1 65 155.5 64.8 154 65.1 152.4 65.7 150.8 66.6 149.2 68 147.7 69.6 146.1 71.5 144.5 73.6 142.9 76 141.4 78.5 139.8 81.1 138.2 83.7 136.6 86.8 135.1 90.1 133.5 93.2 131.9 95.9 130.3 98.3 128.8 100.3 127.2 102.1 125.6 103.4 124 104.2 122.5 104.3 120.9 103.9 119.3 103.2 117.7 102 116.2 100.5 114.6 98.7 113 96.5 111.4 93.9 109.9 91.1 108.3 87.8 106.7 84.3z" fill="url(#a45)" stroke="url(#a45)"/><path d="M104.4 73.4 106 76.6 107.5 80.1 109.1 83.7 110.7 87.1 112.3 90.1 113.8 92.8 115.4 95.2 117 97.2 118.6 98.9 120.1 100.1 121.7 101 123.3 101.5 124.9 101.7 126.4 101.3 128 100.4 129.6 98.9 131.2 97.1 132.7 94.9 134.3 92.3 135.9 89.5 137.5 86.6 139 84.8 140.6 83.1 142.2 81.4 143.8 79.8 145.3 78.4 146.9 77.3 148.5 76.3 150.1 75.6 151.6 75.2 153.2 75.1 154.8 75.2 156.4 75.7 157.9 76.6 159.5 77.7 161.1 79.1 162.7 80.7 164.2 82.6 165.8 84.7 167.4 86.9 169 89.3 170.5 91.8 172.1 94.2 173.7 97.8 175.3 101.3 176.8 104.5 178.4 107.4 180 110 181.6 112.1 183.1 113.8 184.7 114.8 186.3 115.3 187.9 115.5 189.4 115.3 191 114.8 192.6 113.8 194.2 112.5 195.7 110.8 197.3 108.7 198.9 106.4 200.5 103.7 202 100.8 203.6 98.1 205.2 95.5 206.4 100.5 204.8 103.5 203.2 106.5 201.6 109.1 200.1 111.3 198.5 113.2 196.9 114.8 195.3 116.1 193.8 117 192.2 117.5 190.6 117.7 189 117.4 187.5 116.6 185.9 115.3 184.3 113.5 182.7 111.3 181.2 108.7 179.6 105.7 178 102.4 176.4 98.8 174.9 94.8 173.3 91.8 171.7 88.9 170.1 86 168.6 83.3 167 80.8 165.4 78.4 163.8 76.3 162.3 74.5 160.7 72.9 159.1 71.7 157.5 70.8 156 70.3 154.4 70.1 152.8 70.3 151.2 70.8 149.7 71.7 148.1 72.8 146.5 74.3 144.9 75.9 143.4 77.8 141.8 79.8 140.2 81.9 138.6 84.2 137.1 86.5 135.5 89.8 133.9 92.7 132.3 95.4 130.8 97.7 129.2 99.6 127.6 101.1 126 102.2 124.5 102.8 122.9 102.9 121.3 102.5 119.7 101.6 118.2 100.4 116.6 98.8 115 96.9 113.4 94.6 111.9 92 110.3 89 108.7 85.7 107.1 82.1 105.6 78.4z" fill="url(#a44)" stroke="url(#a44)"/><path d="M103.2 68.4 104.8 71.5 106.4 74.8 108 78.3 109.5 81.8 111.1 85.2 112.7 88.4 114.3 91.1 115.8 93.6 117.4 95.7 119 97.4 120.6 98.7 122.1 99.8 123.7 100.5 125.3 100.8 126.9 100.5 128.4 99.6 130 98.2 131.6 96.5 133.2 94.4 134.7 92 136.3 89.3 137.9 87.1 139.5 85.8 141 84.5 142.6 83.2 144.2 82.1 145.8 81.1 147.3 80.4 148.9 79.8 150.5 79.5 152.1 79.5 153.6 79.7 155.2 80.2 156.8 80.9 158.4 81.9 159.9 83.1 161.5 84.6 163.1 86.2 164.7 88 166.2 90 167.8 92 169.4 94.1 171 96.9 172.5 100.2 174.1 103.3 175.7 106.1 177.3 108.6 178.8 110.7 180.4 112.3 182 113.2 183.6 113.6 185.1 113.6 186.7 113.2 188.3 112.5 189.9 111.5 191.4 110.2 193 108.4 194.6 106.3 196.2 103.9 197.7 101.1 199.3 98.3 200.9 95.6 202.5 92.9 204 90.5 205.2 95.5 203.6 98.1 202 100.8 200.5 103.7 198.9 106.4 197.3 108.7 195.7 110.8 194.2 112.5 192.6 113.8 191 114.8 189.4 115.3 187.9 115.5 186.3 115.3 184.7 114.8 183.1 113.8 181.6 112.1 180 110 178.4 107.4 176.8 104.5 175.3 101.3 173.7 97.8 172.1 94.2 170.5 91.8 169 89.3 167.4 86.9 165.8 84.7 164.2 82.6 162.7 80.7 161.1 79.1 159.5 77.7 157.9 76.6 156.4 75.7 154.8 75.2 153.2 75.1 151.6 75.2 150.1 75.6 148.5 76.3 146.9 77.3 145.3 78.4 143.8 79.8 142.2 81.4 140.6 83.1 139 84.8 137.5 86.6 135.9 89.5 134.3 92.3 132.7 94.9 131.2 97.1 129.6 98.9 128 100.4 126.4 101.3 124.9 101.7 123.3 101.5 121.7 101 120.1 100.1 118.6 98.9 117 97.2 115.4 95.2 113.8 92.8 112.3 90.1 110.7 87.1 109.1 83.7 107.5 80.1 106 76.6 104.4 73.4z" fill="url(#a43)" stroke="url(#a43)"/><path d="M102.1 63.4 103.7 66.4 105.2 69.6 106.8 73.1 108.4 76.6 110 80.1 111.5 83.5 113.1 86.7 114.7 89.5 116.2 92 117.8 94.2 119.4 96 121 97.6 122.6 98.7 124.1 99.5 125.7 99.8 127.3 99.7 128.8 98.9 130.4 97.6 132 95.9 133.6 93.9 135.2 91.7 136.7 89.2 138.3 87.9 139.9 86.9 141.4 86 143 85.2 144.6 84.5 146.2 83.9 147.8 83.5 149.3 83.3 150.9 83.3 152.5 83.6 154.1 84 155.6 84.7 157.2 85.6 158.8 86.7 160.3 87.9 161.9 89.3 163.5 90.8 165.1 92.4 166.7 94.1 168.2 96.1 169.8 99.3 171.4 102.2 172.9 104.9 174.5 107.2 176.1 109.2 177.7 110.7 179.2 111.6 180.8 111.9 182.4 111.8 184 111.4 185.5 110.5 187.1 109.3 188.7 107.9 190.3 106.1 191.8 103.9 193.4 101.4 195 98.8 196.6 96 198.2 93.1 199.7 90.4 201.3 87.8 202.9 85.5 204 90.5 202.5 92.9 200.9 95.6 199.3 98.3 197.7 101.1 196.2 103.9 194.6 106.3 193 108.4 191.4 110.2 189.9 111.5 188.3 112.5 186.7 113.2 185.1 113.6 183.6 113.6 182 113.2 180.4 112.3 178.8 110.7 177.3 108.6 175.7 106.1 174.1 103.3 172.5 100.2 171 96.9 169.4 94.1 167.8 92 166.2 90 164.7 88 163.1 86.2 161.5 84.6 159.9 83.1 158.4 81.9 156.8 80.9 155.2 80.2 153.6 79.7 152.1 79.5 150.5 79.5 148.9 79.8 147.3 80.4 145.8 81.1 144.2 82.1 142.6 83.2 141 84.5 139.5 85.8 137.9 87.1 136.3 89.3 134.7 92 133.2 94.4 131.6 96.5 130 98.2 128.4 99.6 126.9 100.5 125.3 100.8 123.7 100.5 122.1 99.8 120.6 98.7 119 97.4 117.4 95.7 115.8 93.6 114.3 91.1 112.7 88.4 111.1 85.2 109.5 81.8 108 78.3 106.4 74.8 104.8 71.5 103.2 68.4z" fill="url(#a42)" stroke="url(#a42)"/><path d="M100.9 58.6 102.5 61.4 104.1 64.5 105.6 67.9 107.2 71.5 108.8 75.1 110.4 78.7 111.9 82 113.5 85.1 115.1 88 116.7 90.6 118.2 92.9 119.8 94.9 121.4 96.5 123 97.7 124.5 98.5 126.1 98.9 127.7 98.8 129.3 98.1 130.8 96.9 132.4 95.3 134 93.5 135.6 91.5 137.1 89.5 138.7 88.8 140.3 88.2 141.9 87.7 143.4 87.2 145 86.8 146.6 86.6 148.2 86.5 149.7 86.6 151.3 86.9 152.9 87.3 154.5 87.9 156 88.7 157.6 89.6 159.2 90.6 160.8 91.8 162.3 93.1 163.9 94.3 165.5 95.7 167.1 98.4 168.6 101.1 170.2 103.6 171.8 105.9 173.4 107.8 174.9 109.2 176.5 109.9 178.1 110.2 179.7 110.1 181.2 109.6 182.8 108.7 184.4 107.4 186 105.8 187.5 103.9 189.1 101.7 190.7 99.3 192.3 96.6 193.8 93.8 195.4 90.9 197 88 198.6 85.2 200.1 82.8 201.7 80.7 202.9 85.5 201.3 87.8 199.7 90.4 198.2 93.1 196.6 96 195 98.8 193.4 101.4 191.8 103.9 190.3 106.1 188.7 107.9 187.1 109.3 185.5 110.5 184 111.4 182.4 111.8 180.8 111.9 179.2 111.6 177.7 110.7 176.1 109.2 174.5 107.2 172.9 104.9 171.4 102.2 169.8 99.3 168.2 96.1 166.7 94.1 165.1 92.4 163.5 90.8 161.9 89.3 160.3 87.9 158.8 86.7 157.2 85.6 155.6 84.7 154.1 84 152.5 83.6 150.9 83.3 149.3 83.3 147.8 83.5 146.2 83.9 144.6 84.5 143 85.2 141.4 86 139.9 86.9 138.3 87.9 136.7 89.2 135.2 91.7 133.6 93.9 132 95.9 130.4 97.6 128.8 98.9 127.3 99.7 125.7 99.8 124.1 99.5 122.6 98.7 121 97.6 119.4 96 117.8 94.2 116.2 92 114.7 89.5 113.1 86.7 111.5 83.5 110 80.1 108.4 76.6 106.8 73.1 105.2 69.6 103.7 66.4 102.1 63.4z" fill="url(#a41)" stroke="url(#a41)"/><path d="M99.8 54 101.3 56.5 102.9 59.5 104.5 62.9 106.1 66.5 107.6 70.2 109.2 73.9 110.8 77.5 112.4 80.8 113.9 83.9 115.5 86.7 117.1 89.4 118.7 91.7 120.2 93.8 121.8 95.4 123.4 96.7 125 97.5 126.5 98 128.1 97.9 129.7 97.3 131.3 96.2 132.8 94.8 134.4 93.2 136 91.4 137.6 90.2 139.1 89.9 140.7 89.6 142.3 89.4 143.9 89.2 145.4 89.1 147 89.2 148.6 89.3 150.2 89.6 151.7 90 153.3 90.6 154.9 91.2 156.5 92 158 92.8 159.6 93.8 161.2 94.7 162.8 95.7 164.3 97.7 165.9 100.1 167.5 102.4 169.1 104.5 170.6 106.3 172.2 107.6 173.8 108.3 175.4 108.6 176.9 108.4 178.5 107.8 180.1 106.9 181.7 105.6 183.2 103.9 184.8 101.9 186.4 99.8 188 97.4 189.5 94.8 191.1 91.9 192.7 88.8 194.3 85.8 195.8 82.9 197.4 80.3 199 77.9 200.6 76.1 201.7 80.7 200.1 82.8 198.6 85.2 197 88 195.4 90.9 193.8 93.8 192.3 96.6 190.7 99.3 189.1 101.7 187.5 103.9 186 105.8 184.4 107.4 182.8 108.7 181.2 109.6 179.7 110.1 178.1 110.2 176.5 109.9 174.9 109.2 173.4 107.8 171.8 105.9 170.2 103.6 168.6 101.1 167.1 98.4 165.5 95.7 163.9 94.3 162.3 93.1 160.8 91.8 159.2 90.6 157.6 89.6 156 88.7 154.5 87.9 152.9 87.3 151.3 86.9 149.7 86.6 148.2 86.5 146.6 86.6 145 86.8 143.4 87.2 141.9 87.7 140.3 88.2 138.7 88.8 137.1 89.5 135.6 91.5 134 93.5 132.4 95.3 130.8 96.9 129.3 98.1 127.7 98.8 126.1 98.9 124.5 98.5 123 97.7 121.4 96.5 119.8 94.9 118.2 92.9 116.7 90.6 115.1 88 113.5 85.1 111.9 82 110.4 78.7 108.8 75.1 107.2 71.5 105.6 67.9 104.1 64.5 102.5 61.4 100.9 58.6z" fill="url(#a40)" stroke="url(#a40)"/><path d="M98.6 49.6 100.2 51.9 101.7 54.8 103.3 58 104.9 61.6 106.5 65.4 108 69.2 109.6 73 111.2 76.7 112.8 80 114.3 83.1 115.9 85.7 117.5 88.2 119.1 90.6 120.6 92.7 122.2 94.4 123.8 95.7 125.4 96.6 126.9 97 128.5 97.1 130.1 96.5 131.7 95.5 133.2 94.3 134.8 92.9 136.4 91.6 138 91.1 139.5 91.1 141.1 91.1 142.7 91.1 144.3 91.1 145.8 91.3 147.4 91.5 149 91.8 150.6 92.2 152.1 92.7 153.7 93.2 155.3 93.8 156.9 94.5 158.4 95.2 160 96 161.6 97.1 163.2 99.1 164.7 101.2 166.3 103.1 167.9 104.8 169.5 106 171 106.7 172.6 106.9 174.2 106.7 175.8 106.1 177.3 105.1 178.9 103.8 180.5 102 182.1 100.2 183.6 98.3 185.2 95.9 186.8 93.3 188.4 90.3 189.9 87.2 191.5 84 193.1 81 194.7 78.1 196.2 75.5 197.8 73.3 199.4 71.7 200.6 76.1 199 77.9 197.4 80.3 195.8 82.9 194.3 85.8 192.7 88.8 191.1 91.9 189.5 94.8 188 97.4 186.4 99.8 184.8 101.9 183.2 103.9 181.7 105.6 180.1 106.9 178.5 107.8 176.9 108.4 175.4 108.6 173.8 108.3 172.2 107.6 170.6 106.3 169.1 104.5 167.5 102.4 165.9 100.1 164.3 97.7 162.8 95.7 161.2 94.7 159.6 93.8 158 92.8 156.5 92 154.9 91.2 153.3 90.6 151.7 90 150.2 89.6 148.6 89.3 147 89.2 145.4 89.1 143.9 89.2 142.3 89.4 140.7 89.6 139.1 89.9 137.6 90.2 136 91.4 134.4 93.2 132.8 94.8 131.3 96.2 129.7 97.3 128.1 97.9 126.5 98 125 97.5 123.4 96.7 121.8 95.4 120.2 93.8 118.7 91.7 117.1 89.4 115.5 86.7 113.9 83.9 112.4 80.8 110.8 77.5 109.2 73.9 107.6 70.2 106.1 66.5 104.5 62.9 102.9 59.5 101.3 56.5 99.8 54z" fill="url(#a39)" stroke="url(#a39)"/><path d="M97.4 45.4 99 47.5 100.6 50.2 102.2 53.4 103.7 57 105.3 60.8 106.9 64.8 108.5 68.7 110 72.6 111.6 76.3 113.2 79.7 114.8 82.7 116.3 85.3 117.9 87.4 119.5 89.6 121.1 91.8 122.6 93.5 124.2 94.8 125.8 95.7 127.4 96.1 128.9 96.2 130.5 95.6 132.1 94.7 133.7 93.6 135.2 92.7 136.8 92 138.4 92.2 140 92.3 141.5 92.5 143.1 92.6 144.7 92.9 146.3 93.1 147.8 93.5 149.4 93.8 151 94.3 152.6 94.7 154.1 95.2 155.7 95.8 157.3 96.3 158.9 96.9 160.4 98.2 162 99.8 163.6 101.6 165.2 103.2 166.7 104.5 168.3 105.1 169.9 105.4 171.5 105.2 173 104.5 174.6 103.5 176.2 102.1 177.8 100.5 179.3 99.1 180.9 97.2 182.5 94.9 184.1 92.2 185.6 89.2 187.2 86 188.8 82.7 190.4 79.4 191.9 76.3 193.5 73.4 195.1 71 196.7 69 198.2 67.5 199.4 71.7 197.8 73.3 196.2 75.5 194.7 78.1 193.1 81 191.5 84 189.9 87.2 188.4 90.3 186.8 93.3 185.2 95.9 183.6 98.3 182.1 100.2 180.5 102 178.9 103.8 177.3 105.1 175.8 106.1 174.2 106.7 172.6 106.9 171 106.7 169.5 106 167.9 104.8 166.3 103.1 164.7 101.2 163.2 99.1 161.6 97.1 160 96 158.4 95.2 156.9 94.5 155.3 93.8 153.7 93.2 152.1 92.7 150.6 92.2 149 91.8 147.4 91.5 145.8 91.3 144.3 91.1 142.7 91.1 141.1 91.1 139.5 91.1 138 91.1 136.4 91.6 134.8 92.9 133.2 94.3 131.7 95.5 130.1 96.5 128.5 97.1 126.9 97 125.4 96.6 123.8 95.7 122.2 94.4 120.6 92.7 119.1 90.6 117.5 88.2 115.9 85.7 114.3 83.1 112.8 80 111.2 76.7 109.6 73 108 69.2 106.5 65.4 104.9 61.6 103.3 58 101.7 54.8 100.2 51.9 98.6 49.6z" fill="url(#a38)" stroke="url(#a38)"/><path d="M96.3 41.6 97.9 43.5 99.4 46 101 49.1 102.6 52.6 104.2 56.5 105.7 60.5 107.3 64.6 108.9 68.7 110.5 72.6 112 76.3 113.6 79.7 115.2 82.7 116.8 85.2 118.3 87.3 119.9 89 121.5 90.9 123.1 92.7 124.6 94 126.2 94.9 127.8 95.2 129.4 95.1 130.9 94.5 132.5 93.7 134.1 93.1 135.7 92.7 137.2 92.9 138.8 93.2 140.4 93.5 142 93.8 143.5 94.1 145.1 94.4 146.7 94.7 148.3 95.1 149.8 95.4 151.4 95.8 153 96.2 154.6 96.7 156.1 97.1 157.7 97.6 159.3 98.6 160.9 100 162.4 101.4 164 102.7 165.6 103.5 167.2 103.8 168.7 103.7 170.3 103 171.9 102 173.5 100.7 175 99.8 176.6 98.4 178.2 96.5 179.8 94.2 181.3 91.5 182.9 88.5 184.5 85.3 186.1 81.9 187.6 78.5 189.2 75.1 190.8 72 192.4 69.1 193.9 66.8 195.5 64.9 197.1 63.7 198.2 67.5 196.7 69 195.1 71 193.5 73.4 191.9 76.3 190.4 79.4 188.8 82.7 187.2 86 185.6 89.2 184.1 92.2 182.5 94.9 180.9 97.2 179.3 99.1 177.8 100.5 176.2 102.1 174.6 103.5 173 104.5 171.5 105.2 169.9 105.4 168.3 105.1 166.7 104.5 165.2 103.2 163.6 101.6 162 99.8 160.4 98.2 158.9 96.9 157.3 96.3 155.7 95.8 154.1 95.2 152.6 94.7 151 94.3 149.4 93.8 147.8 93.5 146.3 93.1 144.7 92.9 143.1 92.6 141.5 92.5 140 92.3 138.4 92.2 136.8 92 135.2 92.7 133.7 93.6 132.1 94.7 130.5 95.6 128.9 96.2 127.4 96.1 125.8 95.7 124.2 94.8 122.6 93.5 121.1 91.8 119.5 89.6 117.9 87.4 116.3 85.3 114.8 82.7 113.2 79.7 111.6 76.3 110 72.6 108.5 68.7 106.9 64.8 105.3 60.8 103.7 57 102.2 53.4 100.6 50.2 99 47.5 97.4 45.4z" fill="url(#a37)" stroke="url(#a37)"/><path d="M95.1 38.1 96.7 39.8 98.3 42.2 99.8 45.2 101.4 48.6 103 52.5 104.6 56.6 106.1 60.8 107.7 65.1 109.3 69.2 110.9 73.2 112.4 76.9 114 80.2 115.6 83.1 117.2 85.6 118.7 87.7 120.3 89.2 121.9 90.4 123.5 92.1 125 93.3 126.6 94 128.2 94.2 129.8 93.9 131.3 93.4 132.9 92.9 134.5 93.2 136.1 93.6 137.6 93.9 139.2 94.2 140.8 94.6 142.4 94.9 143.9 95.2 145.5 95.6 147.1 95.9 148.7 96.3 150.2 96.6 151.8 97 153.4 97.4 155 97.7 156.5 98.1 158.1 98.4 159.7 99.6 161.3 100.8 162.8 101.8 164.4 102.3 166 102.3 167.6 101.8 169.1 100.8 170.7 100.3 172.3 99.4 173.9 98.1 175.4 96.3 177 94 178.6 91.4 180.2 88.4 181.7 85.1 183.3 81.6 184.9 78.1 186.5 74.5 188 71.1 189.6 68 191.2 65.2 192.8 62.9 194.3 61.2 195.9 60.2 197.1 63.7 195.5 64.9 193.9 66.8 192.4 69.1 190.8 72 189.2 75.1 187.6 78.5 186.1 81.9 184.5 85.3 182.9 88.5 181.3 91.5 179.8 94.2 178.2 96.5 176.6 98.4 175 99.8 173.5 100.7 171.9 102 170.3 103 168.7 103.7 167.2 103.8 165.6 103.5 164 102.7 162.4 101.4 160.9 100 159.3 98.6 157.7 97.6 156.1 97.1 154.6 96.7 153 96.2 151.4 95.8 149.8 95.4 148.3 95.1 146.7 94.7 145.1 94.4 143.5 94.1 142 93.8 140.4 93.5 138.8 93.2 137.2 92.9 135.7 92.7 134.1 93.1 132.5 93.7 130.9 94.5 129.4 95.1 127.8 95.2 126.2 94.9 124.6 94 123.1 92.7 121.5 90.9 119.9 89 118.3 87.3 116.8 85.2 115.2 82.7 113.6 79.7 112 76.3 110.5 72.6 108.9 68.7 107.3 64.6 105.7 60.5 104.2 56.5 102.6 52.6 101 49.1 99.4 46 97.9 43.5 96.3 41.6z" fill="url(#a36)" stroke="url(#a36)"/><path d="M94 35 95.5 36.5 97.1 38.8 98.7 41.6 100.3 45 101.8 48.9 103.4 53 105 57.4 106.6 61.8 108.1 66.1 109.7 70.3 111.3 74.3 112.9 77.9 114.4 81.2 116 84 117.6 86.4 119.2 88.3 120.7 89.9 122.3 91 123.9 91.8 125.5 92.9 127 93.4 128.6 93.4 130.2 93.1 131.8 93.5 133.3 93.8 134.9 94.2 136.5 94.5 138.1 94.9 139.6 95.2 141.2 95.6 142.8 95.9 144.4 96.2 145.9 96.6 147.5 96.9 149.1 97.3 150.7 97.6 152.2 98 153.8 98.3 155.4 98.7 157 99 158.5 99.4 160.1 100.3 161.7 101 163.3 101.2 164.8 100.8 166.4 100.7 168 100.2 169.6 99.4 171.1 98.1 172.7 96.4 174.3 94.3 175.9 91.7 177.4 88.8 179 85.5 180.6 82 182.2 78.3 183.7 74.6 185.3 71 186.9 67.5 188.5 64.4 190 61.7 191.6 59.5 193.2 57.9 194.8 57.1 195.9 60.2 194.3 61.2 192.8 62.9 191.2 65.2 189.6 68 188 71.1 186.5 74.5 184.9 78.1 183.3 81.6 181.7 85.1 180.2 88.4 178.6 91.4 177 94 175.4 96.3 173.9 98.1 172.3 99.4 170.7 100.3 169.1 100.8 167.6 101.8 166 102.3 164.4 102.3 162.8 101.8 161.3 100.8 159.7 99.6 158.1 98.4 156.5 98.1 155 97.7 153.4 97.4 151.8 97 150.2 96.6 148.7 96.3 147.1 95.9 145.5 95.6 143.9 95.2 142.4 94.9 140.8 94.6 139.2 94.2 137.6 93.9 136.1 93.6 134.5 93.2 132.9 92.9 131.3 93.4 129.8 93.9 128.2 94.2 126.6 94 125 93.3 123.5 92.1 121.9 90.4 120.3 89.2 118.7 87.7 117.2 85.6 115.6 83.1 114 80.2 112.4 76.9 110.9 73.2 109.3 69.2 107.7 65.1 106.1 60.8 104.6 56.6 103 52.5 101.4 48.6 99.8 45.2 98.3 42.2 96.7 39.8 95.1 38.1z" fill="url(#a35)" stroke="url(#a35)"/><path d="M92.8 32.4 94.4 33.7 96 35.8 97.5 38.5 99.1 41.9 100.7 45.7 102.3 49.9 103.8 54.3 105.4 58.8 107 63.3 108.6 67.7 110.1 71.9 111.7 75.8 113.3 79.4 114.9 82.5 116.4 85.2 118 87.5 119.6 89.3 121.2 90.8 122.7 91.8 124.3 92.5 125.9 93.1 127.5 93.4 129 93.7 130.6 94.1 132.2 94.4 133.8 94.8 135.3 95.1 136.9 95.5 138.5 95.8 140.1 96.2 141.6 96.5 143.2 96.8 144.8 97.2 146.4 97.5 147.9 97.9 149.5 98.2 151.1 98.6 152.7 98.9 154.2 99.3 155.8 99.6 157.4 99.9 159 100.3 160.5 100.7 162.1 100.8 163.7 100.8 165.3 100.4 166.8 99.7 168.4 98.6 170 97 171.6 95 173.1 92.5 174.7 89.6 176.3 86.4 177.9 82.9 179.4 79.2 181 75.4 182.6 71.6 184.2 67.8 185.7 64.4 187.3 61.2 188.9 58.6 190.5 56.5 192 55.1 193.6 54.5 194.8 57.1 193.2 57.9 191.6 59.5 190 61.7 188.5 64.4 186.9 67.5 185.3 71 183.7 74.6 182.2 78.3 180.6 82 179 85.5 177.4 88.8 175.9 91.7 174.3 94.3 172.7 96.4 171.1 98.1 169.6 99.4 168 100.2 166.4 100.7 164.8 100.8 163.3 101.2 161.7 101 160.1 100.3 158.5 99.4 157 99 155.4 98.7 153.8 98.3 152.2 98 150.7 97.6 149.1 97.3 147.5 96.9 145.9 96.6 144.4 96.2 142.8 95.9 141.2 95.6 139.6 95.2 138.1 94.9 136.5 94.5 134.9 94.2 133.3 93.8 131.8 93.5 130.2 93.1 128.6 93.4 127 93.4 125.5 92.9 123.9 91.8 122.3 91 120.7 89.9 119.2 88.3 117.6 86.4 116 84 114.4 81.2 112.9 77.9 111.3 74.3 109.7 70.3 108.1 66.1 106.6 61.8 105 57.4 103.4 53 101.8 48.9 100.3 45 98.7 41.6 97.1 38.8 95.5 36.5 94 35z" fill="url(#a34)" stroke="url(#a34)"/><path d="M91.6 30.2 93.2 31.3 94.8 33.3 96.4 36 97.9 39.3 99.5 43.1 101.1 47.3 102.7 51.7 104.2 56.3 105.8 61 107.4 65.5 109 69.9 110.5 74.1 112.1 77.8 113.7 81.3 115.3 84.2 116.8 86.8 118.4 88.9 120 90.6 121.6 91.9 123.1 92.8 124.7 93.5 126.3 94 127.9 94.3 129.4 94.7 131 95 132.6 95.4 134.2 95.7 135.7 96.1 137.3 96.4 138.9 96.7 140.5 97.1 142 97.4 143.6 97.8 145.2 98.1 146.8 98.5 148.3 98.8 149.9 99.2 151.5 99.5 153.1 99.9 154.6 100.2 156.2 100.5 157.8 100.9 159.4 101.1 160.9 101.1 162.5 100.8 164.1 100.2 165.7 99.2 167.2 97.8 168.8 96 170.4 93.7 172 91 173.5 87.9 175.1 84.4 176.7 80.7 178.3 76.9 179.8 72.9 181.4 69 183 65.2 184.6 61.7 186.1 58.6 187.7 56 189.3 54 190.9 52.7 192.4 52.3 193.6 54.5 192 55.1 190.5 56.5 188.9 58.6 187.3 61.2 185.7 64.4 184.2 67.8 182.6 71.6 181 75.4 179.4 79.2 177.9 82.9 176.3 86.4 174.7 89.6 173.1 92.5 171.6 95 170 97 168.4 98.6 166.8 99.7 165.3 100.4 163.7 100.8 162.1 100.8 160.5 100.7 159 100.3 157.4 99.9 155.8 99.6 154.2 99.3 152.7 98.9 151.1 98.6 149.5 98.2 147.9 97.9 146.4 97.5 144.8 97.2 143.2 96.8 141.6 96.5 140.1 96.2 138.5 95.8 136.9 95.5 135.3 95.1 133.8 94.8 132.2 94.4 130.6 94.1 129 93.7 127.5 93.4 125.9 93.1 124.3 92.5 122.7 91.8 121.2 90.8 119.6 89.3 118 87.5 116.4 85.2 114.9 82.5 113.3 79.4 111.7 75.8 110.1 71.9 108.6 67.7 107 63.3 105.4 58.8 103.8 54.3 102.3 49.9 100.7 45.7 99.1 41.9 97.5 38.5 96 35.8 94.4 33.7 92.8 32.4z" fill="url(#a33)" stroke="url(#a33)"/><path d="M90.5 28.4 92.1 29.5 93.6 31.3 95.2 33.9 96.8 37.2 98.4 40.9 99.9 45.1 101.5 49.6 103.1 54.3 104.7 59.1 106.2 63.8 107.8 68.3 109.4 72.6 111 76.6 112.5 80.2 114.1 83.5 115.7 86.2 117.3 88.6 118.8 90.5 120.4 92 122 93.1 123.6 93.9 125.1 94.5 126.7 94.9 128.3 95.3 129.9 95.6 131.4 96 133 96.3 134.6 96.7 136.2 97 137.7 97.3 139.3 97.7 140.9 98 142.5 98.4 144 98.7 145.6 99.1 147.2 99.4 148.8 99.8 150.3 100.1 151.9 100.5 153.5 100.8 155.1 101.1 156.6 101.4 158.2 101.5 159.8 101.4 161.4 100.9 162.9 100.1 164.5 98.9 166.1 97.3 167.7 95.2 169.2 92.7 170.8 89.7 172.4 86.4 174 82.8 175.5 79 177.1 75 178.7 70.9 180.3 66.9 181.8 63.1 183.4 59.6 185 56.5 186.6 53.9 188.1 52 189.7 50.9 191.3 50.5 192.4 52.3 190.9 52.7 189.3 54 187.7 56 186.1 58.6 184.6 61.7 183 65.2 181.4 69 179.8 72.9 178.3 76.9 176.7 80.7 175.1 84.4 173.5 87.9 172 91 170.4 93.7 168.8 96 167.2 97.8 165.7 99.2 164.1 100.2 162.5 100.8 160.9 101.1 159.4 101.1 157.8 100.9 156.2 100.5 154.6 100.2 153.1 99.9 151.5 99.5 149.9 99.2 148.3 98.8 146.8 98.5 145.2 98.1 143.6 97.8 142 97.4 140.5 97.1 138.9 96.7 137.3 96.4 135.7 96.1 134.2 95.7 132.6 95.4 131 95 129.4 94.7 127.9 94.3 126.3 94 124.7 93.5 123.1 92.8 121.6 91.9 120 90.6 118.4 88.9 116.8 86.8 115.3 84.2 113.7 81.3 112.1 77.8 110.5 74.1 109 69.9 107.4 65.5 105.8 61 104.2 56.3 102.7 51.7 101.1 47.3 99.5 43.1 97.9 39.3 96.4 36 94.8 33.3 93.2 31.3 91.6 30.2z" fill="url(#a32)" stroke="url(#a32)"/><path d="M89.3 27.2 90.9 28.1 92.5 29.9 94.1 32.4 95.6 35.6 97.2 39.4 98.8 43.6 100.4 48.1 101.9 52.9 103.5 57.7 105.1 62.5 106.7 67.2 108.2 71.6 109.8 75.8 111.4 79.5 113 82.9 114.5 85.9 116.1 88.4 117.7 90.5 119.3 92.1 120.8 93.4 122.4 94.4 124 95 125.6 95.5 127.1 95.9 128.7 96.2 130.3 96.6 131.9 96.9 133.4 97.3 135 97.6 136.6 97.9 138.2 98.3 139.7 98.6 141.3 99 142.9 99.3 144.5 99.7 146 100 147.6 100.4 149.2 100.7 150.8 101.1 152.3 101.4 153.9 101.7 155.5 101.9 157.1 102 158.6 101.7 160.2 101.1 161.8 100.1 163.4 98.8 164.9 96.9 166.5 94.7 168.1 92 169.7 88.9 171.2 85.4 172.8 81.7 174.4 77.7 176 73.6 177.5 69.4 179.1 65.4 180.7 61.5 182.3 58 183.8 55 185.4 52.4 187 50.6 188.6 49.5 190.1 49.3 191.3 50.5 189.7 50.9 188.1 52 186.6 53.9 185 56.5 183.4 59.6 181.8 63.1 180.3 66.9 178.7 70.9 177.1 75 175.5 79 174 82.8 172.4 86.4 170.8 89.7 169.2 92.7 167.7 95.2 166.1 97.3 164.5 98.9 162.9 100.1 161.4 100.9 159.8 101.4 158.2 101.5 156.6 101.4 155.1 101.1 153.5 100.8 151.9 100.5 150.3 100.1 148.8 99.8 147.2 99.4 145.6 99.1 144 98.7 142.5 98.4 140.9 98 139.3 97.7 137.7 97.3 136.2 97 134.6 96.7 133 96.3 131.4 96 129.9 95.6 128.3 95.3 126.7 94.9 125.1 94.5 123.6 93.9 122 93.1 120.4 92 118.8 90.5 117.3 88.6 115.7 86.2 114.1 83.5 112.5 80.2 111 76.6 109.4 72.6 107.8 68.3 106.2 63.8 104.7 59.1 103.1 54.3 101.5 49.6 99.9 45.1 98.4 40.9 96.8 37.2 95.2 33.9 93.6 31.3 92.1 29.5 90.5 28.4z" fill="url(#a31)" stroke="url(#a31)"/><path d="M88.2 26.5 89.7 27.3 91.3 29 92.9 31.5 94.5 34.7 96 38.4 97.6 42.6 99.2 47.2 100.8 52 102.3 56.9 103.9 61.7 105.5 66.5 107.1 71 108.6 75.3 110.2 79.2 111.8 82.7 113.4 85.8 114.9 88.4 116.5 90.6 118.1 92.4 119.7 93.8 121.2 94.8 122.8 95.6 124.4 96.1 126 96.5 127.5 96.8 129.1 97.2 130.7 97.5 132.3 97.9 133.8 98.2 135.4 98.5 137 98.9 138.6 99.2 140.1 99.6 141.7 99.9 143.3 100.3 144.9 100.6 146.4 101 148 101.3 149.6 101.7 151.2 102 152.7 102.3 154.3 102.5 155.9 102.4 157.5 102.1 159 101.4 160.6 100.3 162.2 98.8 163.8 96.8 165.3 94.4 166.9 91.6 168.5 88.4 170.1 84.8 171.6 81 173.2 76.9 174.8 72.7 176.4 68.5 177.9 64.5 179.5 60.6 181.1 57.1 182.7 54 184.2 51.5 185.8 49.7 187.4 48.7 189 48.6 190.1 49.3 188.6 49.5 187 50.6 185.4 52.4 183.8 55 182.3 58 180.7 61.5 179.1 65.4 177.5 69.4 176 73.6 174.4 77.7 172.8 81.7 171.2 85.4 169.7 88.9 168.1 92 166.5 94.7 164.9 96.9 163.4 98.8 161.8 100.1 160.2 101.1 158.6 101.7 157.1 102 155.5 101.9 153.9 101.7 152.3 101.4 150.8 101.1 149.2 100.7 147.6 100.4 146 100 144.5 99.7 142.9 99.3 141.3 99 139.7 98.6 138.2 98.3 136.6 97.9 135 97.6 133.4 97.3 131.9 96.9 130.3 96.6 128.7 96.2 127.1 95.9 125.6 95.5 124 95 122.4 94.4 120.8 93.4 119.3 92.1 117.7 90.5 116.1 88.4 114.5 85.9 113 82.9 111.4 79.5 109.8 75.8 108.2 71.6 106.7 67.2 105.1 62.5 103.5 57.7 101.9 52.9 100.4 48.1 98.8 43.6 97.2 39.4 95.6 35.6 94.1 32.4 92.5 29.9 90.9 28.1 89.3 27.2z" fill="url(#a30)" stroke="url(#a30)"/><path d="M87 26.3 88.6 27.1 90.2 28.7 91.7 31.2 93.3 34.3 94.9 38.1 96.5 42.3 98 46.9 99.6 51.7 101.2 56.6 102.8 61.5 104.3 66.3 105.9 70.9 107.5 75.2 109.1 79.2 110.6 82.8 112.2 86 113.8 88.7 115.4 91 116.9 92.8 118.5 94.3 120.1 95.4 121.7 96.1 123.2 96.7 124.8 97.1 126.4 97.4 128 97.8 129.5 98.1 131.1 98.5 132.7 98.8 134.3 99.1 135.8 99.5 137.4 99.8 139 100.2 140.6 100.5 142.1 100.9 143.7 101.2 145.3 101.6 146.9 101.9 148.4 102.2 150 102.6 151.6 102.9 153.2 103.1 154.7 103 156.3 102.6 157.9 101.8 159.5 100.6 161 99 162.6 97 164.2 94.5 165.8 91.6 167.3 88.3 168.9 84.7 170.5 80.8 172.1 76.7 173.6 72.5 175.2 68.2 176.8 64.1 178.4 60.2 179.9 56.7 181.5 53.7 183.1 51.2 184.7 49.5 186.2 48.5 187.8 48.4 189 48.6 187.4 48.7 185.8 49.7 184.2 51.5 182.7 54 181.1 57.1 179.5 60.6 177.9 64.5 176.4 68.5 174.8 72.7 173.2 76.9 171.6 81 170.1 84.8 168.5 88.4 166.9 91.6 165.3 94.4 163.8 96.8 162.2 98.8 160.6 100.3 159 101.4 157.5 102.1 155.9 102.4 154.3 102.5 152.7 102.3 151.2 102 149.6 101.7 148 101.3 146.4 101 144.9 100.6 143.3 100.3 141.7 99.9 140.1 99.6 138.6 99.2 137 98.9 135.4 98.5 133.8 98.2 132.3 97.9 130.7 97.5 129.1 97.2 127.5 96.8 126 96.5 124.4 96.1 122.8 95.6 121.2 94.8 119.7 93.8 118.1 92.4 116.5 90.6 114.9 88.4 113.4 85.8 111.8 82.7 110.2 79.2 108.6 75.3 107.1 71 105.5 66.5 103.9 61.7 102.3 56.9 100.8 52 99.2 47.2 97.6 42.6 96 38.4 94.5 34.7 92.9 31.5 91.3 29 89.7 27.3 88.2 26.5z" fill="url(#a29)" stroke="url(#a29)"/><path d="M85.8 26.6 87.4 27.4 89 29 90.6 31.5 92.2 34.6 93.7 38.4 95.3 42.6 96.9 47.1 98.5 52 100 56.9 101.6 61.8 103.2 66.6 104.8 71.3 106.3 75.6 107.9 79.6 109.5 83.2 111 86.4 112.6 89.2 114.2 91.5 115.8 93.4 117.3 94.8 118.9 95.9 120.5 96.7 122.1 97.3 123.6 97.7 125.2 98 126.8 98.4 128.4 98.7 129.9 99 131.5 99.4 133.1 99.7 134.7 100.1 136.2 100.4 137.8 100.8 139.4 101.1 141 101.5 142.6 101.8 144.1 102.2 145.7 102.5 147.3 102.8 148.8 103.2 150.4 103.5 152 103.6 153.6 103.5 155.1 103.1 156.7 102.3 158.3 101.1 159.9 99.5 161.4 97.5 163 95 164.6 92 166.2 88.7 167.8 85.1 169.3 81.1 170.9 77 172.5 72.8 174.1 68.5 175.6 64.4 177.2 60.5 178.8 57 180.3 54 181.9 51.5 183.5 49.8 185.1 48.8 186.6 48.7 187.8 48.4 186.2 48.5 184.7 49.5 183.1 51.2 181.5 53.7 179.9 56.7 178.4 60.2 176.8 64.1 175.2 68.2 173.6 72.5 172.1 76.7 170.5 80.8 168.9 84.7 167.3 88.3 165.8 91.6 164.2 94.5 162.6 97 161 99 159.5 100.6 157.9 101.8 156.3 102.6 154.7 103 153.2 103.1 151.6 102.9 150 102.6 148.4 102.2 146.9 101.9 145.3 101.6 143.7 101.2 142.1 100.9 140.6 100.5 139 100.2 137.4 99.8 135.8 99.5 134.3 99.1 132.7 98.8 131.1 98.5 129.5 98.1 128 97.8 126.4 97.4 124.8 97.1 123.2 96.7 121.7 96.1 120.1 95.4 118.5 94.3 116.9 92.8 115.4 91 113.8 88.7 112.2 86 110.6 82.8 109.1 79.2 107.5 75.2 105.9 70.9 104.3 66.3 102.8 61.5 101.2 56.6 99.6 51.7 98 46.9 96.5 42.3 94.9 38.1 93.3 34.3 91.7 31.2 90.2 28.7 88.6 27.1 87 26.3z" fill="url(#a28)" stroke="url(#a28)"/><path d="M84.7 27.5 86.3 28.3 87.8 29.9 89.4 32.4 91 35.5 92.6 39.3 94.1 43.5 95.7 48.1 97.3 52.9 98.9 57.8 100.4 62.7 102 67.5 103.6 72.1 105.2 76.4 106.7 80.4 108.3 84 109.9 87.2 111.5 89.9 113 92.2 114.6 94 116.2 95.5 117.8 96.6 119.3 97.3 120.9 97.9 122.5 98.3 124.1 98.6 125.6 99 127.2 99.3 128.8 99.6 130.4 100 131.9 100.3 133.5 100.7 135.1 101 136.7 101.4 138.2 101.7 139.8 102.1 141.4 102.4 143 102.8 144.5 103.1 146.1 103.4 147.7 103.8 149.3 104.1 150.8 104.2 152.4 104.2 154 103.8 155.6 103 157.1 101.8 158.7 100.2 160.3 98.2 161.9 95.7 163.4 92.8 165 89.5 166.6 85.9 168.2 82 169.7 77.9 171.3 73.7 172.9 69.4 174.5 65.3 176 61.4 177.6 57.9 179.2 54.9 180.8 52.4 182.3 50.6 183.9 49.7 185.5 49.6 186.6 48.7 185.1 48.8 183.5 49.8 181.9 51.5 180.3 54 178.8 57 177.2 60.5 175.6 64.4 174.1 68.5 172.5 72.8 170.9 77 169.3 81.1 167.8 85.1 166.2 88.7 164.6 92 163 95 161.4 97.5 159.9 99.5 158.3 101.1 156.7 102.3 155.1 103.1 153.6 103.5 152 103.6 150.4 103.5 148.8 103.2 147.3 102.8 145.7 102.5 144.1 102.2 142.6 101.8 141 101.5 139.4 101.1 137.8 100.8 136.2 100.4 134.7 100.1 133.1 99.7 131.5 99.4 129.9 99 128.4 98.7 126.8 98.4 125.2 98 123.6 97.7 122.1 97.3 120.5 96.7 118.9 95.9 117.3 94.8 115.8 93.4 114.2 91.5 112.6 89.2 111 86.4 109.5 83.2 107.9 79.6 106.3 75.6 104.8 71.3 103.2 66.6 101.6 61.8 100 56.9 98.5 52 96.9 47.1 95.3 42.6 93.7 38.4 92.2 34.6 90.6 31.5 89 29 87.4 27.4 85.8 26.6z" fill="url(#a27)" stroke="url(#a27)"/><path d="M83.5 28.9 85.1 29.7 86.7 31.4 88.3 33.9 89.8 37.1 91.4 40.8 93 45 94.6 49.6 96.1 54.4 97.7 59.2 99.3 64.1 100.9 68.9 102.4 73.4 104 77.7 105.6 81.6 107.2 85.1 108.7 88.2 110.3 90.8 111.9 93 113.5 94.8 115 96.2 116.6 97.2 118.2 98 119.8 98.5 121.3 98.9 122.9 99.2 124.5 99.6 126.1 99.9 127.6 100.2 129.2 100.6 130.8 100.9 132.4 101.3 133.9 101.6 135.5 102 137.1 102.3 138.7 102.7 140.2 103 141.8 103.4 143.4 103.7 145 104 146.5 104.4 148.1 104.7 149.7 104.9 151.3 104.8 152.8 104.5 154.4 103.8 156 102.7 157.6 101.2 159.1 99.2 160.7 96.8 162.3 94 163.9 90.8 165.4 87.2 167 83.4 168.6 79.3 170.2 75.1 171.7 70.9 173.3 66.9 174.9 63 176.5 59.5 178 56.4 179.6 53.9 181.2 52.1 182.8 51.1 184.3 51 185.5 49.6 183.9 49.7 182.3 50.6 180.8 52.4 179.2 54.9 177.6 57.9 176 61.4 174.5 65.3 172.9 69.4 171.3 73.7 169.7 77.9 168.2 82 166.6 85.9 165 89.5 163.4 92.8 161.9 95.7 160.3 98.2 158.7 100.2 157.1 101.8 155.6 103 154 103.8 152.4 104.2 150.8 104.2 149.3 104.1 147.7 103.8 146.1 103.4 144.5 103.1 143 102.8 141.4 102.4 139.8 102.1 138.2 101.7 136.7 101.4 135.1 101 133.5 100.7 131.9 100.3 130.4 100 128.8 99.6 127.2 99.3 125.6 99 124.1 98.6 122.5 98.3 120.9 97.9 119.3 97.3 117.8 96.6 116.2 95.5 114.6 94 113 92.2 111.5 89.9 109.9 87.2 108.3 84 106.7 80.4 105.2 76.4 103.6 72.1 102 67.5 100.4 62.7 98.9 57.8 97.3 52.9 95.7 48.1 94.1 43.5 92.6 39.3 91 35.5 89.4 32.4 87.8 29.9 86.3 28.3 84.7 27.5z" fill="url(#a26)" stroke="url(#a26)"/><path d="M82.4 30.8 83.9 31.7 85.5 33.5 87.1 36 88.7 39.2 90.2 43 91.8 47.2 93.4 51.7 95 56.5 96.5 61.3 98.1 66.1 99.7 70.8 101.3 75.2 102.8 79.3 104.4 83.1 106 86.5 107.6 89.5 109.1 92 110.7 94.1 112.3 95.7 113.9 97 115.4 97.9 117 98.6 118.6 99.1 120.2 99.5 121.7 99.8 123.3 100.2 124.9 100.5 126.5 100.8 128 101.2 129.6 101.5 131.2 101.9 132.8 102.2 134.3 102.6 135.9 102.9 137.5 103.3 139.1 103.6 140.6 104 142.2 104.3 143.8 104.6 145.4 105 146.9 105.3 148.5 105.5 150.1 105.5 151.7 105.3 153.2 104.7 154.8 103.7 156.4 102.3 158 100.5 159.5 98.3 161.1 95.6 162.7 92.5 164.3 89 165.8 85.3 167.4 81.3 169 77.2 170.6 73 172.1 69 173.7 65.1 175.3 61.6 176.9 58.5 178.4 56 180 54.2 181.6 53.1 183.2 52.9 184.3 51 182.8 51.1 181.2 52.1 179.6 53.9 178 56.4 176.5 59.5 174.9 63 173.3 66.9 171.7 70.9 170.2 75.1 168.6 79.3 167 83.4 165.4 87.2 163.9 90.8 162.3 94 160.7 96.8 159.1 99.2 157.6 101.2 156 102.7 154.4 103.8 152.8 104.5 151.3 104.8 149.7 104.9 148.1 104.7 146.5 104.4 145 104 143.4 103.7 141.8 103.4 140.2 103 138.7 102.7 137.1 102.3 135.5 102 133.9 101.6 132.4 101.3 130.8 100.9 129.2 100.6 127.6 100.2 126.1 99.9 124.5 99.6 122.9 99.2 121.3 98.9 119.8 98.5 118.2 98 116.6 97.2 115 96.2 113.5 94.8 111.9 93 110.3 90.8 108.7 88.2 107.2 85.1 105.6 81.6 104 77.7 102.4 73.4 100.9 68.9 99.3 64.1 97.7 59.2 96.1 54.4 94.6 49.6 93 45 91.4 40.8 89.8 37.1 88.3 33.9 86.7 31.4 85.1 29.7 83.5 28.9z" fill="url(#a25)" stroke="url(#a25)"/><path d="M81.2 33.2 82.8 34.2 84.4 36.1 85.9 38.7 87.5 41.9 89.1 45.7 90.7 49.9 92.2 54.4 93.8 59.1 95.4 63.9 97 68.6 98.5 73.1 100.1 77.4 101.7 81.4 103.3 85 104.8 88.2 106.4 91 108 93.3 109.6 95.2 111.1 96.7 112.7 97.9 114.3 98.7 115.9 99.3 117.4 99.7 119 100.1 120.6 100.4 122.2 100.8 123.7 101.1 125.3 101.4 126.9 101.8 128.5 102.1 130 102.5 131.6 102.8 133.2 103.2 134.8 103.5 136.3 103.9 137.9 104.2 139.5 104.5 141.1 104.9 142.6 105.2 144.2 105.6 145.8 105.9 147.4 106.2 148.9 106.3 150.5 106.2 152.1 105.7 153.7 104.9 155.2 103.7 156.8 102.1 158.4 100 160 97.5 161.5 94.5 163.1 91.2 164.7 87.6 166.3 83.8 167.8 79.8 169.4 75.7 171 71.7 172.6 67.9 174.1 64.4 175.7 61.3 177.3 58.7 178.9 56.8 180.4 55.7 182 55.3 183.2 52.9 181.6 53.1 180 54.2 178.4 56 176.9 58.5 175.3 61.6 173.7 65.1 172.1 69 170.6 73 169 77.2 167.4 81.3 165.8 85.3 164.3 89 162.7 92.5 161.1 95.6 159.5 98.3 158 100.5 156.4 102.3 154.8 103.7 153.2 104.7 151.7 105.3 150.1 105.5 148.5 105.5 146.9 105.3 145.4 105 143.8 104.6 142.2 104.3 140.6 104 139.1 103.6 137.5 103.3 135.9 102.9 134.3 102.6 132.8 102.2 131.2 101.9 129.6 101.5 128 101.2 126.5 100.8 124.9 100.5 123.3 100.2 121.7 99.8 120.2 99.5 118.6 99.1 117 98.6 115.4 97.9 113.9 97 112.3 95.7 110.7 94.1 109.1 92 107.6 89.5 106 86.5 104.4 83.1 102.8 79.3 101.3 75.2 99.7 70.8 98.1 66.1 96.5 61.3 95 56.5 93.4 51.7 91.8 47.2 90.2 43 88.7 39.2 87.1 36 85.5 33.5 83.9 31.7 82.4 30.8z" fill="url(#a24)" stroke="url(#a24)"/><path d="M80.1 36.1 81.6 37.3 83.2 39.3 84.8 41.9 86.4 45.2 87.9 49 89.5 53.2 91.1 57.7 92.7 62.3 94.2 67 95.8 71.5 97.4 75.9 99 80 100.5 83.8 102.1 87.2 103.7 90.2 105.3 92.8 106.8 94.9 108.4 96.5 110 97.8 111.6 98.8 113.1 99.5 114.7 99.9 116.3 100.3 117.9 100.7 119.4 101 121 101.3 122.6 101.7 124.2 102 125.7 102.4 127.3 102.7 128.9 103.1 130.5 103.4 132 103.8 133.6 104.1 135.2 104.5 136.8 104.8 138.3 105.1 139.9 105.5 141.5 105.8 143.1 106.2 144.6 106.5 146.2 106.8 147.8 107.1 149.4 107.1 150.9 106.8 152.5 106.2 154.1 105.2 155.7 103.8 157.2 102 158.8 99.7 160.4 97 162 93.8 163.5 90.4 165.1 86.7 166.7 82.8 168.3 78.9 169.8 75 171.4 71.2 173 67.7 174.6 64.6 176.1 62 177.7 60 179.3 58.7 180.9 58.2 182 55.3 180.4 55.7 178.9 56.8 177.3 58.7 175.7 61.3 174.1 64.4 172.6 67.9 171 71.7 169.4 75.7 167.8 79.8 166.3 83.8 164.7 87.6 163.1 91.2 161.5 94.5 160 97.5 158.4 100 156.8 102.1 155.2 103.7 153.7 104.9 152.1 105.7 150.5 106.2 148.9 106.3 147.4 106.2 145.8 105.9 144.2 105.6 142.6 105.2 141.1 104.9 139.5 104.5 137.9 104.2 136.3 103.9 134.8 103.5 133.2 103.2 131.6 102.8 130 102.5 128.5 102.1 126.9 101.8 125.3 101.4 123.7 101.1 122.2 100.8 120.6 100.4 119 100.1 117.4 99.7 115.9 99.3 114.3 98.7 112.7 97.9 111.1 96.7 109.6 95.2 108 93.3 106.4 91 104.8 88.2 103.3 85 101.7 81.4 100.1 77.4 98.5 73.1 97 68.6 95.4 63.9 93.8 59.1 92.2 54.4 90.7 49.9 89.1 45.7 87.5 41.9 85.9 38.7 84.4 36.1 82.8 34.2 81.2 33.2z" fill="url(#a23)" stroke="url(#a23)"/><path d="M78.9 39.6 80.5 40.9 82 43 83.6 45.7 85.2 49.1 86.8 52.9 88.3 57.1 89.9 61.5 91.5 66 93.1 70.5 94.6 74.9 96.2 79.1 97.8 83 99.4 86.6 100.9 89.7 102.5 92.4 104.1 94.7 105.7 96.5 107.2 97.9 108.8 99 110.4 99.7 112 100.3 113.5 100.6 115.1 100.9 116.7 101.3 118.3 101.6 119.8 101.9 121.4 102.3 123 102.6 124.6 103 126.1 103.3 127.7 103.7 129.3 104 130.9 104.4 132.4 104.7 134 105.1 135.6 105.4 137.2 105.7 138.7 106.1 140.3 106.4 141.9 106.8 143.5 107.1 145 107.5 146.6 107.9 148.2 108 149.8 108 151.3 107.6 152.9 106.9 154.5 105.7 156.1 104.2 157.6 102.1 159.2 99.7 160.8 96.8 162.4 93.6 163.9 90.1 165.5 86.4 167.1 82.6 168.7 78.7 170.2 75 171.8 71.5 173.4 68.4 175 65.8 176.5 63.7 178.1 62.3 179.7 61.7 180.9 58.2 179.3 58.7 177.7 60 176.1 62 174.6 64.6 173 67.7 171.4 71.2 169.8 75 168.3 78.9 166.7 82.8 165.1 86.7 163.5 90.4 162 93.8 160.4 97 158.8 99.7 157.2 102 155.7 103.8 154.1 105.2 152.5 106.2 150.9 106.8 149.4 107.1 147.8 107.1 146.2 106.8 144.6 106.5 143.1 106.2 141.5 105.8 139.9 105.5 138.3 105.1 136.8 104.8 135.2 104.5 133.6 104.1 132 103.8 130.5 103.4 128.9 103.1 127.3 102.7 125.7 102.4 124.2 102 122.6 101.7 121 101.3 119.4 101 117.9 100.7 116.3 100.3 114.7 99.9 113.1 99.5 111.6 98.8 110 97.8 108.4 96.5 106.8 94.9 105.3 92.8 103.7 90.2 102.1 87.2 100.5 83.8 99 80 97.4 75.9 95.8 71.5 94.2 67 92.7 62.3 91.1 57.7 89.5 53.2 87.9 49 86.4 45.2 84.8 41.9 83.2 39.3 81.6 37.3 80.1 36.1z" fill="url(#a22)" stroke="url(#a22)"/><path d="M77.7 43.4 79.3 44.9 80.9 47.1 82.5 50 84 53.4 85.6 57.2 87.2 61.4 88.8 65.7 90.3 70.1 91.9 74.5 93.5 78.7 95.1 82.6 96.6 86.3 98.2 89.5 99.8 92.4 101.4 94.8 102.9 96.7 104.5 98.2 106.1 99.4 107.7 100.2 109.2 101.3 110.8 101.8 112.4 101.8 114 101.5 115.5 101.9 117.1 102.2 118.7 102.5 120.3 102.9 121.8 103.2 123.4 103.6 125 103.9 126.6 104.3 128.1 104.6 129.7 105 131.3 105.3 132.9 105.7 134.4 106 136 106.3 137.6 106.7 139.2 107 140.7 107.4 142.3 107.7 143.9 108.7 145.5 109.4 147 109.6 148.6 109.2 150.2 109 151.8 108.6 153.3 107.8 154.9 106.5 156.5 104.8 158.1 102.7 159.6 100.1 161.2 97.1 162.8 93.9 164.4 90.4 165.9 86.7 167.5 83 169.1 79.3 170.7 75.9 172.2 72.7 173.8 70 175.4 67.9 177 66.3 178.5 65.5 179.7 61.7 178.1 62.3 176.5 63.7 175 65.8 173.4 68.4 171.8 71.5 170.2 75 168.7 78.7 167.1 82.6 165.5 86.4 163.9 90.1 162.4 93.6 160.8 96.8 159.2 99.7 157.6 102.1 156.1 104.2 154.5 105.7 152.9 106.9 151.3 107.6 149.8 108 148.2 108 146.6 107.9 145 107.5 143.5 107.1 141.9 106.8 140.3 106.4 138.7 106.1 137.2 105.7 135.6 105.4 134 105.1 132.4 104.7 130.9 104.4 129.3 104 127.7 103.7 126.1 103.3 124.6 103 123 102.6 121.4 102.3 119.8 101.9 118.3 101.6 116.7 101.3 115.1 100.9 113.5 100.6 112 100.3 110.4 99.7 108.8 99 107.2 97.9 105.7 96.5 104.1 94.7 102.5 92.4 100.9 89.7 99.4 86.6 97.8 83 96.2 79.1 94.6 74.9 93.1 70.5 91.5 66 89.9 61.5 88.3 57.1 86.8 52.9 85.2 49.1 83.6 45.7 82 43 80.5 40.9 78.9 39.6z" fill="url(#a21)" stroke="url(#a21)"/><path d="M76.6 47.7 78.2 49.4 79.7 51.8 81.3 54.7 82.9 58.2 84.5 62 86 66.1 87.6 70.4 89.2 74.6 90.8 78.8 92.3 82.8 93.9 86.5 95.5 89.8 97.1 92.7 98.6 95.2 100.2 97.2 101.8 98.8 103.4 100 104.9 101.7 106.5 102.9 108.1 103.6 109.7 103.8 111.2 103.5 112.8 103 114.4 102.5 116 102.8 117.5 103.1 119.1 103.5 120.7 103.8 122.3 104.1 123.8 104.5 125.4 104.8 127 105.2 128.6 105.5 130.1 105.9 131.7 106.2 133.3 106.6 134.9 106.9 136.4 107.3 138 107.6 139.6 108 141.2 109.2 142.7 110.4 144.3 111.4 145.9 111.9 147.5 111.9 149 111.3 150.6 110.4 152.2 109.9 153.8 109 155.3 107.6 156.9 105.8 158.5 103.6 160.1 101 161.6 98 163.2 94.7 164.8 91.2 166.4 87.7 167.9 84.1 169.5 80.7 171.1 77.5 172.7 74.8 174.2 72.5 175.8 70.8 177.4 69.8 178.5 65.5 177 66.3 175.4 67.9 173.8 70 172.2 72.7 170.7 75.9 169.1 79.3 167.5 83 165.9 86.7 164.4 90.4 162.8 93.9 161.2 97.1 159.6 100.1 158.1 102.7 156.5 104.8 154.9 106.5 153.3 107.8 151.8 108.6 150.2 109 148.6 109.2 147 109.6 145.5 109.4 143.9 108.7 142.3 107.7 140.7 107.4 139.2 107 137.6 106.7 136 106.3 134.4 106 132.9 105.7 131.3 105.3 129.7 105 128.1 104.6 126.6 104.3 125 103.9 123.4 103.6 121.8 103.2 120.3 102.9 118.7 102.5 117.1 102.2 115.5 101.9 114 101.5 112.4 101.8 110.8 101.8 109.2 101.3 107.7 100.2 106.1 99.4 104.5 98.2 102.9 96.7 101.4 94.8 99.8 92.4 98.2 89.5 96.6 86.3 95.1 82.6 93.5 78.7 91.9 74.5 90.3 70.1 88.8 65.7 87.2 61.4 85.6 57.2 84 53.4 82.5 50 80.9 47.1 79.3 44.9 77.7 43.4z" fill="url(#a20)" stroke="url(#a20)"/><path d="M75.4 52.4 77 54.3 78.6 56.8 80.1 59.9 81.7 63.4 83.3 67.2 84.9 71.3 86.4 75.4 88 79.5 89.6 83.4 91.2 87.1 92.7 90.5 94.3 93.5 95.9 96 97.5 98.1 99 99.7 100.6 101.7 102.2 103.5 103.8 104.8 105.3 105.6 106.9 106 108.5 105.8 110.1 105.3 111.6 104.5 113.2 103.8 114.8 103.5 116.4 103.7 117.9 104 119.5 104.2 121.1 104.5 122.7 104.8 124.2 105.1 125.8 105.5 127.4 105.8 129 106.2 130.5 106.6 132.1 107 133.7 107.4 135.3 107.9 136.8 108.3 138.4 109.3 140 110.7 141.6 112.2 143.1 113.4 144.7 114.3 146.3 114.6 147.9 114.4 149.4 113.8 151 112.8 152.6 111.5 154.2 110.5 155.7 109.1 157.3 107.3 158.9 105 160.5 102.3 162 99.3 163.6 96.1 165.2 92.7 166.8 89.2 168.3 85.9 169.9 82.7 171.5 79.9 173.1 77.5 174.6 75.7 176.2 74.5 177.4 69.8 175.8 70.8 174.2 72.5 172.7 74.8 171.1 77.5 169.5 80.7 167.9 84.1 166.4 87.7 164.8 91.2 163.2 94.7 161.6 98 160.1 101 158.5 103.6 156.9 105.8 155.3 107.6 153.8 109 152.2 109.9 150.6 110.4 149 111.3 147.5 111.9 145.9 111.9 144.3 111.4 142.7 110.4 141.2 109.2 139.6 108 138 107.6 136.4 107.3 134.9 106.9 133.3 106.6 131.7 106.2 130.1 105.9 128.6 105.5 127 105.2 125.4 104.8 123.8 104.5 122.3 104.1 120.7 103.8 119.1 103.5 117.5 103.1 116 102.8 114.4 102.5 112.8 103 111.2 103.5 109.7 103.8 108.1 103.6 106.5 102.9 104.9 101.7 103.4 100 101.8 98.8 100.2 97.2 98.6 95.2 97.1 92.7 95.5 89.8 93.9 86.5 92.3 82.8 90.8 78.8 89.2 74.6 87.6 70.4 86 66.1 84.5 62 82.9 58.2 81.3 54.7 79.7 51.8 78.2 49.4 76.6 47.7z" fill="url(#a19)" stroke="url(#a19)"/><path d="M74.3 57.4 75.8 59.5 77.4 62.2 79 65.4 80.6 68.9 82.1 72.8 83.7 76.7 85.3 80.7 86.9 84.6 88.4 88.2 90 91.6 91.6 94.6 93.2 97.2 94.7 99.4 96.3 101.6 97.9 103.7 99.5 105.4 101 106.8 102.6 107.6 104.2 108.1 105.8 108.1 107.3 107.6 108.9 106.6 110.5 105.6 112.1 104.6 113.6 104 115.2 104.1 116.8 104.3 118.4 104.4 119.9 104.6 121.5 104.8 123.1 105.1 124.7 105.4 126.2 105.8 127.8 106.2 129.4 106.7 131 107.2 132.5 107.7 134.1 108.3 135.7 108.8 137.3 110.2 138.8 111.8 140.4 113.5 142 115.2 143.6 116.4 145.1 117.1 146.7 117.3 148.3 117.1 149.9 116.5 151.4 115.5 153 114 154.6 112.5 156.2 111 157.7 109.1 159.3 106.8 160.9 104.1 162.5 101.1 164 98 165.6 94.7 167.2 91.4 168.8 88.3 170.3 85.4 171.9 82.9 173.5 80.9 175.1 79.5 176.2 74.5 174.6 75.7 173.1 77.5 171.5 79.9 169.9 82.7 168.3 85.9 166.8 89.2 165.2 92.7 163.6 96.1 162 99.3 160.5 102.3 158.9 105 157.3 107.3 155.7 109.1 154.2 110.5 152.6 111.5 151 112.8 149.4 113.8 147.9 114.4 146.3 114.6 144.7 114.3 143.1 113.4 141.6 112.2 140 110.7 138.4 109.3 136.8 108.3 135.3 107.9 133.7 107.4 132.1 107 130.5 106.6 129 106.2 127.4 105.8 125.8 105.5 124.2 105.1 122.7 104.8 121.1 104.5 119.5 104.2 117.9 104 116.4 103.7 114.8 103.5 113.2 103.8 111.6 104.5 110.1 105.3 108.5 105.8 106.9 106 105.3 105.6 103.8 104.8 102.2 103.5 100.6 101.7 99 99.7 97.5 98.1 95.9 96 94.3 93.5 92.7 90.5 91.2 87.1 89.6 83.4 88 79.5 86.4 75.4 84.9 71.3 83.3 67.2 81.7 63.4 80.1 59.9 78.6 56.8 77 54.3 75.4 52.4z" fill="url(#a18)" stroke="url(#a18)"/><path d="M73.1 62.7 74.7 65.1 76.3 67.9 77.8 71.2 79.4 74.8 81 78.6 82.6 82.4 84.1 86.2 85.7 89.8 87.3 93.2 88.9 96.2 90.4 98.8 92 101.3 93.6 103.8 95.2 105.9 96.7 107.6 98.3 108.9 99.9 109.7 101.5 110.2 103 110.2 104.6 109.7 106.2 108.7 107.8 107.5 109.3 106.1 110.9 104.7 112.5 104.3 114.1 104.3 115.6 104.2 117.2 104.2 118.8 104.3 120.4 104.4 121.9 104.7 123.5 105 125.1 105.3 126.7 105.8 128.2 106.4 129.8 107 131.4 107.7 133 108.4 134.5 109.1 136.1 110.2 137.7 112.3 139.3 114.4 140.8 116.3 142.4 118 144 119.2 145.6 119.9 147.1 120.1 148.7 119.9 150.3 119.3 151.9 118.3 153.4 116.9 155 115.2 156.6 113.4 158.2 111.4 159.7 109.1 161.3 106.4 162.9 103.5 164.5 100.4 166 97.2 167.6 94.1 169.2 91.2 170.8 88.6 172.3 86.5 173.9 84.8 175.1 79.5 173.5 80.9 171.9 82.9 170.3 85.4 168.8 88.3 167.2 91.4 165.6 94.7 164 98 162.5 101.1 160.9 104.1 159.3 106.8 157.7 109.1 156.2 111 154.6 112.5 153 114 151.4 115.5 149.9 116.5 148.3 117.1 146.7 117.3 145.1 117.1 143.6 116.4 142 115.2 140.4 113.5 138.8 111.8 137.3 110.2 135.7 108.8 134.1 108.3 132.5 107.7 131 107.2 129.4 106.7 127.8 106.2 126.2 105.8 124.7 105.4 123.1 105.1 121.5 104.8 119.9 104.6 118.4 104.4 116.8 104.3 115.2 104.1 113.6 104 112.1 104.6 110.5 105.6 108.9 106.6 107.3 107.6 105.8 108.1 104.2 108.1 102.6 107.6 101 106.8 99.5 105.4 97.9 103.7 96.3 101.6 94.7 99.4 93.2 97.2 91.6 94.6 90 91.6 88.4 88.2 86.9 84.6 85.3 80.7 83.7 76.7 82.1 72.8 80.6 68.9 79 65.4 77.4 62.2 75.8 59.5 74.3 57.4z" fill="url(#a17)" stroke="url(#a17)"/><path d="M71.9 68.4 73.5 70.9 75.1 73.9 76.7 77.2 78.2 80.8 79.8 84.6 81.4 88.3 83 91.9 84.5 95.2 86.1 98.2 87.7 101 89.3 103.7 90.8 106.1 92.4 108.1 94 109.8 95.6 111 97.1 111.9 98.7 112.3 100.3 112.3 101.9 111.7 103.4 110.6 105 109.2 106.6 107.6 108.2 105.8 109.7 104.6 111.3 104.3 112.9 104 114.5 103.7 116 103.6 117.6 103.5 119.2 103.5 120.8 103.7 122.3 104 123.9 104.4 125.5 104.9 127.1 105.6 128.6 106.3 130.2 107.2 131.8 108.1 133.4 109.1 134.9 110.1 136.5 112 138.1 114.5 139.7 116.8 141.2 118.9 142.8 120.6 144.4 122 146 122.7 147.5 122.9 149.1 122.8 150.7 122.2 152.3 121.2 153.8 119.9 155.4 118.2 157 116.2 158.6 114.1 160.1 111.8 161.7 109.1 163.3 106.2 164.9 103.2 166.4 100.2 168 97.3 169.6 94.6 171.2 92.3 172.7 90.5 173.9 84.8 172.3 86.5 170.8 88.6 169.2 91.2 167.6 94.1 166 97.2 164.5 100.4 162.9 103.5 161.3 106.4 159.7 109.1 158.2 111.4 156.6 113.4 155 115.2 153.4 116.9 151.9 118.3 150.3 119.3 148.7 119.9 147.1 120.1 145.6 119.9 144 119.2 142.4 118 140.8 116.3 139.3 114.4 137.7 112.3 136.1 110.2 134.5 109.1 133 108.4 131.4 107.7 129.8 107 128.2 106.4 126.7 105.8 125.1 105.3 123.5 105 121.9 104.7 120.4 104.4 118.8 104.3 117.2 104.2 115.6 104.2 114.1 104.3 112.5 104.3 110.9 104.7 109.3 106.1 107.8 107.5 106.2 108.7 104.6 109.7 103 110.2 101.5 110.2 99.9 109.7 98.3 108.9 96.7 107.6 95.2 105.9 93.6 103.8 92 101.3 90.4 98.8 88.9 96.2 87.3 93.2 85.7 89.8 84.1 86.2 82.6 82.4 81 78.6 79.4 74.8 77.8 71.2 76.3 67.9 74.7 65.1 73.1 62.7z" fill="url(#a16)" stroke="url(#a16)"/><path d="M70.8 74.2 72.4 76.9 73.9 80.1 75.5 83.5 77.1 87.1 78.7 90.7 80.2 94.2 81.8 97.6 83.4 100.7 85 103.6 86.5 106.2 88.1 108.5 89.7 110.4 91.3 112 92.8 113.2 94.4 114.1 96 114.5 97.6 114.4 99.1 113.6 100.7 112.4 102.3 110.9 103.9 109.1 105.4 107 107 105 108.6 104.4 110.2 103.8 111.7 103.2 113.3 102.7 114.9 102.4 116.5 102.2 118 102.1 119.6 102.2 121.2 102.4 122.8 102.9 124.3 103.5 125.9 104.2 127.5 105.2 129.1 106.2 130.6 107.4 132.2 108.6 133.8 109.9 135.4 111.2 136.9 113.9 138.5 116.7 140.1 119.2 141.7 121.4 143.2 123.3 144.8 124.7 146.4 125.5 148 125.8 149.5 125.7 151.1 125.1 152.7 124.2 154.3 123 155.8 121.4 157.4 119.5 159 117.2 160.6 114.8 162.1 112.2 163.7 109.3 165.3 106.4 166.9 103.5 168.4 100.8 170 98.3 171.6 96.3 172.7 90.5 171.2 92.3 169.6 94.6 168 97.3 166.4 100.2 164.9 103.2 163.3 106.2 161.7 109.1 160.1 111.8 158.6 114.1 157 116.2 155.4 118.2 153.8 119.9 152.3 121.2 150.7 122.2 149.1 122.8 147.5 122.9 146 122.7 144.4 122 142.8 120.6 141.2 118.9 139.7 116.8 138.1 114.5 136.5 112 134.9 110.1 133.4 109.1 131.8 108.1 130.2 107.2 128.6 106.3 127.1 105.6 125.5 104.9 123.9 104.4 122.3 104 120.8 103.7 119.2 103.5 117.6 103.5 116 103.6 114.5 103.7 112.9 104 111.3 104.3 109.7 104.6 108.2 105.8 106.6 107.6 105 109.2 103.4 110.6 101.9 111.7 100.3 112.3 98.7 112.3 97.1 111.9 95.6 111 94 109.8 92.4 108.1 90.8 106.1 89.3 103.7 87.7 101 86.1 98.2 84.5 95.2 83 91.9 81.4 88.3 79.8 84.6 78.2 80.8 76.7 77.2 75.1 73.9 73.5 70.9 71.9 68.4z" fill="url(#a15)" stroke="url(#a15)"/><path d="M69.6 80.2 71.2 83.1 72.8 86.4 74.3 89.9 75.9 93.4 77.5 96.9 79.1 100.2 80.7 103.4 82.2 106.3 83.8 108.8 85.4 110.9 86.9 112.8 88.5 114.3 90.1 115.5 91.7 116.2 93.2 116.6 94.8 116.4 96.4 115.6 98 114.3 99.5 112.7 101.1 110.7 102.7 108.4 104.3 105.9 105.8 104.6 107.4 103.7 109 102.7 110.6 101.9 112.1 101.2 113.7 100.6 115.3 100.3 116.9 100.1 118.4 100.1 120 100.3 121.6 100.8 123.2 101.4 124.8 102.3 126.3 103.4 127.9 104.7 129.5 106.1 131 107.6 132.6 109.2 134.2 110.9 135.8 112.8 137.3 116 138.9 119 140.5 121.6 142.1 124 143.6 126 145.2 127.5 146.8 128.3 148.4 128.7 149.9 128.6 151.5 128.1 153.1 127.3 154.7 126.1 156.2 124.7 157.8 122.9 159.4 120.7 161 118.2 162.5 115.5 164.1 112.7 165.7 109.9 167.3 107.1 168.8 104.5 170.4 102.3 171.6 96.3 170 98.3 168.4 100.8 166.9 103.5 165.3 106.4 163.7 109.3 162.1 112.2 160.6 114.8 159 117.2 157.4 119.5 155.8 121.4 154.3 123 152.7 124.2 151.1 125.1 149.5 125.7 148 125.8 146.4 125.5 144.8 124.7 143.2 123.3 141.7 121.4 140.1 119.2 138.5 116.7 136.9 113.9 135.4 111.2 133.8 109.9 132.2 108.6 130.6 107.4 129.1 106.2 127.5 105.2 125.9 104.2 124.3 103.5 122.8 102.9 121.2 102.4 119.6 102.2 118 102.1 116.5 102.2 114.9 102.4 113.3 102.7 111.7 103.2 110.2 103.8 108.6 104.4 107 105 105.4 107 103.9 109.1 102.3 110.9 100.7 112.4 99.1 113.6 97.6 114.4 96 114.5 94.4 114.1 92.8 113.2 91.3 112 89.7 110.4 88.1 108.5 86.5 106.2 85 103.6 83.4 100.7 81.8 97.6 80.2 94.2 78.7 90.7 77.1 87.1 75.5 83.5 73.9 80.1 72.4 76.9 70.8 74.2z" fill="url(#a14)" stroke="url(#a14)"/><path d="M68.5 86.3 70 89.4 71.6 92.8 73.2 96.3 74.8 99.7 76.3 103.2 77.9 106.3 79.5 109.1 81.1 111.5 82.6 113.6 84.2 115.3 85.8 116.6 87.4 117.7 88.9 118.4 90.5 118.7 92.1 118.5 93.7 117.6 95.2 116.2 96.8 114.4 98.4 112.3 100 109.9 101.5 107.2 103.1 105.1 104.7 103.7 106.3 102.4 107.8 101.2 109.4 100 111 99.1 112.6 98.3 114.1 97.8 115.7 97.5 117.3 97.4 118.9 97.6 120.4 98.1 122 98.8 123.6 99.8 125.2 101.1 126.7 102.5 128.3 104.2 129.9 106 131.5 107.9 133 109.9 134.6 112 136.2 114.8 137.8 118.2 139.3 121.3 140.9 124.1 142.5 126.5 144.1 128.6 145.6 130.2 147.2 131.1 148.8 131.6 150.4 131.5 151.9 131.1 153.5 130.5 155.1 129.5 156.7 128.1 158.2 126.4 159.8 124.3 161.4 121.8 163 119.1 164.5 116.3 166.1 113.5 167.7 110.8 169.3 108.4 170.4 102.3 168.8 104.5 167.3 107.1 165.7 109.9 164.1 112.7 162.5 115.5 161 118.2 159.4 120.7 157.8 122.9 156.2 124.7 154.7 126.1 153.1 127.3 151.5 128.1 149.9 128.6 148.4 128.7 146.8 128.3 145.2 127.5 143.6 126 142.1 124 140.5 121.6 138.9 119 137.3 116 135.8 112.8 134.2 110.9 132.6 109.2 131 107.6 129.5 106.1 127.9 104.7 126.3 103.4 124.8 102.3 123.2 101.4 121.6 100.8 120 100.3 118.4 100.1 116.9 100.1 115.3 100.3 113.7 100.6 112.1 101.2 110.6 101.9 109 102.7 107.4 103.7 105.8 104.6 104.3 105.9 102.7 108.4 101.1 110.7 99.5 112.7 98 114.3 96.4 115.6 94.8 116.4 93.2 116.6 91.7 116.2 90.1 115.5 88.5 114.3 86.9 112.8 85.4 110.9 83.8 108.8 82.2 106.3 80.7 103.4 79.1 100.2 77.5 96.9 75.9 93.4 74.3 89.9 72.8 86.4 71.2 83.1 69.6 80.2z" fill="url(#a13)" stroke="url(#a13)"/><path d="M67.3 92.5 68.9 95.8 70.5 99.2 72 102.9 73.6 106.2 75.2 109.2 76.8 112 78.3 114.3 79.9 116.4 81.5 118 83.1 119.3 84.6 120.2 86.2 120.6 87.8 120.8 89.4 120.5 90.9 119.5 92.5 118.1 94.1 116.2 95.7 114 97.2 111.5 98.8 108.6 100.4 105.8 102 104 103.5 102.2 105.1 100.5 106.7 99 108.3 97.6 109.8 96.4 111.4 95.4 113 94.7 114.6 94.3 116.1 94.2 117.7 94.4 119.3 94.9 120.9 95.7 122.4 96.8 124 98.2 125.6 99.8 127.2 101.7 128.7 103.8 130.3 106.1 131.9 108.4 133.5 110.9 135 113.4 136.6 116.9 138.2 120.4 139.8 123.7 141.3 126.6 142.9 129.1 144.5 131.2 146.1 132.9 147.6 134 149.2 134.4 150.8 134.7 152.4 134.5 153.9 133.9 155.5 132.9 157.1 131.6 158.7 129.9 160.2 127.9 161.8 125.6 163.4 122.9 165 119.9 166.5 117.2 168.1 114.6 169.3 108.4 167.7 110.8 166.1 113.5 164.5 116.3 163 119.1 161.4 121.8 159.8 124.3 158.2 126.4 156.7 128.1 155.1 129.5 153.5 130.5 151.9 131.1 150.4 131.5 148.8 131.6 147.2 131.1 145.6 130.2 144.1 128.6 142.5 126.5 140.9 124.1 139.3 121.3 137.8 118.2 136.2 114.8 134.6 112 133 109.9 131.5 107.9 129.9 106 128.3 104.2 126.7 102.5 125.2 101.1 123.6 99.8 122 98.8 120.4 98.1 118.9 97.6 117.3 97.4 115.7 97.5 114.1 97.8 112.6 98.3 111 99.1 109.4 100 107.8 101.2 106.3 102.4 104.7 103.7 103.1 105.1 101.5 107.2 100 109.9 98.4 112.3 96.8 114.4 95.2 116.2 93.7 117.6 92.1 118.5 90.5 118.7 88.9 118.4 87.4 117.7 85.8 116.6 84.2 115.3 82.6 113.6 81.1 111.5 79.5 109.1 77.9 106.3 76.3 103.2 74.8 99.7 73.2 96.3 71.6 92.8 70 89.4 68.5 86.3z" fill="url(#a12)" stroke="url(#a12)"/><path d="M66.1 98.7 67.7 102.5 69.3 106.1 70.9 109.4 72.4 112.3 74 114.9 75.6 117.2 77.2 119.2 78.7 120.8 80.3 122 81.9 122.8 83.5 123.2 85 123.2 86.6 122.5 88.2 121.4 89.8 119.9 91.3 118 92.9 115.7 94.5 113.1 96.1 110.1 97.6 106.8 99.2 104.5 100.8 102.3 102.4 100.1 103.9 98.1 105.5 96.3 107.1 94.6 108.7 93.2 110.2 92 111.8 91.2 113.4 90.7 115 90.5 116.5 90.7 118.1 91.2 119.7 92 121.3 93.3 122.8 94.8 124.4 96.6 126 98.7 127.6 101.1 129.1 103.6 130.7 106.4 132.3 109.2 133.9 112.1 135.4 115.1 137 119.1 138.6 122.7 140.2 126.1 141.7 129.1 143.3 131.7 144.9 133.9 146.5 135.6 148 137 149.6 137.7 151.2 138 152.8 137.9 154.3 137.3 155.9 136.4 157.5 135.2 159.1 133.6 160.6 131.7 162.2 129.4 163.8 126.8 165.4 123.9 166.9 120.8 168.1 114.6 166.5 117.2 165 119.9 163.4 122.9 161.8 125.6 160.2 127.9 158.7 129.9 157.1 131.6 155.5 132.9 153.9 133.9 152.4 134.5 150.8 134.7 149.2 134.4 147.6 134 146.1 132.9 144.5 131.2 142.9 129.1 141.3 126.6 139.8 123.7 138.2 120.4 136.6 116.9 135 113.4 133.5 110.9 131.9 108.4 130.3 106.1 128.7 103.8 127.2 101.7 125.6 99.8 124 98.2 122.4 96.8 120.9 95.7 119.3 94.9 117.7 94.4 116.1 94.2 114.6 94.3 113 94.7 111.4 95.4 109.8 96.4 108.3 97.6 106.7 99 105.1 100.5 103.5 102.2 102 104 100.4 105.8 98.8 108.6 97.2 111.5 95.7 114 94.1 116.2 92.5 118.1 90.9 119.5 89.4 120.5 87.8 120.8 86.2 120.6 84.6 120.2 83.1 119.3 81.5 118 79.9 116.4 78.3 114.3 76.8 112 75.2 109.2 73.6 106.2 72 102.9 70.5 99.2 68.9 95.8 67.3 92.5z" fill="url(#a11)" stroke="url(#a11)"/><path d="M65 105.8 66.6 109.4 68.1 112.6 69.7 115.5 71.3 118 72.9 120.2 74.4 122.1 76 123.5 77.6 124.7 79.2 125.5 80.7 125.8 82.3 125.7 83.9 125 85.5 123.6 87 121.8 88.6 119.8 90.2 117.5 91.8 114.7 93.3 111.7 94.9 108.3 96.5 105.3 98.1 102.6 99.6 100 101.2 97.5 102.8 95.2 104.4 93 105.9 91.1 107.5 89.5 109.1 88.2 110.7 87.2 112.2 86.6 113.8 86.4 115.4 86.5 117 87.1 118.5 88 120.1 89.3 121.7 90.9 123.3 92.9 124.8 95.3 126.4 97.9 128 100.7 129.6 103.7 131.1 106.9 132.7 110.2 134.3 113.6 135.9 117.3 137.4 121.4 139 125.1 140.6 128.5 142.2 131.5 143.7 134.3 145.3 136.7 146.9 138.8 148.5 140.2 150 141 151.6 141.4 153.2 141.3 154.8 140.8 156.3 140 157.9 138.9 159.5 137.4 161.1 135.5 162.6 133.3 164.2 130.8 165.8 127.9 166.9 120.8 165.4 123.9 163.8 126.8 162.2 129.4 160.6 131.7 159.1 133.6 157.5 135.2 155.9 136.4 154.3 137.3 152.8 137.9 151.2 138 149.6 137.7 148 137 146.5 135.6 144.9 133.9 143.3 131.7 141.7 129.1 140.2 126.1 138.6 122.7 137 119.1 135.4 115.1 133.9 112.1 132.3 109.2 130.7 106.4 129.1 103.6 127.6 101.1 126 98.7 124.4 96.6 122.8 94.8 121.3 93.3 119.7 92 118.1 91.2 116.5 90.7 115 90.5 113.4 90.7 111.8 91.2 110.2 92 108.7 93.2 107.1 94.6 105.5 96.3 103.9 98.1 102.4 100.1 100.8 102.3 99.2 104.5 97.6 106.8 96.1 110.1 94.5 113.1 92.9 115.7 91.3 118 89.8 119.9 88.2 121.4 86.6 122.5 85 123.2 83.5 123.2 81.9 122.8 80.3 122 78.7 120.8 77.2 119.2 75.6 117.2 74 114.9 72.4 112.3 70.9 109.4 69.3 106.1 67.7 102.5 66.1 98.7z" fill="url(#a10)" stroke="url(#a10)"/><path d="M63.8 112.7 65.4 115.9 67 118.7 68.6 121.2 70.1 123.3 71.7 125.1 73.3 126.5 74.9 127.5 76.4 128.1 78 128.4 79.6 128.2 81.2 127.4 82.7 126 84.3 124.1 85.9 121.9 87.5 119.3 89 116.4 90.6 113.3 92.2 109.8 93.8 106.3 95.3 103.2 96.9 100.2 98.5 97.2 100.1 94.4 101.6 91.8 103.2 89.4 104.8 87.2 106.4 85.4 107.9 84 109.5 82.9 111.1 82.2 112.7 81.9 114.2 82.1 115.8 82.6 117.4 83.6 119 85 120.5 86.8 122.1 88.9 123.7 91.4 125.3 94.2 126.8 97.3 128.4 100.6 130 104.1 131.6 107.8 133.1 111.5 134.7 115.3 136.3 119.5 137.9 123.7 139.4 127.5 141 131 142.6 134.3 144.2 137.2 145.7 139.8 147.3 141.9 148.9 143.4 150.5 144.3 152 144.7 153.6 144.8 155.2 144.4 156.8 143.7 158.3 142.6 159.9 141.2 161.5 139.4 163.1 137.3 164.6 134.8 165.8 127.9 164.2 130.8 162.6 133.3 161.1 135.5 159.5 137.4 157.9 138.9 156.3 140 154.8 140.8 153.2 141.3 151.6 141.4 150 141 148.5 140.2 146.9 138.8 145.3 136.7 143.7 134.3 142.2 131.5 140.6 128.5 139 125.1 137.4 121.4 135.9 117.3 134.3 113.6 132.7 110.2 131.1 106.9 129.6 103.7 128 100.7 126.4 97.9 124.8 95.3 123.3 92.9 121.7 90.9 120.1 89.3 118.5 88 117 87.1 115.4 86.5 113.8 86.4 112.2 86.6 110.7 87.2 109.1 88.2 107.5 89.5 105.9 91.1 104.4 93 102.8 95.2 101.2 97.5 99.6 100 98.1 102.6 96.5 105.3 94.9 108.3 93.3 111.7 91.8 114.7 90.2 117.5 88.6 119.8 87 121.8 85.5 123.6 83.9 125 82.3 125.7 80.7 125.8 79.2 125.5 77.6 124.7 76 123.5 74.4 122.1 72.9 120.2 71.3 118 69.7 115.5 68.1 112.6 66.6 109.4 65 105.8z" fill="url(#a9)" stroke="url(#a9)"/><path d="M62.7 118.9 64.2 121.9 65.8 124.3 67.4 126.4 69 128.1 70.5 129.5 72.1 130.4 73.7 131 75.3 131.1 76.8 130.8 78.4 129.8 80 128.3 81.6 126.4 83.1 124.1 84.7 121.4 86.3 118.4 87.9 115.1 89.4 111.5 91 107.6 92.6 104.1 94.2 100.6 95.7 97.2 97.3 94 98.9 90.9 100.5 88 102 85.4 103.6 83.1 105.2 81.2 106.8 79.6 108.3 78.4 109.9 77.6 111.5 77.3 113.1 77.4 114.6 78 116.2 79 117.8 80.5 119.4 82.3 120.9 84.6 122.5 87.2 124.1 90.2 125.7 93.5 127.2 97.1 128.8 100.9 130.4 104.8 132 108.9 133.5 113.1 135.1 117.2 136.7 121.8 138.3 126.1 139.8 130.1 141.4 133.8 143 137.2 144.6 140.2 146.1 142.8 147.7 145 149.3 146.7 150.9 147.7 152.4 148.3 154 148.4 155.6 148.1 157.2 147.5 158.7 146.4 160.3 145 161.9 143.3 163.5 141 164.6 134.8 163.1 137.3 161.5 139.4 159.9 141.2 158.3 142.6 156.8 143.7 155.2 144.4 153.6 144.8 152 144.7 150.5 144.3 148.9 143.4 147.3 141.9 145.7 139.8 144.2 137.2 142.6 134.3 141 131 139.4 127.5 137.9 123.7 136.3 119.5 134.7 115.3 133.1 111.5 131.6 107.8 130 104.1 128.4 100.6 126.8 97.3 125.3 94.2 123.7 91.4 122.1 88.9 120.5 86.8 119 85 117.4 83.6 115.8 82.6 114.2 82.1 112.7 81.9 111.1 82.2 109.5 82.9 107.9 84 106.4 85.4 104.8 87.2 103.2 89.4 101.6 91.8 100.1 94.4 98.5 97.2 96.9 100.2 95.3 103.2 93.8 106.3 92.2 109.8 90.6 113.3 89 116.4 87.5 119.3 85.9 121.9 84.3 124.1 82.7 126 81.2 127.4 79.6 128.2 78 128.4 76.4 128.1 74.9 127.5 73.3 126.5 71.7 125.1 70.1 123.3 68.6 121.2 67 118.7 65.4 115.9 63.8 112.7z" fill="url(#a8)" stroke="url(#a8)"/><path d="M61.5 124.6 63.1 127.2 64.7 129.5 66.2 131.2 67.8 132.5 69.4 133.4 71 133.9 72.5 134 74.1 133.5 75.7 132.3 77.3 130.7 78.8 128.7 80.4 126.3 82 123.5 83.6 120.4 85.1 117 86.7 113.2 88.3 109.2 89.9 105.2 91.4 101.4 93 97.6 94.6 93.9 96.2 90.4 97.7 87.1 99.3 84 100.9 81.3 102.5 78.8 104 76.8 105.6 75.1 107.2 73.9 108.8 73 110.3 72.7 111.9 72.8 113.5 73.4 115.1 74.4 116.6 75.9 118.2 77.9 119.8 80.2 121.4 83 122.9 86.1 124.5 89.6 126.1 93.3 127.7 97.3 129.2 101.5 130.8 105.9 132.4 110.4 134 114.9 135.5 119.6 137.1 124.3 138.7 128.7 140.3 132.8 141.8 136.6 143.4 140.1 145 143.2 146.6 145.9 148.1 148.2 149.7 150.1 151.3 151.2 152.9 151.9 154.4 152 156 151.8 157.6 151.2 159.2 150.2 160.7 148.6 162.3 146.7 163.5 141 161.9 143.3 160.3 145 158.7 146.4 157.2 147.5 155.6 148.1 154 148.4 152.4 148.3 150.9 147.7 149.3 146.7 147.7 145 146.1 142.8 144.6 140.2 143 137.2 141.4 133.8 139.8 130.1 138.3 126.1 136.7 121.8 135.1 117.2 133.5 113.1 132 108.9 130.4 104.8 128.8 100.9 127.2 97.1 125.7 93.5 124.1 90.2 122.5 87.2 120.9 84.6 119.4 82.3 117.8 80.5 116.2 79 114.6 78 113.1 77.4 111.5 77.3 109.9 77.6 108.3 78.4 106.8 79.6 105.2 81.2 103.6 83.1 102 85.4 100.5 88 98.9 90.9 97.3 94 95.7 97.2 94.2 100.6 92.6 104.1 91 107.6 89.4 111.5 87.9 115.1 86.3 118.4 84.7 121.4 83.1 124.1 81.6 126.4 80 128.3 78.4 129.8 76.8 130.8 75.3 131.1 73.7 131 72.1 130.4 70.5 129.5 69 128.1 67.4 126.4 65.8 124.3 64.2 121.9 62.7 118.9z" fill="url(#a7)" stroke="url(#a7)"/><path d="M60.4 129.8 61.9 132 63.5 133.9 65.1 135.5 66.7 136.3 68.2 136.8 69.8 136.8 71.4 136.2 73 135 74.5 133.2 76.1 131.1 77.7 128.5 79.3 125.6 80.8 122.5 82.4 118.9 84 115.1 85.6 110.9 87.1 106.6 88.7 102.5 90.3 98.3 91.9 94.3 93.4 90.4 95 86.7 96.6 83.2 98.2 80 99.7 77.1 101.3 74.6 102.9 72.4 104.5 70.7 106 69.4 107.6 68.6 109.2 68.2 110.8 68.3 112.3 68.9 113.9 70 115.5 71.5 117.1 73.5 118.6 75.9 120.2 78.7 121.8 81.9 123.4 85.5 124.9 89.4 126.5 93.6 128.1 98 129.7 102.6 131.2 107.3 132.8 112.1 134.4 117 136 122 137.5 126.8 139.1 131.4 140.7 135.6 142.3 139.5 143.8 143 145.4 146.2 147 149.1 148.6 151.5 150.1 153.5 151.7 154.7 153.3 155.4 154.9 155.7 156.4 155.5 158 154.7 159.6 153.4 161.2 151.9 162.3 146.7 160.7 148.6 159.2 150.2 157.6 151.2 156 151.8 154.4 152 152.9 151.9 151.3 151.2 149.7 150.1 148.1 148.2 146.6 145.9 145 143.2 143.4 140.1 141.8 136.6 140.3 132.8 138.7 128.7 137.1 124.3 135.5 119.6 134 114.9 132.4 110.4 130.8 105.9 129.2 101.5 127.7 97.3 126.1 93.3 124.5 89.6 122.9 86.1 121.4 83 119.8 80.2 118.2 77.9 116.6 75.9 115.1 74.4 113.5 73.4 111.9 72.8 110.3 72.7 108.8 73 107.2 73.9 105.6 75.1 104 76.8 102.5 78.8 100.9 81.3 99.3 84 97.7 87.1 96.2 90.4 94.6 93.9 93 97.6 91.4 101.4 89.9 105.2 88.3 109.2 86.7 113.2 85.1 117 83.6 120.4 82 123.5 80.4 126.3 78.8 128.7 77.3 130.7 75.7 132.3 74.1 133.5 72.5 134 71 133.9 69.4 133.4 67.8 132.5 66.2 131.2 64.7 129.5 63.1 127.2 61.5 124.6z" fill="url(#a6)" stroke="url(#a6)"/><path d="M59.2 134.4 60.8 136.3 62.3 137.8 63.9 138.9 65.5 139.7 67.1 139.6 68.6 138.9 70.2 137.6 71.8 135.8 73.4 133.5 74.9 130.9 76.5 127.9 78.1 124.6 79.7 120.9 81.2 117 82.8 112.8 84.4 108.2 86 103.8 87.5 99.4 89.1 95 90.7 90.8 92.3 86.8 93.8 82.9 95.4 79.4 97 76.1 98.6 73.1 100.1 70.5 101.7 68.4 103.3 66.6 104.9 65.3 106.4 64.4 108 64.1 109.6 64.2 111.2 64.8 112.7 65.8 114.3 67.4 115.9 69.4 117.5 71.8 119 74.7 120.6 78 122.2 81.6 123.8 85.6 125.3 89.8 126.9 94.4 128.5 99.1 130.1 104 131.6 109.1 133.2 114.1 134.8 119.3 136.4 124.5 137.9 129.4 139.5 134.1 141.1 138.4 142.7 142.4 144.2 146.1 145.8 149.4 147.4 152.4 149 154.9 150.5 156.9 152.1 158.2 153.7 159 155.3 159 156.8 158.5 158.4 157.7 160 156.5 161.2 151.9 159.6 153.4 158 154.7 156.4 155.5 154.9 155.7 153.3 155.4 151.7 154.7 150.1 153.5 148.6 151.5 147 149.1 145.4 146.2 143.8 143 142.3 139.5 140.7 135.6 139.1 131.4 137.5 126.8 136 122 134.4 117 132.8 112.1 131.2 107.3 129.7 102.6 128.1 98 126.5 93.6 124.9 89.4 123.4 85.5 121.8 81.9 120.2 78.7 118.6 75.9 117.1 73.5 115.5 71.5 113.9 70 112.3 68.9 110.8 68.3 109.2 68.2 107.6 68.6 106 69.4 104.5 70.7 102.9 72.4 101.3 74.6 99.7 77.1 98.2 80 96.6 83.2 95 86.7 93.4 90.4 91.9 94.3 90.3 98.3 88.7 102.5 87.1 106.6 85.6 110.9 84 115.1 82.4 118.9 80.8 122.5 79.3 125.6 77.7 128.5 76.1 131.1 74.5 133.2 73 135 71.4 136.2 69.8 136.8 68.2 136.8 66.7 136.3 65.1 135.5 63.5 133.9 61.9 132 60.4 129.8z" fill="url(#a5)" stroke="url(#a5)"/><path d="M58 138.6 59.6 140 61.2 141 62.8 141.7 64.3 142 65.9 141.6 67.5 140.2 69.1 138.3 70.6 136 72.2 133.3 73.8 130.3 75.4 126.8 76.9 123.1 78.5 119 80.1 114.7 81.7 110 83.2 105.3 84.8 100.7 86.4 96.2 88 91.7 89.5 87.4 91.1 83.3 92.7 79.4 94.3 75.7 95.8 72.4 97.4 69.5 99 66.9 100.6 64.7 102.1 62.9 103.7 61.6 105.3 60.8 106.9 60.4 108.4 60.5 110 61.1 111.6 62.2 113.2 63.7 114.7 65.7 116.3 68.2 117.9 71 119.5 74.3 121 78 122.6 82 124.2 86.3 125.8 90.9 127.3 95.7 128.9 100.7 130.5 105.8 132.1 111.1 133.6 116.4 135.2 121.7 136.8 127.1 138.4 132.2 139.9 136.9 141.5 141.4 143.1 145.5 144.7 149.2 146.2 152.6 147.8 155.6 149.4 158.2 151 160.3 152.5 161.3 154.1 161.8 155.7 161.8 157.3 161.4 158.8 160.7 160 156.5 158.4 157.7 156.8 158.5 155.3 159 153.7 159 152.1 158.2 150.5 156.9 149 154.9 147.4 152.4 145.8 149.4 144.2 146.1 142.7 142.4 141.1 138.4 139.5 134.1 137.9 129.4 136.4 124.5 134.8 119.3 133.2 114.1 131.6 109.1 130.1 104 128.5 99.1 126.9 94.4 125.3 89.8 123.8 85.6 122.2 81.6 120.6 78 119 74.7 117.5 71.8 115.9 69.4 114.3 67.4 112.7 65.8 111.2 64.8 109.6 64.2 108 64.1 106.4 64.4 104.9 65.3 103.3 66.6 101.7 68.4 100.1 70.5 98.6 73.1 97 76.1 95.4 79.4 93.8 82.9 92.3 86.8 90.7 90.8 89.1 95 87.5 99.4 86 103.8 84.4 108.2 82.8 112.8 81.2 117 79.7 120.9 78.1 124.6 76.5 127.9 74.9 130.9 73.4 133.5 71.8 135.8 70.2 137.6 68.6 138.9 67.1 139.6 65.5 139.7 63.9 138.9 62.3 137.8 60.8 136.3 59.2 134.4z" fill="url(#a4)" stroke="url(#a4)"/><path d="M56.9 142.2 58.5 143.1 60 143.7 61.6 143.9 63.2 143.5 64.8 142.4 66.3 140.8 67.9 138.5 69.5 135.8 71.1 132.6 72.6 129.1 74.2 125.3 75.8 121.2 77.4 116.7 78.9 111.9 80.5 107 82.1 102.3 83.7 97.6 85.2 93 86.8 88.5 88.4 84.1 90 80 91.5 76.1 93.1 72.5 94.7 69.3 96.3 66.3 97.8 63.8 99.4 61.7 101 59.9 102.6 58.6 104.1 57.8 105.7 57.5 107.3 57.6 108.9 58.1 110.4 59.2 112 60.7 113.6 62.7 115.2 65.1 116.7 67.9 118.3 71.2 119.9 74.8 121.5 78.8 123 83 124.6 87.6 126.2 92.4 127.8 97.5 129.3 102.6 130.9 108 132.5 113.3 134.1 118.7 135.6 124.3 137.2 129.8 138.8 135 140.4 139.8 141.9 144.3 143.5 148.5 145.1 152.3 146.7 155.8 148.2 158.8 149.8 161 151.4 162.8 153 163.9 154.5 164.5 156.1 164.6 157.7 164.3 158.8 160.7 157.3 161.4 155.7 161.8 154.1 161.8 152.5 161.3 151 160.3 149.4 158.2 147.8 155.6 146.2 152.6 144.7 149.2 143.1 145.5 141.5 141.4 139.9 136.9 138.4 132.2 136.8 127.1 135.2 121.7 133.6 116.4 132.1 111.1 130.5 105.8 128.9 100.7 127.3 95.7 125.8 90.9 124.2 86.3 122.6 82 121 78 119.5 74.3 117.9 71 116.3 68.2 114.7 65.7 113.2 63.7 111.6 62.2 110 61.1 108.4 60.5 106.9 60.4 105.3 60.8 103.7 61.6 102.1 62.9 100.6 64.7 99 66.9 97.4 69.5 95.8 72.4 94.3 75.7 92.7 79.4 91.1 83.3 89.5 87.4 88 91.7 86.4 96.2 84.8 100.7 83.2 105.3 81.7 110 80.1 114.7 78.5 119 76.9 123.1 75.4 126.8 73.8 130.3 72.2 133.3 70.6 136 69.1 138.3 67.5 140.2 65.9 141.6 64.3 142 62.8 141.7 61.2 141 59.6 140 58 138.6z" fill="url(#a3)" stroke="url(#a3)"/><path d="M55.7 145.2 57.3 145.7 58.9 145.8 60.4 145.3 62 144.1 63.6 142.5 65.2 140.5 66.7 138 68.3 135 69.9 131.4 71.5 127.6 73 123.3 74.6 118.7 76.2 113.9 77.8 108.8 79.3 104 80.9 99.3 82.5 94.6 84.1 90 85.6 85.6 87.2 81.3 88.8 77.2 90.4 73.5 91.9 69.9 93.5 66.8 95.1 63.9 96.7 61.4 98.2 59.4 99.8 57.7 101.4 56.5 103 55.7 104.5 55.4 106.1 55.5 107.7 56 109.3 57.1 110.8 58.6 112.4 60.5 114 62.8 115.6 65.6 117.1 68.8 118.7 72.3 120.3 76.2 121.9 80.4 123.4 84.8 125 89.6 126.6 94.5 128.2 99.7 129.7 105 131.3 110.3 132.9 115.8 134.5 121.2 136 127 137.6 132.6 139.2 137.8 140.8 142.7 142.3 147.3 143.9 151.6 145.5 155.3 147.1 158.4 148.6 161.2 150.2 163.5 151.8 165.3 153.4 166.5 154.9 167.2 156.5 167.3 157.7 164.3 156.1 164.6 154.5 164.5 153 163.9 151.4 162.8 149.8 161 148.2 158.8 146.7 155.8 145.1 152.3 143.5 148.5 141.9 144.3 140.4 139.8 138.8 135 137.2 129.8 135.6 124.3 134.1 118.7 132.5 113.3 130.9 108 129.3 102.6 127.8 97.5 126.2 92.4 124.6 87.6 123 83 121.5 78.8 119.9 74.8 118.3 71.2 116.7 67.9 115.2 65.1 113.6 62.7 112 60.7 110.4 59.2 108.9 58.1 107.3 57.6 105.7 57.5 104.1 57.8 102.6 58.6 101 59.9 99.4 61.7 97.8 63.8 96.3 66.3 94.7 69.3 93.1 72.5 91.5 76.1 90 80 88.4 84.1 86.8 88.5 85.2 93 83.7 97.6 82.1 102.3 80.5 107 78.9 111.9 77.4 116.7 75.8 121.2 74.2 125.3 72.6 129.1 71.1 132.6 69.5 135.8 67.9 138.5 66.3 140.8 64.8 142.4 63.2 143.5 61.6 143.9 60 143.7 58.5 143.1 56.9 142.2z" fill="url(#a2)" stroke="url(#a2)"/><path d="M54.6 147.7 56.1 147.7 57.7 147.1 59.3 145.9 60.9 144.3 62.4 142.2 64 139.7 65.6 136.8 67.2 133.5 68.7 129.8 70.3 125.5 71.9 120.9 73.5 115.9 75 110.6 76.6 105.9 78.2 101.2 79.8 96.5 81.3 91.9 82.9 87.4 84.5 83.1 86.1 79 87.6 75.1 89.2 71.5 90.8 68.1 92.4 65 93.9 62.3 95.5 60 97.1 58 98.7 56.5 100.2 55.3 101.8 54.6 103.4 54.2 105 54.4 106.5 54.9 108.1 55.9 109.7 57.4 111.3 59.2 112.8 61.5 114.4 64.1 116 67.2 117.6 70.6 119.1 74.3 120.7 78.4 122.3 82.7 123.9 87.3 125.4 92.1 127 97.1 128.6 102.3 130.2 107.5 131.7 112.9 133.3 118.3 134.9 123.7 136.5 129.7 138 135.4 139.6 140.7 141.2 145.7 142.8 150.1 144.3 154.1 145.9 157.7 147.5 160.8 149.1 163.6 150.6 165.9 152.2 167.8 153.8 169.1 155.4 169.8 156.5 167.3 154.9 167.2 153.4 166.5 151.8 165.3 150.2 163.5 148.6 161.2 147.1 158.4 145.5 155.3 143.9 151.6 142.3 147.3 140.8 142.7 139.2 137.8 137.6 132.6 136 127 134.5 121.2 132.9 115.8 131.3 110.3 129.7 105 128.2 99.7 126.6 94.5 125 89.6 123.4 84.8 121.9 80.4 120.3 76.2 118.7 72.3 117.1 68.8 115.6 65.6 114 62.8 112.4 60.5 110.8 58.6 109.3 57.1 107.7 56 106.1 55.5 104.5 55.4 103 55.7 101.4 56.5 99.8 57.7 98.2 59.4 96.7 61.4 95.1 63.9 93.5 66.8 91.9 69.9 90.4 73.5 88.8 77.2 87.2 81.3 85.6 85.6 84.1 90 82.5 94.6 80.9 99.3 79.3 104 77.8 108.8 76.2 113.9 74.6 118.7 73 123.3 71.5 127.6 69.9 131.4 68.3 135 66.7 138 65.2 140.5 63.6 142.5 62 144.1 60.4 145.3 58.9 145.8 57.3 145.7 55.7 145.2z" fill="url(#a1)" stroke="url(#a1)"/><path d="M53.4 149.6 55 148.9 56.5 147.6 58.1 146 59.7 143.9 61.3 141.4 62.8 138.5 64.4 135.3 66 131.6 67.6 127.5 69.1 123 70.7 118 72.3 112.7 73.9 107.7 75.4 103.1 77 98.6 78.6 94.1 80.2 89.7 81.8 85.4 83.3 81.3 84.9 77.4 86.5 73.7 88 70.3 89.6 67.1 91.2 64.3 92.8 61.7 94.3 59.5 95.9 57.7 97.5 56.3 99.1 55.2 100.6 54.5 102.2 54.2 103.8 54.4 105.4 54.9 106.9 55.9 108.5 57.3 110.1 59 111.7 61.2 113.2 63.7 114.8 66.6 116.4 69.8 118 73.3 119.5 77.2 121.1 81.3 122.7 85.7 124.3 90.3 125.8 95.1 127.4 100.1 129 105.1 130.6 110.3 132.1 115.6 133.7 120.8 135.3 126.5 136.9 132.5 138.4 138.2 140 143.4 141.6 148.2 143.2 152.5 144.7 156.5 146.3 160.1 147.9 163.2 149.5 166 151 168.4 152.6 170.3 154.2 171.7 155.4 169.8 153.8 169.1 152.2 167.8 150.6 165.9 149.1 163.6 147.5 160.8 145.9 157.7 144.3 154.1 142.8 150.1 141.2 145.7 139.6 140.7 138 135.4 136.5 129.7 134.9 123.7 133.3 118.3 131.7 112.9 130.2 107.5 128.6 102.3 127 97.1 125.4 92.1 123.9 87.3 122.3 82.7 120.7 78.4 119.1 74.3 117.6 70.6 116 67.2 114.4 64.1 112.8 61.5 111.3 59.2 109.7 57.4 108.1 55.9 106.5 54.9 105 54.4 103.4 54.2 101.8 54.6 100.2 55.3 98.7 56.5 97.1 58 95.5 60 93.9 62.3 92.4 65 90.8 68.1 89.2 71.5 87.6 75.1 86.1 79 84.5 83.1 82.9 87.4 81.3 91.9 79.8 96.5 78.2 101.2 76.6 105.9 75 110.6 73.5 115.9 71.9 120.9 70.3 125.5 68.7 129.8 67.2 133.5 65.6 136.8 64 139.7 62.4 142.2 60.9 144.3 59.3 145.9 57.7 147.1 56.1 147.7 54.6 147.7z" fill="url(#a0)" stroke="url(#a0)"/></g>
<line x1="53.4" y1="149.6" x2="154.2" y2="171.7" stroke="#1a1a1a" stroke-width="0.9"/>
<line x1="154.2" y1="171.7" x2="219.1" y2="138.2" stroke="#1a1a1a" stroke-width="0.9"/>
<line x1="53.4" y1="150" x2="53.4" y2="36.7" stroke="#1a1a1a" stroke-width="0.9"/>
<line x1="53.4" y1="149.6" x2="56" y2="149.6" stroke="#1a1a1a" stroke-width="0.9"/>
<text x="47.8" y="152.3" font-size="9.3" fill="#1a1a1a" text-anchor="end" stroke="#1a1a1a" stroke-width="0.3">0</text>
<line x1="53.4" y1="133.5" x2="56" y2="133.5" stroke="#1a1a1a" stroke-width="0.9"/>
<text x="47.8" y="136.2" font-size="9.3" fill="#1a1a1a" text-anchor="end" stroke="#1a1a1a" stroke-width="0.3">20</text>
<line x1="53.4" y1="117.4" x2="56" y2="117.4" stroke="#1a1a1a" stroke-width="0.9"/>
<text x="47.8" y="120.1" font-size="9.3" fill="#1a1a1a" text-anchor="end" stroke="#1a1a1a" stroke-width="0.3">40</text>
<line x1="53.4" y1="101.3" x2="56" y2="101.3" stroke="#1a1a1a" stroke-width="0.9"/>
<text x="47.8" y="104" font-size="9.3" fill="#1a1a1a" text-anchor="end" stroke="#1a1a1a" stroke-width="0.3">60</text>
<line x1="53.4" y1="85.2" x2="56" y2="85.2" stroke="#1a1a1a" stroke-width="0.9"/>
<text x="47.8" y="87.9" font-size="9.3" fill="#1a1a1a" text-anchor="end" stroke="#1a1a1a" stroke-width="0.3">80</text>
<line x1="53.4" y1="69.1" x2="56" y2="69.1" stroke="#1a1a1a" stroke-width="0.9"/>
<text x="47.8" y="71.8" font-size="9.3" fill="#1a1a1a" text-anchor="end" stroke="#1a1a1a" stroke-width="0.3">100</text>
<line x1="53.4" y1="53" x2="56" y2="53" stroke="#1a1a1a" stroke-width="0.9"/>
<text x="47.8" y="55.7" font-size="9.3" fill="#1a1a1a" text-anchor="end" stroke="#1a1a1a" stroke-width="0.3">120</text>
<line x1="53.4" y1="36.9" x2="56" y2="36.9" stroke="#1a1a1a" stroke-width="0.9"/>
<text x="47.8" y="39.6" font-size="9.3" fill="#1a1a1a" text-anchor="end" stroke="#1a1a1a" stroke-width="0.3">140</text>
<text x="23.3" y="96.5" font-size="10.2" fill="#1a1a1a" transform="rotate(-90 23.3 96.5)" text-anchor="middle" stroke="#1a1a1a" stroke-width="0.3">Energy (meV)</text>
<text x="155" y="183.4" font-size="10.2" fill="#1a1a1a" text-anchor="middle" stroke="#1a1a1a" stroke-width="0.3">M</text>
<text x="227.3" y="139.8" font-size="10.2" fill="#1a1a1a" text-anchor="middle" stroke="#1a1a1a" stroke-width="0.3">M</text>
<text x="198.5" y="162.2" font-size="10.2" fill="#1a1a1a" text-anchor="middle" stroke="#1a1a1a" stroke-width="0.3">X</text>
<text x="250.2" y="10.8" font-size="13.5" fill="#111" font-weight="bold">b</text>
<use href="#bq" transform="translate(324.2 94.4) scale(1 1)"/>
<use href="#bq" transform="translate(324.2 94.4) scale(-1 1)"/>
<use href="#bq" transform="translate(324.2 94.4) scale(1 -1)"/>
<use href="#bq" transform="translate(324.2 94.4) scale(-1 -1)"/>
<rect x="247.3" y="17.9" width="153.9" height="153" fill="none" stroke="#1a1a1a" stroke-width="0.9"/>
<g clip-path="url(#cb)" fill="none" stroke="#fff" stroke-width="2.1" stroke-dasharray="5.4 3"><circle cx="324.2" cy="94.4" r="31.3"/><circle cx="247.3" cy="17.9" r="30.6"/><circle cx="247.3" cy="170.9" r="30.6"/><circle cx="401.2" cy="17.9" r="30.6"/><circle cx="401.2" cy="170.9" r="30.6"/></g>
<text x="324.1" y="97.8" font-size="10" fill="#111" font-family='"Liberation Serif", "Times New Roman", serif' text-anchor="middle" stroke="#111" stroke-width="0.3">Γ</text>
<text x="249.9" y="183.8" font-size="10" fill="#1a1a1a" text-anchor="middle" stroke="#1a1a1a" stroke-width="0.3">M</text>
<text x="325.8" y="183.8" font-size="10" fill="#1a1a1a" text-anchor="middle" stroke="#1a1a1a" stroke-width="0.3">X</text>
<text x="401.8" y="183.8" font-size="10" fill="#1a1a1a" text-anchor="middle" stroke="#1a1a1a" stroke-width="0.3">M</text>
<rect x="408.9" y="38.2" width="16.8" height="116.5" fill="url(#gE)"/>
<text x="430" y="156.7" font-size="9.3" fill="#1a1a1a" stroke="#1a1a1a" stroke-width="0.3">0</text>
<line x1="408.9" y1="138.1" x2="411.5" y2="138.1" stroke="#1a1a1a" stroke-width="0.8"/>
<line x1="423.1" y1="138.1" x2="425.7" y2="138.1" stroke="#1a1a1a" stroke-width="0.8"/>
<text x="430" y="140.1" font-size="9.3" fill="#1a1a1a" stroke="#1a1a1a" stroke-width="0.3">20</text>
<line x1="408.9" y1="121.4" x2="411.5" y2="121.4" stroke="#1a1a1a" stroke-width="0.8"/>
<line x1="423.1" y1="121.4" x2="425.7" y2="121.4" stroke="#1a1a1a" stroke-width="0.8"/>
<text x="430" y="123.4" font-size="9.3" fill="#1a1a1a" stroke="#1a1a1a" stroke-width="0.3">40</text>
<line x1="408.9" y1="104.8" x2="411.5" y2="104.8" stroke="#1a1a1a" stroke-width="0.8"/>
<line x1="423.1" y1="104.8" x2="425.7" y2="104.8" stroke="#1a1a1a" stroke-width="0.8"/>
<text x="430" y="106.8" font-size="9.3" fill="#1a1a1a" stroke="#1a1a1a" stroke-width="0.3">60</text>
<line x1="408.9" y1="88.1" x2="411.5" y2="88.1" stroke="#1a1a1a" stroke-width="0.8"/>
<line x1="423.1" y1="88.1" x2="425.7" y2="88.1" stroke="#1a1a1a" stroke-width="0.8"/>
<text x="430" y="90.1" font-size="9.3" fill="#1a1a1a" stroke="#1a1a1a" stroke-width="0.3">80</text>
<line x1="408.9" y1="71.5" x2="411.5" y2="71.5" stroke="#1a1a1a" stroke-width="0.8"/>
<line x1="423.1" y1="71.5" x2="425.7" y2="71.5" stroke="#1a1a1a" stroke-width="0.8"/>
<text x="430" y="73.5" font-size="9.3" fill="#1a1a1a" stroke="#1a1a1a" stroke-width="0.3">100</text>
<line x1="408.9" y1="54.8" x2="411.5" y2="54.8" stroke="#1a1a1a" stroke-width="0.8"/>
<line x1="423.1" y1="54.8" x2="425.7" y2="54.8" stroke="#1a1a1a" stroke-width="0.8"/>
<text x="430" y="56.8" font-size="9.3" fill="#1a1a1a" stroke="#1a1a1a" stroke-width="0.3">120</text>
<text x="430" y="40.2" font-size="9.3" fill="#1a1a1a" stroke="#1a1a1a" stroke-width="0.3">140</text>
<rect x="408.9" y="38.2" width="16.8" height="116.5" fill="none" stroke="#1a1a1a" stroke-width="0.7"/>
<text x="460.8" y="95" font-size="10.2" fill="#1a1a1a" transform="rotate(-90 460.8 95)" text-anchor="middle" stroke="#1a1a1a" stroke-width="0.3">Energy (meV)</text>
<text x="481.6" y="10.8" font-size="13.5" fill="#111" font-weight="bold">c</text>
<path d="M526.6 162 528.8 160.4 530.9 159.3 531.2 159.1 531.4 143.8 531.6 159.1 534.2 158.2 537.5 157.4 538 155.4 538.4 157.4 541.9 156.9 546.3 156.5 546.7 155.6 547.2 156.5 550.7 155.6 555 154.7 555.5 153.9 555.9 154.7 559.4 153.6 563.8 152.6 564.2 151.7 564.9 152.6 567.7 150.8 570.4 149.3 570.8 147.7 571.5 148.6 573.2 146.4 574.7 144.9 575.8 142.9 577.4 139.4 578.7 134.6 579.8 128.5 580.7 121.9 581.2 108.8 581.5 40.9 581.9 108.8 582.4 124.1 583.1 139.4 583.7 144.4 584.6 147.1 585.7 149 586.8 150.4 589.2 152.1 592.3 153.6 597.7 155.2 603.2 156.5 610.9 157.6 618.5 158.5 626.2 159.3 633.9 160 640.4 160.7 647 161.1 652.5 161.6 656.2 162Z" fill="#faf573" stroke="none"/>
<path d="M526.6 162 528.8 160.4 530.9 159.3 531.2 159.1 531.4 143.8 531.6 159.1 534.2 158.2 537.5 157.4 538 155.4 538.4 157.4 541.9 156.9 546.3 156.5 546.7 155.6 547.2 156.5 550.7 155.6 555 154.7 555.5 153.9 555.9 154.7 559.4 153.6 563.8 152.6 564.2 151.7 564.9 152.6 567.7 150.8 570.4 149.3 570.8 147.7 571.5 148.6 573.2 146.4 574.7 144.9 575.8 142.9 577.4 139.4 578.7 134.6 579.8 128.5 580.7 121.9 581.2 108.8 581.5 40.9 581.9 108.8 582.4 124.1 583.1 139.4 583.7 144.4 584.6 147.1 585.7 149 586.8 150.4 589.2 152.1 592.3 153.6 597.7 155.2 603.2 156.5 610.9 157.6 618.5 158.5 626.2 159.3 633.9 160 640.4 160.7 647 161.1 652.5 161.6 656.2 162" fill="none" stroke="#1a1a1a" stroke-width="1" stroke-linejoin="round"/>
<rect x="526.5" y="24" width="138.6" height="137.7" fill="none" stroke="#1a1a1a" stroke-width="0.9"/>
<text x="526.5" y="177.6" font-size="9.3" fill="#1a1a1a" text-anchor="middle" stroke="#1a1a1a" stroke-width="0.3">0</text>
<line x1="546.3" y1="161.7" x2="546.3" y2="158.9" stroke="#1a1a1a" stroke-width="0.8"/>
<line x1="546.3" y1="24" x2="546.3" y2="26.8" stroke="#1a1a1a" stroke-width="0.8"/>
<text x="546.3" y="177.6" font-size="9.3" fill="#1a1a1a" text-anchor="middle" stroke="#1a1a1a" stroke-width="0.3">20</text>
<line x1="566.1" y1="161.7" x2="566.1" y2="158.9" stroke="#1a1a1a" stroke-width="0.8"/>
<line x1="566.1" y1="24" x2="566.1" y2="26.8" stroke="#1a1a1a" stroke-width="0.8"/>
<text x="566.1" y="177.6" font-size="9.3" fill="#1a1a1a" text-anchor="middle" stroke="#1a1a1a" stroke-width="0.3">40</text>
<line x1="585.9" y1="161.7" x2="585.9" y2="158.9" stroke="#1a1a1a" stroke-width="0.8"/>
<line x1="585.9" y1="24" x2="585.9" y2="26.8" stroke="#1a1a1a" stroke-width="0.8"/>
<text x="585.9" y="177.6" font-size="9.3" fill="#1a1a1a" text-anchor="middle" stroke="#1a1a1a" stroke-width="0.3">60</text>
<line x1="605.7" y1="161.7" x2="605.7" y2="158.9" stroke="#1a1a1a" stroke-width="0.8"/>
<line x1="605.7" y1="24" x2="605.7" y2="26.8" stroke="#1a1a1a" stroke-width="0.8"/>
<text x="605.7" y="177.6" font-size="9.3" fill="#1a1a1a" text-anchor="middle" stroke="#1a1a1a" stroke-width="0.3">80</text>
<line x1="625.5" y1="161.7" x2="625.5" y2="158.9" stroke="#1a1a1a" stroke-width="0.8"/>
<line x1="625.5" y1="24" x2="625.5" y2="26.8" stroke="#1a1a1a" stroke-width="0.8"/>
<text x="625.5" y="177.6" font-size="9.3" fill="#1a1a1a" text-anchor="middle" stroke="#1a1a1a" stroke-width="0.3">100</text>
<line x1="645.3" y1="161.7" x2="645.3" y2="158.9" stroke="#1a1a1a" stroke-width="0.8"/>
<line x1="645.3" y1="24" x2="645.3" y2="26.8" stroke="#1a1a1a" stroke-width="0.8"/>
<text x="645.3" y="177.6" font-size="9.3" fill="#1a1a1a" text-anchor="middle" stroke="#1a1a1a" stroke-width="0.3">120</text>
<text x="665.1" y="177.6" font-size="9.3" fill="#1a1a1a" text-anchor="middle" stroke="#1a1a1a" stroke-width="0.3">140</text>
<text x="521.3" y="163.6" font-size="9.4" fill="#1a1a1a" text-anchor="end" stroke="#1a1a1a" stroke-width="0.3">0</text>
<line x1="526.5" y1="115.8" x2="529.3" y2="115.8" stroke="#1a1a1a" stroke-width="0.8"/>
<line x1="662.3" y1="115.8" x2="665.1" y2="115.8" stroke="#1a1a1a" stroke-width="0.8"/>
<text x="521.3" y="117.7" font-size="9.4" fill="#1a1a1a" text-anchor="end" stroke="#1a1a1a" stroke-width="0.3">0.05</text>
<line x1="526.5" y1="69.9" x2="529.3" y2="69.9" stroke="#1a1a1a" stroke-width="0.8"/>
<line x1="662.3" y1="69.9" x2="665.1" y2="69.9" stroke="#1a1a1a" stroke-width="0.8"/>
<text x="521.3" y="71.8" font-size="9.4" fill="#1a1a1a" text-anchor="end" stroke="#1a1a1a" stroke-width="0.3">0.1</text>
<text x="521.3" y="25.9" font-size="9.4" fill="#1a1a1a" text-anchor="end" stroke="#1a1a1a" stroke-width="0.3">0.15</text>
<text x="595.8" y="193.3" font-size="10.2" fill="#1a1a1a" text-anchor="middle" stroke="#1a1a1a" stroke-width="0.3">Energy (meV)</text>
<text x="0" y="0" font-size="10.2" fill="#1a1a1a" text-anchor="middle" transform="translate(492.3 93) rotate(-90)">DOS (meV<tspan font-size="6.5" dy="-3.6">−1</tspan><tspan dy="3.6">)</tspan></text>
<text x="0.3" y="220.7" font-size="13.5" fill="#111" font-weight="bold">d</text>
<rect x="47.6" y="233.3" width="228.5" height="141.4" fill="#04049c"/>
<g clip-path="url(#cd)" fill="none" stroke-linecap="butt" stroke-linejoin="round">
<path d="M45.5 279.9C47.3 279.9 52.8 279.6 56.5 279.9C60.1 280.3 63.8 280.6 67.5 281.9C71.1 283.2 74.8 285.1 78.5 287.6C82.1 290.2 85.8 294.1 89.5 297C93.1 299.8 96.8 302.9 100.4 304.7C104.1 306.5 108.9 307.1 111.4 307.7C113.9 308.2 113.7 308 115.5 308C117.4 307.9 119.4 308.1 122.4 307.4C125.4 306.8 130.2 305.5 133.4 304.1C136.7 302.7 139.6 300.3 142 299.1C144.3 297.9 144.2 297.9 147.4 297.2C150.6 296.5 156.8 295.2 161.2 295C165.5 294.8 170.1 295.4 173.5 295.8C176.9 296.2 178.5 297.3 181.5 297.5C184.4 297.6 187.9 296.7 191.4 296.9C194.8 297.1 199.1 298.2 202.3 298.8C205.5 299.4 206.9 300.5 210.6 300.5C214.2 300.4 220.4 299.6 224.3 298.6C228.2 297.5 230.7 295.7 233.9 294.2C237.1 292.7 240.3 291 243.5 289.5C246.7 287.9 249.9 286.2 253.1 284.8C256.3 283.5 259.7 282.1 262.7 281.3C265.7 280.4 268 279.9 270.9 279.6C273.9 279.3 278.9 279.4 280.5 279.3" stroke="#fdf901" stroke-width="4.0" filter="url(#bl1)"/>
<path d="M45.5 279.9C47.3 279.9 52.8 279.6 56.5 279.9C60.1 280.3 63.8 280.6 67.5 281.9C71.1 283.2 74.8 285.1 78.5 287.6C82.1 290.2 85.8 294.1 89.5 297C93.1 299.8 96.8 302.9 100.4 304.7C104.1 306.5 108.9 307.1 111.4 307.7C113.9 308.2 113.7 308 115.5 308C117.4 307.9 119.4 308.1 122.4 307.4C125.4 306.8 130.2 305.5 133.4 304.1C136.7 302.7 139.6 300.3 142 299.1C144.3 297.9 144.2 297.9 147.4 297.2C150.6 296.5 156.8 295.2 161.2 295C165.5 294.8 170.1 295.4 173.5 295.8C176.9 296.2 178.5 297.3 181.5 297.5C184.4 297.6 187.9 296.7 191.4 296.9C194.8 297.1 199.1 298.2 202.3 298.8C205.5 299.4 206.9 300.5 210.6 300.5C214.2 300.4 220.4 299.6 224.3 298.6C228.2 297.5 230.7 295.7 233.9 294.2C237.1 292.7 240.3 291 243.5 289.5C246.7 287.9 249.9 286.2 253.1 284.8C256.3 283.5 259.7 282.1 262.7 281.3C265.7 280.4 268 279.9 270.9 279.6C273.9 279.3 278.9 279.4 280.5 279.3" stroke="#da9411" stroke-width="2.6" filter="url(#bl1)"/>
<path d="M173.8 295.8C174.4 296 176.4 296.6 177.6 296.9C178.9 297.2 180.2 297.5 181.5 297.5C182.8 297.5 184.1 297.2 185.3 296.9C186.5 296.6 188.1 296 188.6 295.8" stroke="#d41313" stroke-width="3.0" filter="url(#bl1)"/>
<path d="M142 230.5C143.1 233.2 146.5 241.6 148.8 247C151.1 252.4 153.4 257.8 155.7 262.9C158 267.9 160.3 272.7 162.5 277.1C164.8 281.6 167.4 286.7 169.4 289.8C171.4 292.8 173.5 294.6 174.3 295.5" stroke="#fdf901" stroke-width="1.8" filter="url(#bl1)"/>
<path d="M142 230.5C143.1 233.2 146.5 241.6 148.8 247C151.1 252.4 153.4 257.8 155.7 262.9C158 267.9 160.3 272.7 162.5 277.1C164.8 281.6 167.4 286.7 169.4 289.8C171.4 292.8 173.5 294.6 174.3 295.5" stroke="#e7ba0b" stroke-width="1.2" filter="url(#bl1)"/>
<path d="M188.6 295.5C189.4 294.6 191.6 292.8 193.6 289.8C195.5 286.7 198 281.8 200.1 277.1C202.3 272.5 204.5 267.1 206.4 262C208.4 257 210.3 252.2 211.9 247C213.5 241.7 215.4 233.2 216.1 230.5" stroke="#fdf901" stroke-width="1.8" filter="url(#bl1)"/>
<path d="M188.6 295.5C189.4 294.6 191.6 292.8 193.6 289.8C195.5 286.7 198 281.8 200.1 277.1C202.3 272.5 204.5 267.1 206.4 262C208.4 257 210.3 252.2 211.9 247C213.5 241.7 215.4 233.2 216.1 230.5" stroke="#e7ba0b" stroke-width="1.2" filter="url(#bl1)"/>
<path d="M153.5 230.5C154.3 232.1 156.7 237 158.4 240.1C160.2 243.2 162.1 246.5 163.9 249.2C165.7 251.8 167.6 254.2 169.4 256C171.2 257.8 172.9 259 174.9 259.9C176.9 260.7 179.3 261.2 181.5 261.2C183.7 261.2 186 260.7 188.1 259.9C190.1 259 191.7 257.8 193.6 256C195.4 254.2 197.3 251.8 199 249.2C200.8 246.5 202.3 243.2 204 240.1C205.6 237 208.1 232.1 208.9 230.5" stroke="#fdf901" stroke-width="3.0" filter="url(#bl1)"/>
<path d="M153.5 230.5C154.3 232.1 156.7 237 158.4 240.1C160.2 243.2 162.1 246.5 163.9 249.2C165.7 251.8 167.6 254.2 169.4 256C171.2 257.8 172.9 259 174.9 259.9C176.9 260.7 179.3 261.2 181.5 261.2C183.7 261.2 186 260.7 188.1 259.9C190.1 259 191.7 257.8 193.6 256C195.4 254.2 197.3 251.8 199 249.2C200.8 246.5 202.3 243.2 204 240.1C205.6 237 208.1 232.1 208.9 230.5" stroke="#dc9a10" stroke-width="2" filter="url(#bl1)"/>
<path d="M45.5 313.2C46.2 313.3 48.2 313.2 49.6 313.7C51 314.3 52.4 314.2 53.7 316.5C55.1 318.8 56.5 323.6 57.8 327.5C59.2 331.4 60.6 335.7 62 339.8C63.3 343.9 64.7 348.5 66.1 352.2C67.5 355.8 68.8 359 70.2 361.8C71.6 364.5 72.7 366.5 74.3 368.6C75.9 370.8 78.4 373.3 79.8 374.8C81.2 376.3 82.1 377.1 82.6 377.6" stroke="#fdf901" stroke-width="1.8" filter="url(#bl1)"/>
<path d="M45.5 313.2C46.2 313.3 48.2 313.2 49.6 313.7C51 314.3 52.4 314.2 53.7 316.5C55.1 318.8 56.5 323.6 57.8 327.5C59.2 331.4 60.6 335.7 62 339.8C63.3 343.9 64.7 348.5 66.1 352.2C67.5 355.8 68.8 359 70.2 361.8C71.6 364.5 72.7 366.5 74.3 368.6C75.9 370.8 78.4 373.3 79.8 374.8C81.2 376.3 82.1 377.1 82.6 377.6" stroke="#e7ba0b" stroke-width="1.2" filter="url(#bl1)"/>
<path d="M45.5 313.2C46.2 313.2 48.2 313.1 49.6 313.5C51 313.8 51.9 313.9 53.7 315.1C55.6 316.3 58.5 318.1 60.6 320.6C62.7 323.1 64.3 326.8 66.1 330.2C67.9 333.6 69.7 337.3 71.6 341.2C73.4 345.1 75.2 349.4 77.1 353.5C78.9 357.7 80.8 362.4 82.6 365.9C84.3 369.5 86.3 372.9 87.4 374.8C88.4 376.8 88.5 377.1 88.7 377.6" stroke="#fdf901" stroke-width="2.2" filter="url(#bl1)"/>
<path d="M45.5 313.2C46.2 313.2 48.2 313.1 49.6 313.5C51 313.8 51.9 313.9 53.7 315.1C55.6 316.3 58.5 318.1 60.6 320.6C62.7 323.1 64.3 326.8 66.1 330.2C67.9 333.6 69.7 337.3 71.6 341.2C73.4 345.1 75.2 349.4 77.1 353.5C78.9 357.7 80.8 362.4 82.6 365.9C84.3 369.5 86.3 372.9 87.4 374.8C88.4 376.8 88.5 377.1 88.7 377.6" stroke="#e7ba0b" stroke-width="1.5" filter="url(#bl1)"/>
<path d="M45.5 313C45.9 313.1 47.3 313.1 48.2 313.2C49.2 313.3 50.2 313.5 51 313.7C51.8 314 52.7 314.6 53 314.8" stroke="#d41313" stroke-width="3.0" filter="url(#bl1)"/>
<path d="M277.7 312.6C277.3 312.7 276.8 312.4 275.6 313C274.5 313.6 272.5 314.7 270.8 316.2C269.1 317.7 266.9 319.9 265.3 322C263.7 324.1 262.6 325.9 261.2 328.8C259.8 331.8 258.4 336.2 257.1 339.8C255.7 343.5 254.3 347.1 253 350.8C251.6 354.5 250.2 358.4 248.8 361.8C247.5 365.2 245.7 369.2 244.7 371.4C243.7 373.6 243.2 373.8 242.7 374.8C242.1 375.9 241.5 377.1 241.3 377.6" stroke="#fdf901" stroke-width="1.8" filter="url(#bl1)"/>
<path d="M277.7 312.6C277.3 312.7 276.8 312.4 275.6 313C274.5 313.6 272.5 314.7 270.8 316.2C269.1 317.7 266.9 319.9 265.3 322C263.7 324.1 262.6 325.9 261.2 328.8C259.8 331.8 258.4 336.2 257.1 339.8C255.7 343.5 254.3 347.1 253 350.8C251.6 354.5 250.2 358.4 248.8 361.8C247.5 365.2 245.7 369.2 244.7 371.4C243.7 373.6 243.2 373.8 242.7 374.8C242.1 375.9 241.5 377.1 241.3 377.6" stroke="#e7ba0b" stroke-width="1.2" filter="url(#bl1)"/>
<path d="M277.7 312.6C277.3 312.7 276.7 312.4 275.6 313C274.5 313.7 272.6 314.9 271.1 316.5C269.6 318.1 268.1 320.4 266.7 322.7C265.3 324.9 263.8 327.3 262.6 330.2C261.3 333.1 260.4 336.4 259.1 339.8C257.9 343.2 256.3 347.1 255 350.8C253.8 354.5 252.7 358.4 251.6 361.8C250.4 365.2 248.9 369.2 248.1 371.4C247.3 373.6 247.2 373.8 246.8 374.8C246.4 375.9 246 377.1 245.8 377.6" stroke="#fdf901" stroke-width="1.8" filter="url(#bl1)"/>
<path d="M277.7 312.6C277.3 312.7 276.7 312.4 275.6 313C274.5 313.7 272.6 314.9 271.1 316.5C269.6 318.1 268.1 320.4 266.7 322.7C265.3 324.9 263.8 327.3 262.6 330.2C261.3 333.1 260.4 336.4 259.1 339.8C257.9 343.2 256.3 347.1 255 350.8C253.8 354.5 252.7 358.4 251.6 361.8C250.4 365.2 248.9 369.2 248.1 371.4C247.3 373.6 247.2 373.8 246.8 374.8C246.4 375.9 246 377.1 245.8 377.6" stroke="#e7ba0b" stroke-width="1.2" filter="url(#bl1)"/>
<path d="M277.7 312.4C277.3 312.5 276.5 312.6 275.6 313C274.7 313.5 273.3 314.2 272.2 315.1C271 316 269.8 317.4 268.7 318.5C267.7 319.7 266.5 321.4 266 322" stroke="#ca1818" stroke-width="3.0" filter="url(#bl1)"/>
<path d="M45.5 368.4C45.8 368.4 46.4 368.4 47.6 368.6C48.7 368.9 50.6 369.3 52.4 370C54.1 370.7 56.5 372 57.8 372.8C59.2 373.6 59.9 374.1 60.6 374.8C61.3 375.5 61.7 376.5 62 376.9" stroke="#fdf901" stroke-width="3.2" filter="url(#bl1)"/>
<path d="M45.5 368.4C45.8 368.4 46.4 368.4 47.6 368.6C48.7 368.9 50.6 369.3 52.4 370C54.1 370.7 56.5 372 57.8 372.8C59.2 373.6 59.9 374.1 60.6 374.8C61.3 375.5 61.7 376.5 62 376.9" stroke="#dc9a10" stroke-width="2.1" filter="url(#bl1)"/>
<path d="M277.7 369.3C277.2 369.4 276.1 369.3 274.9 369.6C273.8 369.9 272.2 370.5 270.8 371.1C269.4 371.8 267.7 372.8 266.7 373.5C265.7 374.1 265.2 374.7 264.6 375.2C264.1 375.8 263.5 376.6 263.2 376.9" stroke="#fdf901" stroke-width="3.2" filter="url(#bl1)"/>
<path d="M277.7 369.3C277.2 369.4 276.1 369.3 274.9 369.6C273.8 369.9 272.2 370.5 270.8 371.1C269.4 371.8 267.7 372.8 266.7 373.5C265.7 374.1 265.2 374.7 264.6 375.2C264.1 375.8 263.5 376.6 263.2 376.9" stroke="#dc9a10" stroke-width="2.1" filter="url(#bl1)"/>
<path d="M114.5 233.3V374.7 M181.5 233.3V374.7 M47.6 280.4H276.1" stroke="#ccccff" stroke-width="0.9" opacity="0.8"/>
</g>
<line x1="47.6" y1="233" x2="47.6" y2="375" stroke="#000" stroke-width="0.6"/>
<line x1="276.1" y1="233" x2="276.1" y2="375" stroke="#000" stroke-width="0.6"/>
<line x1="43.4" y1="233.3" x2="47.6" y2="233.3" stroke="#1a1a1a" stroke-width="0.9"/>
<line x1="276.1" y1="233.3" x2="279.7" y2="233.3" stroke="#1a1a1a" stroke-width="0.9"/>
<text x="0" y="0" font-size="9.2" fill="#1a1a1a" transform="translate(38.3 235.7) scale(1.13 1)" text-anchor="end" stroke="#1a1a1a" stroke-width="0.3">0.4</text>
<line x1="43.4" y1="256.9" x2="47.6" y2="256.9" stroke="#1a1a1a" stroke-width="0.9"/>
<line x1="276.1" y1="256.9" x2="279.7" y2="256.9" stroke="#1a1a1a" stroke-width="0.9"/>
<text x="0" y="0" font-size="9.2" fill="#1a1a1a" transform="translate(38.3 259.3) scale(1.13 1)" text-anchor="end" stroke="#1a1a1a" stroke-width="0.3">0.2</text>
<line x1="43.4" y1="280.4" x2="47.6" y2="280.4" stroke="#1a1a1a" stroke-width="0.9"/>
<line x1="276.1" y1="280.4" x2="279.7" y2="280.4" stroke="#1a1a1a" stroke-width="0.9"/>
<text x="0" y="0" font-size="9.2" fill="#1a1a1a" transform="translate(38.3 282.8) scale(1.13 1)" text-anchor="end" stroke="#1a1a1a" stroke-width="0.3">0</text>
<line x1="43.4" y1="304" x2="47.6" y2="304" stroke="#1a1a1a" stroke-width="0.9"/>
<line x1="276.1" y1="304" x2="279.7" y2="304" stroke="#1a1a1a" stroke-width="0.9"/>
<text x="0" y="0" font-size="9.2" fill="#1a1a1a" transform="translate(38.3 306.4) scale(1.13 1)" text-anchor="end" stroke="#1a1a1a" stroke-width="0.3">−0.2</text>
<line x1="43.4" y1="327.6" x2="47.6" y2="327.6" stroke="#1a1a1a" stroke-width="0.9"/>
<line x1="276.1" y1="327.6" x2="279.7" y2="327.6" stroke="#1a1a1a" stroke-width="0.9"/>
<text x="0" y="0" font-size="9.2" fill="#1a1a1a" transform="translate(38.3 330) scale(1.13 1)" text-anchor="end" stroke="#1a1a1a" stroke-width="0.3">−0.4</text>
<line x1="43.4" y1="351.1" x2="47.6" y2="351.1" stroke="#1a1a1a" stroke-width="0.9"/>
<line x1="276.1" y1="351.1" x2="279.7" y2="351.1" stroke="#1a1a1a" stroke-width="0.9"/>
<text x="0" y="0" font-size="9.2" fill="#1a1a1a" transform="translate(38.3 353.5) scale(1.13 1)" text-anchor="end" stroke="#1a1a1a" stroke-width="0.3">−0.6</text>
<line x1="43.4" y1="374.7" x2="47.6" y2="374.7" stroke="#1a1a1a" stroke-width="0.9"/>
<line x1="276.1" y1="374.7" x2="279.7" y2="374.7" stroke="#1a1a1a" stroke-width="0.9"/>
<text x="0" y="0" font-size="9.2" fill="#1a1a1a" transform="translate(38.3 377.1) scale(1.13 1)" text-anchor="end" stroke="#1a1a1a" stroke-width="0.3">−0.8</text>
<text x="0" y="0" font-size="9.0" fill="#1a1a1a" transform="translate(7.3 303.7) rotate(-90) scale(1.13 1)" text-anchor="middle" stroke="#1a1a1a" stroke-width="0.3">Energy (eV)</text>
<text x="48.2" y="387.6" font-size="10" fill="#1a1a1a" font-family='"Liberation Serif", "Times New Roman", serif' text-anchor="middle" stroke="#1a1a1a" stroke-width="0.3">Γ</text>
<text x="115.3" y="388" font-size="9.8" fill="#1a1a1a" text-anchor="middle" stroke="#1a1a1a" stroke-width="0.3">X</text>
<text x="182.3" y="388" font-size="9.8" fill="#1a1a1a" text-anchor="middle" stroke="#1a1a1a" stroke-width="0.3">M</text>
<text x="276.7" y="387.6" font-size="10" fill="#1a1a1a" font-family='"Liberation Serif", "Times New Roman", serif' text-anchor="middle" stroke="#1a1a1a" stroke-width="0.3">Γ</text>
<rect x="286.2" y="233.3" width="11.4" height="141.4" fill="url(#gS)"/>
<text x="0" y="0" font-size="9.2" fill="#1a1a1a" transform="translate(302.4 377.3) scale(1.13 1)" stroke="#1a1a1a" stroke-width="0.3">0</text>
<line x1="286.2" y1="346.4" x2="289.8" y2="346.4" stroke="#1a1a1a" stroke-width="0.9"/>
<line x1="294" y1="346.4" x2="297.6" y2="346.4" stroke="#1a1a1a" stroke-width="0.9"/>
<text x="0" y="0" font-size="9.2" fill="#1a1a1a" transform="translate(302.4 349) scale(1.13 1)" stroke="#1a1a1a" stroke-width="0.3">0.2</text>
<line x1="286.2" y1="318.1" x2="289.8" y2="318.1" stroke="#1a1a1a" stroke-width="0.9"/>
<line x1="294" y1="318.1" x2="297.6" y2="318.1" stroke="#1a1a1a" stroke-width="0.9"/>
<text x="0" y="0" font-size="9.2" fill="#1a1a1a" transform="translate(302.4 320.7) scale(1.13 1)" stroke="#1a1a1a" stroke-width="0.3">0.4</text>
<line x1="286.2" y1="289.9" x2="289.8" y2="289.9" stroke="#1a1a1a" stroke-width="0.9"/>
<line x1="294" y1="289.9" x2="297.6" y2="289.9" stroke="#1a1a1a" stroke-width="0.9"/>
<text x="0" y="0" font-size="9.2" fill="#1a1a1a" transform="translate(302.4 292.5) scale(1.13 1)" stroke="#1a1a1a" stroke-width="0.3">0.6</text>
<line x1="286.2" y1="261.6" x2="289.8" y2="261.6" stroke="#1a1a1a" stroke-width="0.9"/>
<line x1="294" y1="261.6" x2="297.6" y2="261.6" stroke="#1a1a1a" stroke-width="0.9"/>
<text x="0" y="0" font-size="9.2" fill="#1a1a1a" transform="translate(302.4 264.2) scale(1.13 1)" stroke="#1a1a1a" stroke-width="0.3">0.8</text>
<text x="0" y="0" font-size="9.2" fill="#1a1a1a" transform="translate(302.4 235.9) scale(1.13 1)" stroke="#1a1a1a" stroke-width="0.3">1</text>
<rect x="286.2" y="233.3" width="11.4" height="141.4" fill="none" stroke="#1a1a1a" stroke-width="0.8"/>
<text x="0" y="0" font-size="9.0" fill="#1a1a1a" transform="translate(331.8 303.5) rotate(-90) scale(1.13 1)" text-anchor="middle" stroke="#1a1a1a" stroke-width="0.3">Spectral weight</text>
<text x="351" y="220.4" font-size="13.5" fill="#111" font-weight="bold">f</text>
<rect x="396.5" y="233.3" width="228.7" height="141.4" fill="#04049c"/>
<g clip-path="url(#cf)" fill="none" stroke-linecap="butt" stroke-linejoin="round">
<path d="M393.2 268.4C393.8 268.2 394.2 268.6 396.5 267.5C398.8 266.5 403.4 264 407 262C410.5 260.1 414.7 258.2 417.9 255.7C421.1 253.3 423.7 250.3 426.2 247.5C428.7 244.7 431.1 241.3 433 238.7C434.9 236.1 436.9 233 437.7 231.9" stroke="#fdf901" stroke-width="3.5" filter="url(#bl1)"/>
<path d="M393.2 268.4C393.8 268.2 394.2 268.6 396.5 267.5C398.8 266.5 403.4 264 407 262C410.5 260.1 414.7 258.2 417.9 255.7C421.1 253.3 423.7 250.3 426.2 247.5C428.7 244.7 431.1 241.3 433 238.7C434.9 236.1 436.9 233 437.7 231.9" stroke="#d17a14" stroke-width="2.3" filter="url(#bl1)"/>
<path d="M393.2 271.7C393.8 272 394.7 271.8 396.5 273.9C398.4 275.9 401.6 280.7 404.2 284C406.9 287.3 409.2 290.7 412.4 293.6C415.6 296.5 419.8 298.6 423.4 301.3C427.1 304 430.7 306.8 434.4 310.1C438.1 313.4 441.7 317.4 445.4 321.1C449 324.7 453.3 329.3 456.4 332C459.4 334.8 462.5 336.6 463.8 337.5" stroke="#fdf901" stroke-width="3.5" filter="url(#bl1)"/>
<path d="M393.2 271.7C393.8 272 394.7 271.8 396.5 273.9C398.4 275.9 401.6 280.7 404.2 284C406.9 287.3 409.2 290.7 412.4 293.6C415.6 296.5 419.8 298.6 423.4 301.3C427.1 304 430.7 306.8 434.4 310.1C438.1 313.4 441.7 317.4 445.4 321.1C449 324.7 453.3 329.3 456.4 332C459.4 334.8 462.5 336.6 463.8 337.5" stroke="#d17a14" stroke-width="2.3" filter="url(#bl1)"/>
<path d="M463.8 337.5C465.3 338.7 469.5 342.3 472.8 344.4C476.2 346.4 480.1 348.5 483.8 349.9C487.5 351.2 490.7 351.9 494.8 352.6C498.9 353.3 503.9 353.6 508.5 354C513.1 354.4 518.6 354.6 522.2 354.8C525.9 355 527.7 355.3 530.5 355.4C533.2 355.5 537.3 355.4 538.7 355.4" stroke="#fdf901" stroke-width="2.8" filter="url(#bl1)"/>
<path d="M463.8 337.5C465.3 338.7 469.5 342.3 472.8 344.4C476.2 346.4 480.1 348.5 483.8 349.9C487.5 351.2 490.7 351.9 494.8 352.6C498.9 353.3 503.9 353.6 508.5 354C513.1 354.4 518.6 354.6 522.2 354.8C525.9 355 527.7 355.3 530.5 355.4C533.2 355.5 537.3 355.4 538.7 355.4" stroke="#f0d307" stroke-width="1.8" filter="url(#bl1)"/>
<path d="M393.2 354C393.8 354 393.3 354.1 396.5 354C399.7 353.9 407.5 353.8 412.4 353.4C417.4 353.1 421.6 352.5 426.2 351.8C430.7 351.1 435.8 350.5 439.9 349.3C444 348.2 446.9 346.9 450.9 344.9C454.8 343 461.6 338.8 463.8 337.5" stroke="#fdf901" stroke-width="3.5" filter="url(#bl1)"/>
<path d="M393.2 354C393.8 354 393.3 354.1 396.5 354C399.7 353.9 407.5 353.8 412.4 353.4C417.4 353.1 421.6 352.5 426.2 351.8C430.7 351.1 435.8 350.5 439.9 349.3C444 348.2 446.9 346.9 450.9 344.9C454.8 343 461.6 338.8 463.8 337.5" stroke="#d17a14" stroke-width="2.3" filter="url(#bl1)"/>
<path d="M463.4 338.4C464.4 337.1 467.3 333.2 469.3 330.7C471.3 328.1 473.1 325.8 475.4 323C477.8 320.1 480.6 316.5 483.2 313.7C485.7 310.9 488.3 308 490.9 306C493.5 303.9 496 302.6 498.6 301.3C501.2 300 504 299.4 506.3 298.2C508.6 297.1 511.5 295 512.5 294.4" stroke="#fdf901" stroke-width="2.6" filter="url(#bl1)"/>
<path d="M510.2 296.4C510.7 295.9 512.1 294.7 513.3 293.6C514.4 292.5 515.7 291.4 517.1 289.7C518.6 288.1 520.2 285.6 521.8 283.6C523.3 281.5 524.9 279.1 526.4 277.4C527.9 275.7 529.4 274.9 530.6 273.2C531.7 271.6 532.4 269.5 533.4 267.4C534.3 265.2 535.3 262.6 536.4 260.4C537.6 258.2 538.9 256.7 540 254.2C541.1 251.8 542.3 247.7 543.1 245.6C543.9 243.6 543.9 244 544.9 241.8C546 239.6 548.6 234.6 549.5 232.6C550.5 230.6 550.5 230.3 550.8 229.8" stroke="#74749a" stroke-width="2.0" filter="url(#bl1)"/>
<path d="M461.8 335.9C462.2 336.1 463.1 337 463.8 337.5C464.4 338.1 465.4 338.9 465.7 339.2" stroke="#c65b19" stroke-width="3.2" filter="url(#bl1)"/>
<path d="M487.9 231C489.1 232.8 492.3 238.1 494.8 241.5C497.3 244.8 499.8 248.1 503 251.1C506.2 254 510.3 256.8 514 259.3C517.6 261.8 522.2 264.7 525 266.2C527.7 267.7 529.5 268 530.5 268.4" stroke="#fdf901" stroke-width="2.6" filter="url(#bl1)"/>
<path d="M415.7 375.9C416.3 375.3 417.8 373.3 419.3 372.4C420.8 371.5 423 370.5 424.8 370.5C426.6 370.4 428.4 370.9 430.3 371.8C432.2 372.7 435.1 375.3 436 375.9" stroke="#fdf901" stroke-width="3.2" filter="url(#bl1)"/>
<path d="M415.7 375.9C416.3 375.3 417.8 373.3 419.3 372.4C420.8 371.5 423 370.5 424.8 370.5C426.6 370.4 428.4 370.9 430.3 371.8C432.2 372.7 435.1 375.3 436 375.9" stroke="#dc9a10" stroke-width="2.1" filter="url(#bl1)"/>
<path d="M491.5 375.9C492.3 375.3 494.2 372.8 496.1 371.8C498.1 370.8 501 370 503 369.9C505.1 369.9 506.8 370.5 508.5 371.6C510.2 372.6 512.6 375.2 513.4 375.9" stroke="#fdf901" stroke-width="3.2" filter="url(#bl1)"/>
<path d="M491.5 375.9C492.3 375.3 494.2 372.8 496.1 371.8C498.1 370.8 501 370 503 369.9C505.1 369.9 506.8 370.5 508.5 371.6C510.2 372.6 512.6 375.2 513.4 375.9" stroke="#dc9a10" stroke-width="2.1" filter="url(#bl1)"/>
<path d="M530.5 268.1C531.4 268.4 534.1 268.9 536 269.9C538 270.9 540.1 272.6 542.1 274.3C544.2 275.9 546.5 278.3 548.3 280C550 281.6 551.5 283.2 552.7 284.3C553.8 285.4 554.8 286.2 555.3 286.5" stroke="#b4b43c" stroke-width="1.76" filter="url(#bl1)"/>
<path d="M555.3 286.5C556 287.4 558.1 289.9 559.7 291.8C561.3 293.7 563 296.1 564.9 297.9C566.8 299.7 569.2 301.6 571.1 302.7C572.9 303.8 574.5 304.6 576.3 304.6C578.1 304.5 580.2 303.1 581.6 302.3C583.1 301.5 583.4 301.3 585.1 299.7C586.9 298.1 590 295 592.1 292.7C594.3 290.3 596.2 288 598.3 285.7C600.3 283.3 602.4 280.8 604.4 278.6C606.5 276.5 608.6 274.1 610.5 272.5C612.4 271 614 270.2 615.8 269.5C617.5 268.7 619.4 268.4 621.1 268.1C622.7 267.9 624.7 268.1 625.4 268.1" stroke="#fdf901" stroke-width="2.08" filter="url(#bl1)"/>
<path d="M530.5 274.4C530.8 274.6 531.4 274.3 532.5 275.3C533.6 276.3 535.3 278.4 536.9 280.4C538.5 282.4 540.5 285.6 542.1 287.4C543.8 289.2 545.2 290.6 546.5 291.4C547.8 292.1 549 292.1 550 291.9C551.1 291.7 551.8 291 552.7 290C553.5 289.1 554.8 286.8 555.3 286.1" stroke="#a0a046" stroke-width="1.6" filter="url(#bl1)"/>
<path d="M555.3 286.1C555.9 284.7 557.3 281.4 558.8 277.8C560.2 274.2 562.3 268.6 564 264.6C565.8 260.7 568.9 255.1 569.3 254.1C569.7 253.1 566.1 259.2 566.4 258.7C566.7 258.1 569.6 252.9 571 251C572.4 249.1 573.8 247.9 574.8 247.2C575.8 246.4 576.7 246.5 577.1 246.4" stroke="#dcdc28" stroke-width="1.6" filter="url(#bl1)"/>
<path d="M577.1 246.4C577.5 246.5 578.4 246.4 579.4 247.2C580.4 247.9 581.8 249.1 583.2 251C584.7 252.9 587.5 258 587.8 258.7C588.2 259.3 584.4 253 585.1 255C585.9 257 590.1 265.9 592.1 270.8C594.2 275.6 596.2 281.2 597.4 283.9C598.6 286.6 598.9 286.5 599.2 287" stroke="#8c8c82" stroke-width="1.8" filter="url(#bl1)"/>
<path d="M599.2 287C599.4 287.4 600 288.7 600.9 289.6C601.8 290.5 603.1 291.9 604.4 292.2C605.7 292.5 607.3 292.4 608.8 291.4C610.2 290.3 611.7 287.8 613.2 285.7C614.6 283.5 616.2 280.4 617.5 278.6C618.9 276.9 619.7 276 621.1 275.1C622.4 274.3 624.7 273.9 625.4 273.7" stroke="#fdf901" stroke-width="2.08" filter="url(#bl1)"/>
<path d="M619.3 276.7C619.7 276.4 620.9 275.2 621.9 274.7C622.9 274.2 624.8 273.8 625.4 273.6" stroke="#bb3b1e" stroke-width="1.92" filter="url(#bl1)"/>
<path d="M525 354.9C526 354.9 528.8 355 530.8 354.9C532.9 354.7 534.9 354.8 537.3 354.1C539.6 353.4 541.9 352.4 544.9 350.6C548 348.7 552.1 345.6 555.7 342.9C559.2 340.2 562.8 337.3 566.4 334.5C570 331.7 573.8 329 577.1 326.1C580.4 323.1 583.2 319.9 586.3 316.9C589.4 313.8 592.7 310.5 595.5 307.7C598.3 304.9 602.7 300.4 603.2 300C603.6 299.6 597.9 305.5 598.3 305C598.6 304.5 603.1 299.8 605.3 297C607.5 294.3 609.5 291.1 611.4 288.3C613.3 285.5 615.1 282.4 616.7 280.4C618.3 278.4 619.9 277 621.1 276C622.2 275.1 623.2 274.9 623.7 274.7" stroke="#fdf901" stroke-width="2.08" filter="url(#bl1)"/>
<path d="M530.5 274.4C531.6 275.7 534.8 279.6 536.9 282.2C539 284.8 541 287.6 543 290C545.1 292.5 547.1 294.7 549.2 297C551.2 299.4 555 303.6 555.3 304.1C555.6 304.5 550.2 299.1 551.1 300C551.9 300.9 557.2 306.1 560.3 309.2C563.3 312.3 566.6 315.6 569.5 318.4C572.3 321.2 575.8 324.8 577.1 326.1" stroke="#6e6e9a" stroke-width="2.0" filter="url(#bl1)"/>
<path d="M577.1 326.1C578.6 327.5 583.2 331.8 586.3 334.5C589.4 337.2 592.4 339.9 595.5 342.2C598.6 344.5 601.6 346.5 604.7 348.3C607.8 350.1 611.4 351.9 613.9 352.9C616.5 353.9 618 354.1 620 354.4C622.1 354.7 625.1 354.8 626.2 354.9" stroke="#fdf901" stroke-width="2.08" filter="url(#bl1)"/>
<path d="M618.5 354.3C619.1 354.3 621.1 354.6 622.3 354.7C623.6 354.8 625.5 354.9 626.2 354.9" stroke="#d17a14" stroke-width="2.08" filter="url(#bl1)"/>
<path d="M549.5 231.8C550.3 233 552.6 236.8 554.1 238.7C555.7 240.6 557.2 242.3 558.7 243.3C560.3 244.4 561.8 245.2 563.3 245.2C564.9 245.2 566.4 244.1 567.9 243.3C569.5 242.6 571 241.5 572.5 240.6C574.1 239.7 575.6 238 577.1 238C578.6 238 580.2 239.7 581.7 240.6C583.2 241.5 584.8 242.6 586.3 243.3C587.8 244.1 589.4 245.2 590.9 245.2C592.4 245.2 594 244.4 595.5 243.3C597 242.3 598.6 240.6 600.1 238.7C601.6 236.8 603.9 233 604.7 231.8" stroke="#fdf901" stroke-width="1.92" filter="url(#bl1)"/>
<path d="M571 231.8C571.5 232.3 573 233.9 574.1 234.9C575.1 235.9 576.1 238 577.1 238C578.1 238 579.2 235.9 580.2 234.9C581.2 233.9 582.7 232.3 583.2 231.8" stroke="#fdf901" stroke-width="1.76" filter="url(#bl1)"/>
<path d="M604.7 231.8C605.3 233.1 607.1 236.6 608.5 239.5C609.9 242.4 611.6 246.1 613.1 249.5C614.7 252.8 616.3 256.6 617.7 259.4C619.1 262.2 620.3 264.9 621.6 266.3C622.8 267.8 624.8 267.9 625.4 268.2" stroke="#fdf901" stroke-width="2.08" filter="url(#bl1)"/>
<path d="M530.8 354.9C532.2 355.2 536.2 355.8 538.8 356.7C541.4 357.7 544.2 359.3 546.5 360.5C548.8 361.8 550.7 363.2 552.6 364.4C554.5 365.5 557.1 366.9 558 367.4" stroke="#fdf901" stroke-width="1.92" filter="url(#bl1)"/>
<path d="M626.2 354.9C624.6 355.3 619.8 356.5 617 357.5C614.2 358.4 611.9 359.4 609.3 360.5C606.8 361.7 603.9 363.2 601.6 364.4C599.3 365.5 596.5 366.9 595.5 367.4" stroke="#fdf901" stroke-width="1.92" filter="url(#bl1)"/>
<path d="M554.9 369.7C555.9 369.5 559.2 368.6 561 368.2C562.8 367.8 564.1 367.5 565.6 367.1C567.2 366.8 569.5 366.1 570.2 365.9" stroke="#df0e0e" stroke-width="3.4" filter="url(#bl1)"/>
<path d="M588.6 367.1C589.3 367.3 591.2 368.2 592.4 368.2C593.7 368.2 594.9 367.6 596.3 367.1C597.7 366.6 600.1 365.5 600.9 365.1" stroke="#df0e0e" stroke-width="3.4" filter="url(#bl1)"/>
<path d="M544.2 375.9C545.1 374.5 547.1 369.7 549.5 367.4C552 365.1 555.7 363.3 558.7 362.1C561.8 360.9 564.9 360.5 567.9 360.1C571 359.7 574.1 359.5 577.1 359.5C580.2 359.5 583.2 359.7 586.3 360.1C589.4 360.5 592.6 360.9 595.5 362.1C598.4 363.3 601.6 365.1 603.9 367.4C606.2 369.7 608.4 374.5 609.3 375.9" stroke="#fdf901" stroke-width="1.44" filter="url(#bl1)"/>
<path d="M551.8 375.9C552.7 374.7 554.8 370.9 557.2 369C559.6 367 563.1 365.2 566.4 364.1C569.7 362.9 573.5 362.1 577.1 362.1C580.7 362.1 584.5 362.9 587.8 364.1C591.2 365.2 594.6 367 597 369C599.5 370.9 601.5 374.7 602.4 375.9" stroke="#fdf901" stroke-width="1.44" filter="url(#bl1)"/>
<path d="M563.3 367.8C564.6 367.4 568.7 365.7 571 365.9C573.3 366.1 575.1 369 577.1 369C579.2 369 580.7 366 583.2 365.9C585.8 365.8 590.9 367.8 592.4 368.2" stroke="#fdf901" stroke-width="1.92" filter="url(#bl1)"/>
<path d="M546.5 375.9C548 375.2 552.3 372.8 555.7 372C559 371.3 562.8 371.1 566.4 371.3C570 371.4 573.5 372.8 577.1 372.8C580.7 372.8 584.3 371.4 587.8 371.3C591.4 371.1 595.3 371.3 598.6 372C601.9 372.8 606.2 375.2 607.8 375.9" stroke="#fdf901" stroke-width="1.6" filter="url(#bl1)"/>
<path d="M463.5 233.3V374.7 M530.5 233.3V374.7 M396.5 280.4H625.2" stroke="#ccccff" stroke-width="0.9" opacity="0.8"/>
</g>
<line x1="396.5" y1="233" x2="396.5" y2="375" stroke="#000" stroke-width="0.6"/>
<line x1="625.2" y1="233" x2="625.2" y2="375" stroke="#000" stroke-width="0.6"/>
<line x1="392.3" y1="233.3" x2="396.5" y2="233.3" stroke="#1a1a1a" stroke-width="0.9"/>
<line x1="625.2" y1="233.3" x2="628.8" y2="233.3" stroke="#1a1a1a" stroke-width="0.9"/>
<text x="0" y="0" font-size="9.2" fill="#1a1a1a" transform="translate(387.2 235.7) scale(1.13 1)" text-anchor="end" stroke="#1a1a1a" stroke-width="0.3">0.4</text>
<line x1="392.3" y1="256.9" x2="396.5" y2="256.9" stroke="#1a1a1a" stroke-width="0.9"/>
<line x1="625.2" y1="256.9" x2="628.8" y2="256.9" stroke="#1a1a1a" stroke-width="0.9"/>
<text x="0" y="0" font-size="9.2" fill="#1a1a1a" transform="translate(387.2 259.3) scale(1.13 1)" text-anchor="end" stroke="#1a1a1a" stroke-width="0.3">0.2</text>
<line x1="392.3" y1="280.4" x2="396.5" y2="280.4" stroke="#1a1a1a" stroke-width="0.9"/>
<line x1="625.2" y1="280.4" x2="628.8" y2="280.4" stroke="#1a1a1a" stroke-width="0.9"/>
<text x="0" y="0" font-size="9.2" fill="#1a1a1a" transform="translate(387.2 282.8) scale(1.13 1)" text-anchor="end" stroke="#1a1a1a" stroke-width="0.3">0</text>
<line x1="392.3" y1="304" x2="396.5" y2="304" stroke="#1a1a1a" stroke-width="0.9"/>
<line x1="625.2" y1="304" x2="628.8" y2="304" stroke="#1a1a1a" stroke-width="0.9"/>
<text x="0" y="0" font-size="9.2" fill="#1a1a1a" transform="translate(387.2 306.4) scale(1.13 1)" text-anchor="end" stroke="#1a1a1a" stroke-width="0.3">−0.2</text>
<line x1="392.3" y1="327.6" x2="396.5" y2="327.6" stroke="#1a1a1a" stroke-width="0.9"/>
<line x1="625.2" y1="327.6" x2="628.8" y2="327.6" stroke="#1a1a1a" stroke-width="0.9"/>
<text x="0" y="0" font-size="9.2" fill="#1a1a1a" transform="translate(387.2 330) scale(1.13 1)" text-anchor="end" stroke="#1a1a1a" stroke-width="0.3">−0.4</text>
<line x1="392.3" y1="351.1" x2="396.5" y2="351.1" stroke="#1a1a1a" stroke-width="0.9"/>
<line x1="625.2" y1="351.1" x2="628.8" y2="351.1" stroke="#1a1a1a" stroke-width="0.9"/>
<text x="0" y="0" font-size="9.2" fill="#1a1a1a" transform="translate(387.2 353.5) scale(1.13 1)" text-anchor="end" stroke="#1a1a1a" stroke-width="0.3">−0.6</text>
<line x1="392.3" y1="374.7" x2="396.5" y2="374.7" stroke="#1a1a1a" stroke-width="0.9"/>
<line x1="625.2" y1="374.7" x2="628.8" y2="374.7" stroke="#1a1a1a" stroke-width="0.9"/>
<text x="0" y="0" font-size="9.2" fill="#1a1a1a" transform="translate(387.2 377.1) scale(1.13 1)" text-anchor="end" stroke="#1a1a1a" stroke-width="0.3">−0.8</text>
<text x="0" y="0" font-size="9.0" fill="#1a1a1a" transform="translate(356.2 303.7) rotate(-90) scale(1.13 1)" text-anchor="middle" stroke="#1a1a1a" stroke-width="0.3">Energy (eV)</text>
<text x="397.1" y="387.6" font-size="10" fill="#1a1a1a" font-family='"Liberation Serif", "Times New Roman", serif' text-anchor="middle" stroke="#1a1a1a" stroke-width="0.3">Γ</text>
<text x="464.3" y="388" font-size="9.8" fill="#1a1a1a" text-anchor="middle" stroke="#1a1a1a" stroke-width="0.3">X</text>
<text x="531.3" y="388" font-size="9.8" fill="#1a1a1a" text-anchor="middle" stroke="#1a1a1a" stroke-width="0.3">M</text>
<text x="625.8" y="387.6" font-size="10" fill="#1a1a1a" font-family='"Liberation Serif", "Times New Roman", serif' text-anchor="middle" stroke="#1a1a1a" stroke-width="0.3">Γ</text>
<rect x="635.4" y="233.3" width="12" height="141.4" fill="url(#gS)"/>
<text x="0" y="0" font-size="9.2" fill="#1a1a1a" transform="translate(652.2 377.3) scale(1.13 1)" stroke="#1a1a1a" stroke-width="0.3">0</text>
<line x1="635.4" y1="346.4" x2="639" y2="346.4" stroke="#1a1a1a" stroke-width="0.9"/>
<line x1="643.8" y1="346.4" x2="647.4" y2="346.4" stroke="#1a1a1a" stroke-width="0.9"/>
<text x="0" y="0" font-size="9.2" fill="#1a1a1a" transform="translate(652.2 349) scale(1.13 1)" stroke="#1a1a1a" stroke-width="0.3">0.2</text>
<line x1="635.4" y1="318.1" x2="639" y2="318.1" stroke="#1a1a1a" stroke-width="0.9"/>
<line x1="643.8" y1="318.1" x2="647.4" y2="318.1" stroke="#1a1a1a" stroke-width="0.9"/>
<text x="0" y="0" font-size="9.2" fill="#1a1a1a" transform="translate(652.2 320.7) scale(1.13 1)" stroke="#1a1a1a" stroke-width="0.3">0.4</text>
<line x1="635.4" y1="289.9" x2="639" y2="289.9" stroke="#1a1a1a" stroke-width="0.9"/>
<line x1="643.8" y1="289.9" x2="647.4" y2="289.9" stroke="#1a1a1a" stroke-width="0.9"/>
<text x="0" y="0" font-size="9.2" fill="#1a1a1a" transform="translate(652.2 292.5) scale(1.13 1)" stroke="#1a1a1a" stroke-width="0.3">0.6</text>
<line x1="635.4" y1="261.6" x2="639" y2="261.6" stroke="#1a1a1a" stroke-width="0.9"/>
<line x1="643.8" y1="261.6" x2="647.4" y2="261.6" stroke="#1a1a1a" stroke-width="0.9"/>
<text x="0" y="0" font-size="9.2" fill="#1a1a1a" transform="translate(652.2 264.2) scale(1.13 1)" stroke="#1a1a1a" stroke-width="0.3">0.8</text>
<text x="0" y="0" font-size="9.2" fill="#1a1a1a" transform="translate(652.2 235.9) scale(1.13 1)" stroke="#1a1a1a" stroke-width="0.3">1</text>
<rect x="635.4" y="233.3" width="12" height="141.4" fill="none" stroke="#1a1a1a" stroke-width="0.8"/>
<text x="0" y="0" font-size="9.0" fill="#1a1a1a" transform="translate(682.8 303.5) rotate(-90) scale(1.13 1)" text-anchor="middle" stroke="#1a1a1a" stroke-width="0.3">Spectral weight</text>
<text x="0.8" y="415.4" font-size="13.5" fill="#111" font-weight="bold">e</text>
<rect x="47.6" y="427.9" width="228.5" height="141.5" fill="#04049c"/>
<g clip-path="url(#ce)" fill="none" stroke-linecap="butt" stroke-linejoin="round">
<path d="M42.7 467.2C45 467.3 52.3 467.2 56.5 467.8C60.6 468.3 63.3 468.9 67.4 470.5C71.6 472.1 76.6 474.7 81.2 477.6C85.7 480.6 90.8 485 94.9 488.1C99 491.2 102.2 494.4 105.9 496.3C109.5 498.2 115 499 116.8 499.6" stroke="#ffff00" stroke-width="7" opacity="0.45" filter="url(#bl3)"/>
<path d="M234.3 484.5C236.1 483.3 241.6 479.2 245.3 477.1C248.9 474.9 252.6 473.1 256.2 471.6C259.9 470.1 263.1 468.9 267.2 468C271.3 467.1 278.7 466.4 280.9 466.1" stroke="#ffff00" stroke-width="6" opacity="0.4" filter="url(#bl3)"/>
<path d="M42.7 470.8C43.6 470.8 45.4 470.5 47.7 470.8C50 471 53.2 471.2 56.5 472.1C59.8 473.1 63.8 474.4 67.4 476.3C71.1 478.1 74.8 480.5 78.4 483.1C82.1 485.7 85.7 489.3 89.4 491.9C93.1 494.6 96.7 497.4 100.4 499C104 500.7 108.2 501.3 111.4 501.8C114.6 502.2 116.8 502.2 119.6 501.8C122.3 501.3 125.1 500.1 127.8 499C130.6 498 133.3 496.4 136.1 495.5C138.8 494.6 141.1 493.9 144.3 493.6C147.5 493.2 151.6 493.4 155.3 493.6C158.9 493.7 163 494.6 166.2 494.6C169.4 494.7 171.9 494.4 174.5 494.1C177 493.8 179 493 181.6 493C184.3 493 187.1 493.7 190.4 494.1C193.7 494.5 197.7 495.2 201.4 495.5C205 495.7 208.7 495.9 212.3 495.5C216 495 219.7 494.1 223.3 492.7C227 491.4 230.6 489.3 234.3 487.2C237.9 485.2 241.6 482.4 245.3 480.4C248.9 478.3 252.6 476.4 256.2 474.9C259.9 473.4 263.1 472.4 267.2 471.6C271.3 470.8 278.7 470.5 280.9 470.2" stroke="#ffff00" stroke-width="12" opacity="0.42" filter="url(#bl3)"/>
<path d="M42.7 470.8C43.6 470.8 45.4 470.5 47.7 470.8C50 471 53.2 471.2 56.5 472.1C59.8 473.1 63.8 474.4 67.4 476.3C71.1 478.1 74.8 480.5 78.4 483.1C82.1 485.7 85.7 489.3 89.4 491.9C93.1 494.6 96.7 497.4 100.4 499C104 500.7 108.2 501.3 111.4 501.8C114.6 502.2 116.8 502.2 119.6 501.8C122.3 501.3 125.1 500.1 127.8 499C130.6 498 133.3 496.4 136.1 495.5C138.8 494.6 141.1 493.9 144.3 493.6C147.5 493.2 151.6 493.4 155.3 493.6C158.9 493.7 163 494.6 166.2 494.6C169.4 494.7 171.9 494.4 174.5 494.1C177 493.8 179 493 181.6 493C184.3 493 187.1 493.7 190.4 494.1C193.7 494.5 197.7 495.2 201.4 495.5C205 495.7 208.7 495.9 212.3 495.5C216 495 219.7 494.1 223.3 492.7C227 491.4 230.6 489.3 234.3 487.2C237.9 485.2 241.6 482.4 245.3 480.4C248.9 478.3 252.6 476.4 256.2 474.9C259.9 473.4 263.1 472.4 267.2 471.6C271.3 470.8 278.7 470.5 280.9 470.2" stroke="#ffff00" stroke-width="6.0" filter="url(#bl2)"/>
<path d="M136.1 495.5C137.4 495.2 141.1 493.9 144.3 493.6C147.5 493.2 151.6 493.4 155.3 493.6C158.9 493.7 163 494.6 166.2 494.6C169.4 494.7 171.9 494.4 174.5 494.1C177 493.8 179 493 181.6 493C184.3 493 187.1 493.7 190.4 494.1C193.7 494.5 197.7 495.2 201.4 495.5C205 495.7 209.1 495.8 212.3 495.5C215.5 495.2 219.2 493.9 220.6 493.6" stroke="#d17a14" stroke-width="2.8" opacity="0.95" filter="url(#bl2)"/>
<path d="M42.7 470.5C43.6 470.5 45.9 470.6 47.7 470.8C49.5 471 51.8 471.2 53.7 471.6C55.6 472 58.3 473 59.2 473.2" stroke="#d17a14" stroke-width="2.6" opacity="0.9" filter="url(#bl2)"/>
<path d="M265.8 471.9C267 471.7 270.2 471 272.7 470.8C275.2 470.5 279.6 470.3 280.9 470.2" stroke="#d17a14" stroke-width="2.4" opacity="0.8" filter="url(#bl2)"/>
<path d="M170.9 493.1C171.9 493 174.8 492.6 176.6 492.4C178.3 492.3 179.8 492.4 181.4 492.4C183 492.5 184.6 492.6 186.2 492.8C187.8 492.9 190.2 493.3 191 493.4" stroke="#d41313" stroke-width="5.6" filter="url(#bl2)"/>
<path d="M166.1 493.7 L170.9 493.1" stroke="#bb3b1e" stroke-width="3.2" opacity="0.9" filter="url(#bl2)"/>
<path d="M145.3 425.8C146.1 427.9 148.6 434.8 150.1 438.6C151.5 442.5 152.7 445.7 154.1 449.1C155.4 452.5 156.8 455.8 158.1 459C159.4 462.3 160.8 465.3 162.1 468.4C163.5 471.4 164.8 474.5 166.1 477.2C167.5 479.9 168.8 482.4 170.1 484.4C171.5 486.4 173 488.1 174.2 489.2C175.3 490.4 176.4 490.8 176.9 491.2" stroke="#ffff00" stroke-width="7" opacity="0.3" filter="url(#bl3)"/>
<path d="M145.3 425.8C146.1 427.9 148.6 434.8 150.1 438.6C151.5 442.5 152.7 445.7 154.1 449.1C155.4 452.5 156.8 455.8 158.1 459C159.4 462.3 160.8 465.3 162.1 468.4C163.5 471.4 164.8 474.5 166.1 477.2C167.5 479.9 168.8 482.4 170.1 484.4C171.5 486.4 173 488.1 174.2 489.2C175.3 490.4 176.4 490.8 176.9 491.2" stroke="#ffff00" stroke-width="2.5" filter="url(#bl1)"/>
<path d="M189.1 491.2C189.5 490.3 191 487.7 191.8 486C192.7 484.4 193.4 483.3 194.2 481.2C195.1 479.1 196.2 475.9 197 473.2C197.8 470.5 198.4 467.8 199.1 465.1C199.7 462.5 200.3 459.8 200.8 457.1C201.4 454.4 201.8 452.2 202.3 449.1C202.8 446 203.3 442.5 203.9 438.6C204.4 434.8 205.2 427.9 205.5 425.8" stroke="#ffff00" stroke-width="3.2" opacity="0.55" filter="url(#bl2)"/>
<path d="M195.8 490C196.6 488 199.1 482.7 200.7 478C202.3 473.3 203.9 467.6 205.5 461.9C207.1 456.3 208.7 450.3 210.3 444.3C211.8 438.2 214 428.9 214.8 425.8" stroke="#ffff00" stroke-width="4" opacity="0.2" filter="url(#bl3)"/>
<path d="M200.7 490C201.7 487.2 204.9 479.2 207.1 473.2C209.2 467.2 211.4 460.3 213.5 453.9C215.6 447.5 218.5 439.3 219.9 434.6C221.4 430 221.9 427.3 222.3 425.8" stroke="#ffff00" stroke-width="5" opacity="0.12" filter="url(#bl3)"/>
<path d="M149.6 425.8C149.8 426.5 149.6 427.5 150.9 429.8C152.2 432.1 154.9 436.5 157.3 439.5C159.7 442.4 162.7 445.2 165.3 447.5C168 449.8 170.7 451.8 173.4 453.1C176 454.4 178.7 455.2 181.4 455.2C184.1 455.2 187 454.4 189.4 453.1C191.8 451.8 194 449.8 195.8 447.5C197.7 445.2 199.3 442.4 200.7 439.5C202 436.5 203.4 432.1 204.2 429.8C204.9 427.5 205 426.5 205.2 425.8Z" fill="#ffff00" stroke="none" opacity="0.2" filter="url(#bl3)"/>
<path d="M150.9 426.6C152 428.3 155.2 433.6 157.6 436.6C160.1 439.6 163 442.4 165.6 444.6C168.3 446.8 171.1 448.7 173.7 449.9C176.3 451.1 178.8 451.7 181.4 451.7C184 451.7 186.7 451.1 189.1 449.9C191.5 448.7 193.6 446.8 195.5 444.6C197.4 442.4 198.9 439.6 200.3 436.6C201.7 433.6 203.3 428.3 203.9 426.6" stroke="#ffff00" stroke-width="7" opacity="0.3" filter="url(#bl3)"/>
<path d="M149.6 425.8C149.8 426.5 149.6 427.5 150.9 429.8C152.2 432.1 154.9 436.5 157.3 439.5C159.7 442.4 162.7 445.2 165.3 447.5C168 449.8 170.7 451.8 173.4 453.1C176 454.4 178.7 455.2 181.4 455.2C184.1 455.2 187 454.4 189.4 453.1C191.8 451.8 194 449.8 195.8 447.5C197.7 445.2 199.3 442.4 200.7 439.5C202 436.5 203.4 432.1 204.2 429.8C204.9 427.5 205 426.5 205.2 425.8" stroke="#ffff00" stroke-width="2.2" opacity="0.3" filter="url(#bl2)"/>
<path d="M175.8 489.2C176.7 487.6 179.2 479.6 181.4 479.6C183.5 479.6 188.6 487.2 188.6 489.2C188.6 491.2 182.6 491.2 181.4 491.6Z" fill="#ffff00" stroke="none" opacity="0.4" filter="url(#bl3)"/>
<path d="M47.7 511.9 L56.5 514.7 L67.4 529.8 L78.4 549 L88.9 572.3 L74.3 572.3 L64.7 540.8 L56.5 521.5 L47.7 514.7Z" fill="#ffff00" stroke="none" opacity="0.58" filter="url(#bl2)"/>
<path d="M45.5 509.2C45.9 509.4 46.3 509.5 47.7 510.6C49.1 511.6 51.8 512.8 53.7 515.5C55.6 518.3 57.4 522.8 59.2 527C61 531.2 62.9 536.2 64.7 540.8C66.5 545.3 68.3 549.2 70.2 554.5C72.1 559.7 75.2 569.3 76.2 572.3" stroke="#ffff00" stroke-width="2.6" filter="url(#bl1)"/>
<path d="M47.7 513.3C48.5 516.1 50.9 524.7 52.3 529.8C53.8 534.8 54.9 538.5 56.5 543.5C58.1 548.5 60.4 555.2 62 560C63.6 564.8 65.4 570.3 66.1 572.3" stroke="#ffff00" stroke-width="2.2" opacity="0.6" filter="url(#bl2)"/>
<path d="M45.5 528.4C46.6 528.7 50.1 529.2 52.3 530.3C54.6 531.5 56.9 532.6 59.2 535.3C61.5 537.9 64.9 544.4 66.1 546.2" stroke="#ffff00" stroke-width="3" opacity="0.45" filter="url(#bl2)"/>
<path d="M44.1 509.7C44.7 509.9 46.4 510.3 47.7 510.8C48.9 511.3 50.9 512.4 51.5 512.8" stroke="#d41313" stroke-width="3" filter="url(#bl2)"/>
<path d="M51.5 512.8C52.1 513.4 53.6 513.8 55.1 516.6C56.6 519.4 58.8 525.3 60.6 529.8C62.4 534.3 65.2 541.2 66.1 543.5" stroke="#d17a14" stroke-width="1.6" opacity="0.7" filter="url(#bl2)"/>
<path d="M44.1 563.8C45.7 564.1 50.7 564.2 53.7 565.5C56.8 566.7 61 570.5 62.5 571.5" stroke="#ffff00" stroke-width="3.2" filter="url(#bl2)"/>
<path d="M277 510.4 L277 532.3 L269 538.1 L261.7 548.3 L251.5 569.5 L239.8 569.5 L251.5 545.4 L264.6 521.4 L271.9 511.9Z" fill="#ffff00" stroke="none" opacity="0.58" filter="url(#bl2)"/>
<path d="M277 510.4C276.4 510.9 274.9 511.4 273.3 513.3C271.8 515.3 269.4 518.9 267.5 522.1C265.6 525.2 263.5 528.6 261.7 532.3C259.8 535.9 258 540.1 256.6 544C255.1 547.8 254 552 252.9 555.6C251.8 559.3 250.7 563.3 250 565.8C249.3 568.4 248.8 570.1 248.5 570.9" stroke="#ffff00" stroke-width="2.8" filter="url(#bl1)"/>
<path d="M275.5 510.4C274.9 510.7 273.7 510.1 271.9 511.9C270.1 513.7 267 517.7 264.6 521.4C262.2 525 259.5 529.7 257.3 533.8C255.1 537.8 253.3 541.8 251.5 545.4C249.6 549.1 247.9 552.2 246.4 555.6C244.8 559 243.1 563.3 242 565.8C240.8 568.4 239.9 570.1 239.5 570.9" stroke="#ffff00" stroke-width="2.4" opacity="0.65" filter="url(#bl2)"/>
<path d="M277 532C276.4 532.3 274.7 532.7 273.3 533.8C272 534.8 270.4 536.2 269 538.1C267.5 540.1 266 542.7 264.6 545.4C263.1 548.1 260.9 552.7 260.2 554.2" stroke="#ffff00" stroke-width="3" opacity="0.5" filter="url(#bl2)"/>
<path d="M277.7 509.2C277.1 509.6 275.3 510.2 274.1 511.1C272.8 512.1 271 514.2 270.4 514.8" stroke="#d41313" stroke-width="3" filter="url(#bl2)"/>
<path d="M270.4 514.8C269.7 515.9 267.5 518.9 266 521.4C264.6 523.8 262.4 528 261.7 529.4" stroke="#d17a14" stroke-width="1.8" opacity="0.7" filter="url(#bl2)"/>
<path d="M277 565.1C275.6 565.5 271.4 566.5 269 567.3C266.5 568.1 263.5 569.5 262.4 569.9" stroke="#ffff00" stroke-width="3.2" filter="url(#bl2)"/>
<path d="M277 552C275.9 553.3 272.5 557.1 270.4 560C268.4 562.9 265.6 567.9 264.6 569.5" stroke="#ffff00" stroke-width="1.5" opacity="0.25" filter="url(#bl2)"/>
<path d="M114.5 427.9V569.4 M181.5 427.9V569.4 M47.6 475.1H276.1" stroke="#ccccff" stroke-width="0.9" opacity="0.8"/>
</g>
<line x1="47.6" y1="427.6" x2="47.6" y2="569.7" stroke="#000" stroke-width="0.6"/>
<line x1="276.1" y1="427.6" x2="276.1" y2="569.7" stroke="#000" stroke-width="0.6"/>
<line x1="43.4" y1="427.9" x2="47.6" y2="427.9" stroke="#1a1a1a" stroke-width="0.9"/>
<line x1="276.1" y1="427.9" x2="279.7" y2="427.9" stroke="#1a1a1a" stroke-width="0.9"/>
<text x="0" y="0" font-size="9.2" fill="#1a1a1a" transform="translate(38.3 430.3) scale(1.13 1)" text-anchor="end" stroke="#1a1a1a" stroke-width="0.3">0.4</text>
<line x1="43.4" y1="451.5" x2="47.6" y2="451.5" stroke="#1a1a1a" stroke-width="0.9"/>
<line x1="276.1" y1="451.5" x2="279.7" y2="451.5" stroke="#1a1a1a" stroke-width="0.9"/>
<text x="0" y="0" font-size="9.2" fill="#1a1a1a" transform="translate(38.3 453.9) scale(1.13 1)" text-anchor="end" stroke="#1a1a1a" stroke-width="0.3">0.2</text>
<line x1="43.4" y1="475.1" x2="47.6" y2="475.1" stroke="#1a1a1a" stroke-width="0.9"/>
<line x1="276.1" y1="475.1" x2="279.7" y2="475.1" stroke="#1a1a1a" stroke-width="0.9"/>
<text x="0" y="0" font-size="9.2" fill="#1a1a1a" transform="translate(38.3 477.5) scale(1.13 1)" text-anchor="end" stroke="#1a1a1a" stroke-width="0.3">0</text>
<line x1="43.4" y1="498.6" x2="47.6" y2="498.6" stroke="#1a1a1a" stroke-width="0.9"/>
<line x1="276.1" y1="498.6" x2="279.7" y2="498.6" stroke="#1a1a1a" stroke-width="0.9"/>
<text x="0" y="0" font-size="9.2" fill="#1a1a1a" transform="translate(38.3 501) scale(1.13 1)" text-anchor="end" stroke="#1a1a1a" stroke-width="0.3">−0.2</text>
<line x1="43.4" y1="522.2" x2="47.6" y2="522.2" stroke="#1a1a1a" stroke-width="0.9"/>
<line x1="276.1" y1="522.2" x2="279.7" y2="522.2" stroke="#1a1a1a" stroke-width="0.9"/>
<text x="0" y="0" font-size="9.2" fill="#1a1a1a" transform="translate(38.3 524.6) scale(1.13 1)" text-anchor="end" stroke="#1a1a1a" stroke-width="0.3">−0.4</text>
<line x1="43.4" y1="545.8" x2="47.6" y2="545.8" stroke="#1a1a1a" stroke-width="0.9"/>
<line x1="276.1" y1="545.8" x2="279.7" y2="545.8" stroke="#1a1a1a" stroke-width="0.9"/>
<text x="0" y="0" font-size="9.2" fill="#1a1a1a" transform="translate(38.3 548.2) scale(1.13 1)" text-anchor="end" stroke="#1a1a1a" stroke-width="0.3">−0.6</text>
<line x1="43.4" y1="569.4" x2="47.6" y2="569.4" stroke="#1a1a1a" stroke-width="0.9"/>
<line x1="276.1" y1="569.4" x2="279.7" y2="569.4" stroke="#1a1a1a" stroke-width="0.9"/>
<text x="0" y="0" font-size="9.2" fill="#1a1a1a" transform="translate(38.3 571.8) scale(1.13 1)" text-anchor="end" stroke="#1a1a1a" stroke-width="0.3">−0.8</text>
<text x="0" y="0" font-size="9.0" fill="#1a1a1a" transform="translate(7.3 498.3) rotate(-90) scale(1.13 1)" text-anchor="middle" stroke="#1a1a1a" stroke-width="0.3">Energy (eV)</text>
<text x="48.2" y="582.3" font-size="10" fill="#1a1a1a" font-family='"Liberation Serif", "Times New Roman", serif' text-anchor="middle" stroke="#1a1a1a" stroke-width="0.3">Γ</text>
<text x="115.3" y="582.7" font-size="9.8" fill="#1a1a1a" text-anchor="middle" stroke="#1a1a1a" stroke-width="0.3">X</text>
<text x="182.3" y="582.7" font-size="9.8" fill="#1a1a1a" text-anchor="middle" stroke="#1a1a1a" stroke-width="0.3">M</text>
<text x="276.7" y="582.3" font-size="10" fill="#1a1a1a" font-family='"Liberation Serif", "Times New Roman", serif' text-anchor="middle" stroke="#1a1a1a" stroke-width="0.3">Γ</text>
<rect x="286.2" y="427.9" width="11.4" height="141.5" fill="url(#gS)"/>
<text x="0" y="0" font-size="9.2" fill="#1a1a1a" transform="translate(302.4 572) scale(1.13 1)" stroke="#1a1a1a" stroke-width="0.3">0</text>
<line x1="286.2" y1="541.1" x2="289.8" y2="541.1" stroke="#1a1a1a" stroke-width="0.9"/>
<line x1="294" y1="541.1" x2="297.6" y2="541.1" stroke="#1a1a1a" stroke-width="0.9"/>
<text x="0" y="0" font-size="9.2" fill="#1a1a1a" transform="translate(302.4 543.7) scale(1.13 1)" stroke="#1a1a1a" stroke-width="0.3">0.2</text>
<line x1="286.2" y1="512.8" x2="289.8" y2="512.8" stroke="#1a1a1a" stroke-width="0.9"/>
<line x1="294" y1="512.8" x2="297.6" y2="512.8" stroke="#1a1a1a" stroke-width="0.9"/>
<text x="0" y="0" font-size="9.2" fill="#1a1a1a" transform="translate(302.4 515.4) scale(1.13 1)" stroke="#1a1a1a" stroke-width="0.3">0.4</text>
<line x1="286.2" y1="484.5" x2="289.8" y2="484.5" stroke="#1a1a1a" stroke-width="0.9"/>
<line x1="294" y1="484.5" x2="297.6" y2="484.5" stroke="#1a1a1a" stroke-width="0.9"/>
<text x="0" y="0" font-size="9.2" fill="#1a1a1a" transform="translate(302.4 487.1) scale(1.13 1)" stroke="#1a1a1a" stroke-width="0.3">0.6</text>
<line x1="286.2" y1="456.2" x2="289.8" y2="456.2" stroke="#1a1a1a" stroke-width="0.9"/>
<line x1="294" y1="456.2" x2="297.6" y2="456.2" stroke="#1a1a1a" stroke-width="0.9"/>
<text x="0" y="0" font-size="9.2" fill="#1a1a1a" transform="translate(302.4 458.8) scale(1.13 1)" stroke="#1a1a1a" stroke-width="0.3">0.8</text>
<text x="0" y="0" font-size="9.2" fill="#1a1a1a" transform="translate(302.4 430.5) scale(1.13 1)" stroke="#1a1a1a" stroke-width="0.3">1</text>
<rect x="286.2" y="427.9" width="11.4" height="141.5" fill="none" stroke="#1a1a1a" stroke-width="0.8"/>
<text x="0" y="0" font-size="9.0" fill="#1a1a1a" transform="translate(331.8 498.1) rotate(-90) scale(1.13 1)" text-anchor="middle" stroke="#1a1a1a" stroke-width="0.3">Spectral weight</text>
<text x="351" y="413.6" font-size="13.5" fill="#111" font-weight="bold">g</text>
<rect x="396.5" y="427.9" width="228.7" height="141.5" fill="#04049c"/>
<g clip-path="url(#cg)" fill="none" stroke-linecap="butt" stroke-linejoin="round">
<path d="M530.5 425.3 L600.2 425.3 L595 441 L579.2 472.6 L565.2 500.6 L554.7 521.6 L540.7 514.6 L530.5 495.3Z" fill="#ffff00" stroke="none" opacity="0.3" filter="url(#bl4)"/>
<path d="M530.5 425.3 L554.7 425.3 L565.2 448 L554.7 472.6 L540.7 465.5 L530.5 472.6Z" fill="#ffff00" stroke="none" opacity="0.25" filter="url(#bl3)"/>
<path d="M483.9 425.3 L544.2 425.3 L537.2 441 L526.6 460.3 L517.9 467.3 L509.1 462 L495.1 446.3Z" fill="#ffff00" stroke="none" opacity="0.3" filter="url(#bl3)"/>
<path d="M397.7 472.6 L406.5 473.6 L416.6 488.3 L432 507.6 L442.6 518.8 L433.8 525.1 L423.3 522.3 L409.6 504.1 L400.9 485.2Z" fill="#ffff00" stroke="none" opacity="0.42" filter="url(#bl3)"/>
<path d="M465.3 525.1 L477.6 504.1 L505.6 505.8 L530.5 514.6 L544.2 525.1 L530.5 519.9 L505.6 515.3 L488.1 521.6 L474.1 531.4Z" fill="#ffff00" stroke="none" opacity="0.32" filter="url(#bl3)"/>
<path d="M463.2 538.1 L428.5 532.1 L396.7 537 L396.7 545.4 L428.5 544.7Z" fill="#ffff00" stroke="none" opacity="0.42" filter="url(#bl3)"/>
<path d="M399.5 571.4 L408.2 559.4 L422.2 553.1 L434.1 559.4 L439.8 571.4Z" fill="#ffff00" stroke="none" opacity="0.45" filter="url(#bl3)"/>
<path d="M464.3 538.4 L493.7 536 L520 545.8 L520 553.1 L510.9 561.9 L507.7 570.7 L498.6 570.7 L484.9 554.9 L472.7 547.9Z" fill="#ffff00" stroke="none" opacity="0.62" filter="url(#bl3)"/>
<path d="M545.9 570.7 L544.5 554.9 L558.2 542.6 L569.7 532.1 L586.2 537.4 L603.7 550.3 L591.5 560.1 L572.2 571.4Z" fill="#ffff00" stroke="none" opacity="0.45" filter="url(#bl3)"/>
<path d="M411 456.8 L442.6 483.1 L481.1 506.9 L470.6 535.6 L442.6 517.4 L425 496.4 L406.8 473.3Z" fill="#ffff00" stroke="none" opacity="0.28" filter="url(#bl4)"/>
<path d="M530.5 486.6 L554.7 521.6 L565.2 528.6 L544.2 540.9 L530.5 525.1Z" fill="#ffff00" stroke="none" opacity="0.3" filter="url(#bl4)"/>
<path d="M396.7 445.9 L406.5 443.8 L414.5 445.2 L419.4 450.1 L414.5 456.4 L406.5 462 L396.7 465.9Z" fill="#ffff00" stroke="none" filter="url(#bl2)"/>
<path d="M413.8 453.3C414.6 454 416.7 455.6 418.4 457.5C420.1 459.4 422.1 462.6 424 464.8C425.9 467.1 428.9 469.8 429.9 470.8" stroke="#ffff00" stroke-width="9" opacity="0.45" filter="url(#bl3)"/>
<path d="M413.8 453.3C414.6 454 416.7 455.6 418.4 457.5C420.1 459.4 422.1 462.6 424 464.8C425.9 467.1 428.9 469.8 429.9 470.8" stroke="#ffff00" stroke-width="4.5" opacity="0.85" filter="url(#bl2)"/>
<path d="M425 465.5C425.9 466.4 428.1 468.8 429.9 470.8C431.8 472.8 433.8 475.5 435.9 477.8C438 480.1 440.3 482.8 442.6 484.8C444.8 486.9 448.4 489.2 449.6 490.1" stroke="#ffff00" stroke-width="5.5" opacity="0.5" filter="url(#bl3)"/>
<path d="M439.1 480.3C440.8 481.8 446.1 486.6 449.6 489.4C453.1 492.2 456 494.5 460.1 497.1C464.2 499.6 469.4 502.7 474.1 504.8C478.8 506.8 483.4 508.2 488.1 509.3C492.8 510.5 499.8 511.4 502.1 511.8" stroke="#ffff00" stroke-width="9" opacity="0.38" filter="url(#bl3)"/>
<path d="M476.2 504.1C478.2 504.8 484.1 508 488.5 508.6C492.8 509.3 497.8 507.5 502.5 507.9C507.1 508.4 511.8 509.7 516.5 511.1C521.2 512.5 525.9 514.2 530.5 516.4C535.1 518.5 541.9 522.8 544.2 524.1" stroke="#ffff00" stroke-width="4.5" opacity="0.5" filter="url(#bl3)"/>
<path d="M566.9 526.9C564.9 524.2 558.5 516.9 554.7 511.1C550.9 505.3 547.7 498.2 544.2 491.8C540.7 485.4 536.3 478.1 533.6 472.6C531 467 529.3 460.9 528.4 458.5" stroke="#ffff00" stroke-width="7" opacity="0.42" filter="url(#bl3)"/>
<path d="M527.3 427C530.8 432.6 541.4 449.2 548.4 460.3C555.4 471.4 565.9 488 569.4 493.6" stroke="#ffff00" stroke-width="2.6" opacity="0.2" filter="url(#bl2)"/>
<path d="M536.5 427C540 432.6 550.5 449.2 557.5 460.3C564.5 471.4 575 488 578.5 493.6" stroke="#ffff00" stroke-width="2.6" opacity="0.2" filter="url(#bl2)"/>
<path d="M546.3 427C549.8 432.6 560.3 449.2 567.3 460.3C574.3 471.4 584.8 488 588.3 493.6" stroke="#ffff00" stroke-width="2.6" opacity="0.2" filter="url(#bl2)"/>
<path d="M556.8 427C560.3 432.6 570.8 449.2 577.8 460.3C584.8 471.4 595.3 488 598.8 493.6" stroke="#ffff00" stroke-width="2.6" opacity="0.2" filter="url(#bl2)"/>
<path d="M554 427C551.8 432.6 545.4 449.2 541 460.3C536.6 471.4 529.9 488 527.7 493.6" stroke="#ffff00" stroke-width="2.2" opacity="0.2" filter="url(#bl2)"/>
<path d="M565.2 427C563 432.6 556.6 449.2 552.2 460.3C547.8 471.4 541.1 488 538.9 493.6" stroke="#ffff00" stroke-width="2.2" opacity="0.2" filter="url(#bl2)"/>
<path d="M586.9 427C584.7 432.6 578.3 449.2 573.9 460.3C569.6 471.4 562.8 488 560.6 493.6" stroke="#ffff00" stroke-width="2.2" opacity="0.2" filter="url(#bl2)"/>
<path d="M596 427C593.9 432.6 587.4 449.2 583.1 460.3C578.7 471.4 572 488 569.7 493.6" stroke="#ffff00" stroke-width="2.2" opacity="0.2" filter="url(#bl2)"/>
<path d="M428.5 462C432 466.1 442 479.6 449.6 486.6C457.2 493.6 470 501.2 474.1 504.1" stroke="#ffff00" stroke-width="2.2" opacity="0.16" filter="url(#bl2)"/>
<path d="M433.4 457.8C436.9 461.9 446.9 475.4 454.5 482.4C462.1 489.4 474.9 497 479 499.9" stroke="#ffff00" stroke-width="2.2" opacity="0.16" filter="url(#bl2)"/>
<path d="M438.4 453.6C441.9 457.7 451.8 471.2 459.4 478.2C467 485.2 479.8 492.8 483.9 495.7" stroke="#ffff00" stroke-width="2.2" opacity="0.16" filter="url(#bl2)"/>
<path d="M396.7 478.9C397.4 479.9 399.5 482.7 400.9 485.2C402.3 487.7 403.6 490.8 405.1 493.9C406.5 497.1 407.8 500.6 409.6 504.1C411.5 507.5 414 511.6 416.3 514.6C418.6 517.6 422.1 521 423.3 522.3" stroke="#ffff00" stroke-width="2.6" opacity="0.55" filter="url(#bl2)"/>
<path d="M604.4 432.3C603.7 433.7 601.8 437.8 600.2 441C598.6 444.2 596.4 448.6 595 451.5C593.5 454.5 593.2 455.9 591.5 458.5C589.7 461.2 587.1 463.8 584.5 467.3C581.8 470.8 577.2 477.5 575.7 479.6" stroke="#ffff00" stroke-width="5" opacity="0.3" filter="url(#bl3)"/>
<path d="M604.4 432.3C603.7 433.7 601.8 437.8 600.2 441C598.6 444.2 596.4 448.6 595 451.5C593.5 454.5 593.2 455.9 591.5 458.5C589.7 461.2 587.1 463.8 584.5 467.3C581.8 470.8 577.2 477.5 575.7 479.6" stroke="#ffff00" stroke-width="2.0" opacity="0.7" filter="url(#bl2)"/>
<path d="M540.7 427C542.1 429.9 546.5 438.7 549.4 444.5C552.3 450.4 555.8 456.8 558.2 462C560.5 467.3 562.6 473.7 563.4 476.1" stroke="#ffff00" stroke-width="4" opacity="0.4" filter="url(#bl3)"/>
<path d="M586.2 425.3C585 428.5 581.8 437.8 579.2 444.5C576.6 451.2 572.8 459.7 570.4 465.5C568.1 471.4 566.1 477.2 565.2 479.6" stroke="#ffff00" stroke-width="4" opacity="0.3" filter="url(#bl3)"/>
<path d="M531.9 441C533.9 443.9 540.4 452.1 544.2 458.5C548 465 551.8 473.4 554.7 479.6C557.6 485.7 560.5 492.7 561.7 495.3" stroke="#ffff00" stroke-width="3" opacity="0.3" filter="url(#bl3)"/>
<path d="M578.5 425.3C578 427 576.7 432.3 575.7 435.8C574.6 439.3 572.8 444.5 572.2 446.3" stroke="#ffff00" stroke-width="1.8" opacity="0.55" filter="url(#bl1)"/>
<path d="M572.2 446.3C571.3 448 568.6 453.3 566.9 456.8C565.3 460.3 563.5 464.1 562.4 467.3C561.2 470.5 560.7 473.1 559.9 476.1C559.1 479 558.4 481.9 557.5 484.8C556.6 487.7 555.6 490.4 554.7 493.6C553.7 496.8 552.7 501.1 551.9 504.1C551 507.1 549.8 510.5 549.4 511.8" stroke="#ffff00" stroke-width="6" opacity="0.35" filter="url(#bl3)"/>
<path d="M572.2 446.3C571.3 448 568.6 453.3 566.9 456.8C565.3 460.3 563.5 464.1 562.4 467.3C561.2 470.5 560.7 473.1 559.9 476.1C559.1 479 558.4 481.9 557.5 484.8C556.6 487.7 555.6 490.4 554.7 493.6C553.7 496.8 552.7 501.1 551.9 504.1C551 507.1 549.8 510.5 549.4 511.8" stroke="#ffff00" stroke-width="2.0" opacity="0.7" filter="url(#bl2)"/>
<path d="M481.8 425.3C482.8 427 485.9 432.3 488.1 435.8C490.3 439.3 492.8 443.1 495.1 446.3C497.4 449.5 499.5 452.1 502.1 455C504.7 458 508.2 461.8 510.9 463.8C513.5 465.8 516.7 466.7 517.9 467.3" stroke="#ffff00" stroke-width="10" opacity="0.6" filter="url(#bl3)"/>
<path d="M481.8 425.3C482.8 427 485.9 432.3 488.1 435.8C490.3 439.3 492.8 443.1 495.1 446.3C497.4 449.5 499.5 452.1 502.1 455C504.7 458 508.2 461.8 510.9 463.8C513.5 465.8 516.7 466.7 517.9 467.3" stroke="#ffff00" stroke-width="4.8" filter="url(#bl2)"/>
<path d="M517.9 467.3C519.1 466.4 522.8 464.4 524.9 462C527 459.7 528.5 456.8 530.5 453.3C532.5 449.8 535 445.7 537.2 441C539.3 436.4 542.4 427.9 543.5 425.3" stroke="#ffff00" stroke-width="7" opacity="0.45" filter="url(#bl3)"/>
<path d="M517.9 467.3C519.1 466.4 522.8 464.4 524.9 462C527 459.7 528.5 456.8 530.5 453.3C532.5 449.8 535 445.7 537.2 441C539.3 436.4 542.4 427.9 543.5 425.3" stroke="#ffff00" stroke-width="3" opacity="0.6" filter="url(#bl2)"/>
<path d="M463.6 538.1C465.1 539.7 469.1 545.1 472.7 547.9C476.2 550.7 481.2 552.6 484.9 554.9C488.7 557.2 492 559.7 495.5 561.9C499 564.1 503.4 566.1 506 567.9C508.5 569.6 510.1 571.6 510.9 572.4" stroke="#ffff00" stroke-width="7" opacity="0.5" filter="url(#bl3)"/>
<path d="M463.6 538.1C465.1 539.7 469.1 545.1 472.7 547.9C476.2 550.7 481.2 552.6 484.9 554.9C488.7 557.2 492 559.7 495.5 561.9C499 564.1 503.4 566.1 506 567.9C508.5 569.6 510.1 571.6 510.9 572.4" stroke="#ffff00" stroke-width="3.6" filter="url(#bl2)"/>
<path d="M501.4 565.1C502.2 565.5 504.6 566.8 506 567.9C507.4 568.9 509.2 570.8 509.8 571.4" stroke="#d17a14" stroke-width="1.8" opacity="0.8" filter="url(#bl2)"/>
<path d="M624.7 548.9C622.9 549.4 617.6 550.6 613.9 551.7C610.2 552.9 606.4 554.8 602.7 555.9C599 557.1 595.4 557.6 591.8 558.7C588.2 559.9 584.6 561.3 580.9 562.6C577.3 563.9 573.1 565.3 569.7 566.8C566.4 568.3 562.4 570.6 561 571.4" stroke="#ffff00" stroke-width="9" opacity="0.55" filter="url(#bl3)"/>
<path d="M624.7 548.9C622.9 549.4 617.6 550.6 613.9 551.7C610.2 552.9 606.4 554.8 602.7 555.9C599 557.1 595.4 557.6 591.8 558.7C588.2 559.9 584.6 561.3 580.9 562.6C577.3 563.9 573.1 565.3 569.7 566.8C566.4 568.3 562.4 570.6 561 571.4" stroke="#ffff00" stroke-width="4.4" filter="url(#bl2)"/>
<path d="M600.2 556.6C598.8 557 594.7 557.9 591.8 558.7C588.9 559.6 584.2 561.4 582.7 561.9" stroke="#d17a14" stroke-width="1.8" opacity="0.8" filter="url(#bl2)"/>
<path d="M403.3 572.8C404.6 571.1 408.6 565.3 411 562.9C413.5 560.6 416 559.6 418 558.7C420.1 557.9 421.5 557.4 423.3 558C425 558.7 426.7 560.8 428.5 562.6C430.4 564.4 432.7 566.9 434.1 568.6C435.5 570.2 436.5 572.1 436.9 572.8" stroke="#ffff00" stroke-width="10" opacity="0.5" filter="url(#bl3)"/>
<path d="M403.3 572.8C404.6 571.1 408.6 565.3 411 562.9C413.5 560.6 416 559.6 418 558.7C420.1 557.9 421.5 557.4 423.3 558C425 558.7 426.7 560.8 428.5 562.6C430.4 564.4 432.7 566.9 434.1 568.6C435.5 570.2 436.5 572.1 436.9 572.8" stroke="#ffff00" stroke-width="5" filter="url(#bl2)"/>
<path d="M425 559.4C425.7 560.1 427.7 562.1 429.2 563.6C430.8 565.2 433.3 568 434.1 568.9" stroke="#d41313" stroke-width="2.6" opacity="0.95" filter="url(#bl2)"/>
<path d="M548.4 571.4C548.9 569.8 550.2 564.2 551.9 561.9C553.5 559.6 554.8 557.9 558.2 557.3C561.6 556.8 567.5 558.8 572.2 558.4C576.9 558 583.9 555.5 586.2 554.9" stroke="#ffff00" stroke-width="8" opacity="0.5" filter="url(#bl3)"/>
<path d="M548.4 571.4C548.9 569.8 550.2 564.2 551.9 561.9C553.5 559.6 554.8 557.9 558.2 557.3C561.6 556.8 567.5 558.8 572.2 558.4C576.9 558 583.9 555.5 586.2 554.9" stroke="#ffff00" stroke-width="4" opacity="0.95" filter="url(#bl2)"/>
<path d="M482.5 529C483.8 527.7 487.2 523.6 490.2 521.6C493.2 519.6 497.2 517.9 500.7 517.1C504.2 516.2 507.4 516.2 511.2 516.4C515 516.5 520 517.2 523.5 518.1C527 519 529.3 520.3 532.2 521.6C535.2 522.9 538.1 524.2 541 525.8C543.9 527.4 547.1 529.8 549.8 531.1C552.4 532.3 555.6 532.8 556.8 533.2" stroke="#ffff00" stroke-width="6" opacity="0.4" filter="url(#bl3)"/>
<path d="M482.5 529C483.8 527.7 487.2 523.6 490.2 521.6C493.2 519.6 497.2 517.9 500.7 517.1C504.2 516.2 507.4 516.2 511.2 516.4C515 516.5 520 517.2 523.5 518.1C527 519 529.3 520.3 532.2 521.6C535.2 522.9 538.1 524.2 541 525.8C543.9 527.4 547.1 529.8 549.8 531.1C552.4 532.3 555.6 532.8 556.8 533.2" stroke="#ffff00" stroke-width="2.6" opacity="0.9" filter="url(#bl2)"/>
<path d="M626.8 548.6C623.8 548.2 613.2 547.8 608.3 546.5C603.4 545.2 601.1 543 597.4 540.9C593.7 538.8 589.4 535.7 586.2 533.9C583 532 581.1 530.8 578.1 529.7C575.2 528.6 570.3 527.6 568.7 527.2" stroke="#ffff00" stroke-width="11" opacity="0.6" filter="url(#bl3)"/>
<path d="M626.8 548.6C623.8 548.2 613.2 547.8 608.3 546.5C603.4 545.2 601.1 543 597.4 540.9C593.7 538.8 589.4 535.7 586.2 533.9C583 532 581.1 530.8 578.1 529.7C575.2 528.6 570.3 527.6 568.7 527.2" stroke="#ffff00" stroke-width="5.4" filter="url(#bl2)"/>
<path d="M626.5 548.6C624.7 548.5 619 548.2 616 547.9C612.9 547.5 610.7 547.3 608.3 546.5C605.8 545.7 602.4 543.6 601.3 543" stroke="#d41313" stroke-width="4.4" opacity="0.95" filter="url(#bl2)"/>
<path d="M599.5 425.3C600.3 426.4 602.8 430.1 604.4 432.3C606 434.4 607.3 435.6 609 438.2C610.6 440.8 612.5 444.8 614.2 448C616 451.3 617.6 454.9 619.5 457.8C621.4 460.8 624.5 464.3 625.4 465.5" stroke="#ffff00" stroke-width="12" opacity="0.6" filter="url(#bl3)"/>
<path d="M599.5 425.3C600.3 426.4 602.8 430.1 604.4 432.3C606 434.4 607.3 435.6 609 438.2C610.6 440.8 612.5 444.8 614.2 448C616 451.3 617.6 454.9 619.5 457.8C621.4 460.8 624.5 464.3 625.4 465.5" stroke="#ffff00" stroke-width="6.0" filter="url(#bl2)"/>
<path d="M612.1 444.5C613.2 446.4 616.3 452.4 618.4 455.7C620.5 459.1 623.7 463.3 624.7 464.8" stroke="#d17a14" stroke-width="3.0" opacity="0.95" filter="url(#bl2)"/>
<path d="M609 425.3 L604.4 432.3" stroke="#ffff00" stroke-width="3.5" filter="url(#bl2)"/>
<path d="M395.3 460.6C396.7 460.1 401 458.7 403.7 457.5C406.3 456.3 409.3 454.5 411 453.3C412.7 452.1 412.8 451.4 413.8 450.1C414.8 448.9 415.8 447.6 417 445.9C418.2 444.2 419.8 441.9 421.2 440C422.6 438 423.9 436.4 425.4 434.4C426.8 432.3 428.9 429.4 429.9 427.7C430.9 426 431.1 424.8 431.3 424.2" stroke="#ffff00" stroke-width="12" opacity="0.55" filter="url(#bl3)"/>
<path d="M395.3 460.6C396.7 460.1 401 458.7 403.7 457.5C406.3 456.3 409.3 454.5 411 453.3C412.7 452.1 412.8 451.4 413.8 450.1C414.8 448.9 415.8 447.6 417 445.9C418.2 444.2 419.8 441.9 421.2 440C422.6 438 423.9 436.4 425.4 434.4C426.8 432.3 428.9 429.4 429.9 427.7C430.9 426 431.1 424.8 431.3 424.2" stroke="#ffff00" stroke-width="6.4" filter="url(#bl2)"/>
<path d="M418 429.8C418.7 429.9 420.8 430.3 422.2 430.5C423.7 430.7 426 431.1 426.8 431.2" stroke="#ffff00" stroke-width="3.5" opacity="0.8" filter="url(#bl2)"/>
<path d="M395.3 460.6C396.7 460.1 401.2 458.7 403.7 457.5C406.2 456.3 408.6 454.9 410.3 453.6C412.1 452.4 413.5 450.4 414.2 449.8" stroke="#d41313" stroke-width="4.4" opacity="0.95" filter="url(#bl2)"/>
<path d="M413.8 450.1C414.4 449.3 416 447 417.3 445.2C418.6 443.5 420.8 440.6 421.5 439.6" stroke="#d17a14" stroke-width="2.0" opacity="0.7" filter="url(#bl2)"/>
<path d="M395.3 548.9C397.3 548.8 403.1 548.6 407.5 548.2C411.9 547.9 416.9 547.4 421.5 546.8C426.2 546.3 431.5 545.7 435.5 545.1C439.6 544.5 442.6 544.1 446.1 543.3C449.6 542.5 453.6 541.1 456.6 540.2C459.5 539.2 462.4 538.1 463.6 537.7" stroke="#ffff00" stroke-width="14" opacity="0.6" filter="url(#bl3)"/>
<path d="M395.3 548.9C397.3 548.8 403.1 548.6 407.5 548.2C411.9 547.9 416.9 547.4 421.5 546.8C426.2 546.3 431.5 545.7 435.5 545.1C439.6 544.5 442.6 544.1 446.1 543.3C449.6 542.5 453.6 541.1 456.6 540.2C459.5 539.2 462.4 538.1 463.6 537.7" stroke="#ffff00" stroke-width="7.2" filter="url(#bl2)"/>
<path d="M395.3 548.9C397.3 548.8 403.1 548.6 407.5 548.2C411.9 547.9 417.6 547.2 421.5 546.8C425.5 546.4 429.7 546 431.3 545.8" stroke="#d41313" stroke-width="4.2" opacity="0.95" filter="url(#bl2)"/>
<path d="M431.3 545.8C433.2 545.5 438.4 545 442.6 544C446.8 543.1 454.2 540.8 456.6 540.2" stroke="#d17a14" stroke-width="3.0" opacity="0.95" filter="url(#bl2)"/>
<path d="M395.3 471.5C396.4 471.4 400.4 470.5 402.3 470.8C404.1 471.2 405 471.9 406.5 473.6C407.9 475.3 409.3 478.5 411 481C412.7 483.4 414.5 485.6 416.6 488.3C418.8 491 421.4 493.9 424 497.1C426.6 500.3 428.9 504.1 432 507.6C435.1 511.1 439.1 514.6 442.6 518.1C446.1 521.6 449.6 525.3 453.1 528.6C456.6 531.9 461.8 536.2 463.6 537.7" stroke="#ffff00" stroke-width="12" opacity="0.55" filter="url(#bl3)"/>
<path d="M395.3 471.5C396.4 471.4 400.4 470.5 402.3 470.8C404.1 471.2 405 471.9 406.5 473.6C407.9 475.3 409.3 478.5 411 481C412.7 483.4 414.5 485.6 416.6 488.3C418.8 491 421.4 493.9 424 497.1C426.6 500.3 428.9 504.1 432 507.6C435.1 511.1 439.1 514.6 442.6 518.1C446.1 521.6 449.6 525.3 453.1 528.6C456.6 531.9 461.8 536.2 463.6 537.7" stroke="#ffff00" stroke-width="6.2" filter="url(#bl2)"/>
<path d="M406.5 474C407.2 475.2 409.3 478.9 411 481.3C412.7 483.7 414.5 485.7 416.6 488.3C418.8 490.9 421.4 493.8 424 497.1C426.6 500.4 428.9 504.4 432 507.9C435.1 511.5 439.1 515 442.6 518.5C446.1 521.9 450.1 525.9 453.1 528.6C456 531.3 458.9 533.6 460.1 534.6" stroke="#d17a14" stroke-width="3.0" opacity="0.95" filter="url(#bl2)"/>
<path d="M395.3 472.6C396 472.5 398.5 472.1 399.8 472.2C401.2 472.3 402.2 472.6 403.3 473.3C404.4 474 405.9 475.9 406.5 476.4" stroke="#d41313" stroke-width="4.0" opacity="0.95" filter="url(#bl2)"/>
<path d="M463.6 537.7C465.1 536.8 469.5 533.6 472.7 532.1C475.8 530.7 480.9 529.5 482.5 529" stroke="#ffff00" stroke-width="10" opacity="0.55" filter="url(#bl3)"/>
<path d="M463.6 537.7C465.1 536.8 469.5 533.6 472.7 532.1C475.8 530.7 480.9 529.5 482.5 529" stroke="#ffff00" stroke-width="5.0" filter="url(#bl2)"/>
<path d="M461.8 535.6C462.1 536 462.7 537.7 463.6 537.7C464.5 537.8 466.5 536.3 467.1 536" stroke="#d41313" stroke-width="3.4" opacity="0.95" filter="url(#bl2)"/>
<path d="M467.1 536C468.2 535.3 471.6 532.9 474.1 531.8C476.5 530.6 480.5 529.4 481.8 529" stroke="#d17a14" stroke-width="2.6" opacity="0.95" filter="url(#bl2)"/>
<path d="M480.4 529.7C481.4 530 484.1 530.4 486.4 531.4C488.6 532.5 490.1 534.2 493.7 536C497.3 537.7 503.3 540.3 507.7 541.9C512.1 543.6 516.2 544.9 520 545.8C523.8 546.7 527 547.2 530.5 547.2C534 547.2 537.8 546.8 541 545.8C544.2 544.8 546.8 542.9 549.8 541.2C552.7 539.5 555.1 538 558.5 535.6C561.9 533.2 566.6 530.1 570.1 526.9C573.5 523.6 575.3 520.7 579.2 516.4C583.1 512 588.5 505.8 593.2 500.6C597.9 495.3 603.1 488.9 607.2 484.8C611.3 480.7 614.5 478.1 617.7 476.1C620.9 474 625 473.1 626.5 472.6" stroke="#ffff00" stroke-width="14" opacity="0.6" filter="url(#bl3)"/>
<path d="M480.4 529.7C481.4 530 484.1 530.4 486.4 531.4C488.6 532.5 490.1 534.2 493.7 536C497.3 537.7 503.3 540.3 507.7 541.9C512.1 543.6 516.2 544.9 520 545.8C523.8 546.7 527 547.2 530.5 547.2C534 547.2 537.8 546.8 541 545.8C544.2 544.8 546.8 542.9 549.8 541.2C552.7 539.5 555.1 538 558.5 535.6C561.9 533.2 566.6 530.1 570.1 526.9C573.5 523.6 575.3 520.7 579.2 516.4C583.1 512 588.5 505.8 593.2 500.6C597.9 495.3 603.1 488.9 607.2 484.8C611.3 480.7 614.5 478.1 617.7 476.1C620.9 474 625 473.1 626.5 472.6" stroke="#ffff00" stroke-width="6.8" filter="url(#bl2)"/>
<path d="M512.6 544C514.4 544.4 520.2 546 523.1 546.5C526.1 547 527.9 547.2 530.5 547.2C533.1 547.1 536.3 546.8 538.9 546.1C541.5 545.5 544.7 543.8 545.9 543.3" stroke="#d41313" stroke-width="4.0" opacity="0.95" filter="url(#bl2)"/>
<path d="M493.7 536.3C495.4 537 500.7 539.2 503.9 540.5C507 541.8 511.2 543.4 512.6 544" stroke="#d17a14" stroke-width="2.2" opacity="0.8" filter="url(#bl2)"/>
<path d="M545.9 543.3C547.4 542.5 552 540.1 554.7 538.4C557.3 536.7 560.5 534 561.7 533.2" stroke="#d17a14" stroke-width="2.4" opacity="0.9" filter="url(#bl2)"/>
<path d="M561.7 533.2C563.1 532 567.5 529 570.4 526.2C573.4 523.4 576.3 519.6 579.2 516.4C582.1 513.1 585.3 509.5 588 506.5C590.6 503.6 593.8 499.8 595 498.5" stroke="#d41313" stroke-width="3.2" opacity="0.9" filter="url(#bl2)"/>
<path d="M595 498.5C597 496.2 603.7 488.4 607.2 484.8C610.7 481.3 614.5 478.4 616 477.1" stroke="#d17a14" stroke-width="2.4" opacity="0.9" filter="url(#bl2)"/>
<path d="M614.2 478.2C615.3 477.5 618.4 475.2 620.5 474.3C622.6 473.4 625.8 473.1 626.8 472.9" stroke="#d41313" stroke-width="4.2" opacity="0.95" filter="url(#bl2)"/>
<path d="M579.2 510.4C580.4 509.1 583.3 505.7 586.2 502.3C589.1 498.9 593.2 494 596.7 490.1C600.2 486.2 603.7 482 607.2 478.9C610.7 475.8 614.5 473 617.7 471.5C620.9 470 625 470 626.5 469.8" stroke="#ffff00" stroke-width="8" opacity="0.45" filter="url(#bl3)"/>
<path d="M579.2 510.4C580.4 509.1 583.3 505.7 586.2 502.3C589.1 498.9 593.2 494 596.7 490.1C600.2 486.2 603.7 482 607.2 478.9C610.7 475.8 614.5 473 617.7 471.5C620.9 470 625 470 626.5 469.8" stroke="#ffff00" stroke-width="3.4" opacity="0.95" filter="url(#bl2)"/>
<path d="M463.5 427.9V569.4 M530.5 427.9V569.4 M396.5 475.1H625.2" stroke="#ccccff" stroke-width="0.9" opacity="0.8"/>
</g>
<line x1="396.5" y1="427.6" x2="396.5" y2="569.7" stroke="#000" stroke-width="0.6"/>
<line x1="625.2" y1="427.6" x2="625.2" y2="569.7" stroke="#000" stroke-width="0.6"/>
<line x1="392.3" y1="427.9" x2="396.5" y2="427.9" stroke="#1a1a1a" stroke-width="0.9"/>
<line x1="625.2" y1="427.9" x2="628.8" y2="427.9" stroke="#1a1a1a" stroke-width="0.9"/>
<text x="0" y="0" font-size="9.2" fill="#1a1a1a" transform="translate(387.2 430.3) scale(1.13 1)" text-anchor="end" stroke="#1a1a1a" stroke-width="0.3">0.4</text>
<line x1="392.3" y1="451.5" x2="396.5" y2="451.5" stroke="#1a1a1a" stroke-width="0.9"/>
<line x1="625.2" y1="451.5" x2="628.8" y2="451.5" stroke="#1a1a1a" stroke-width="0.9"/>
<text x="0" y="0" font-size="9.2" fill="#1a1a1a" transform="translate(387.2 453.9) scale(1.13 1)" text-anchor="end" stroke="#1a1a1a" stroke-width="0.3">0.2</text>
<line x1="392.3" y1="475.1" x2="396.5" y2="475.1" stroke="#1a1a1a" stroke-width="0.9"/>
<line x1="625.2" y1="475.1" x2="628.8" y2="475.1" stroke="#1a1a1a" stroke-width="0.9"/>
<text x="0" y="0" font-size="9.2" fill="#1a1a1a" transform="translate(387.2 477.5) scale(1.13 1)" text-anchor="end" stroke="#1a1a1a" stroke-width="0.3">0</text>
<line x1="392.3" y1="498.6" x2="396.5" y2="498.6" stroke="#1a1a1a" stroke-width="0.9"/>
<line x1="625.2" y1="498.6" x2="628.8" y2="498.6" stroke="#1a1a1a" stroke-width="0.9"/>
<text x="0" y="0" font-size="9.2" fill="#1a1a1a" transform="translate(387.2 501) scale(1.13 1)" text-anchor="end" stroke="#1a1a1a" stroke-width="0.3">−0.2</text>
<line x1="392.3" y1="522.2" x2="396.5" y2="522.2" stroke="#1a1a1a" stroke-width="0.9"/>
<line x1="625.2" y1="522.2" x2="628.8" y2="522.2" stroke="#1a1a1a" stroke-width="0.9"/>
<text x="0" y="0" font-size="9.2" fill="#1a1a1a" transform="translate(387.2 524.6) scale(1.13 1)" text-anchor="end" stroke="#1a1a1a" stroke-width="0.3">−0.4</text>
<line x1="392.3" y1="545.8" x2="396.5" y2="545.8" stroke="#1a1a1a" stroke-width="0.9"/>
<line x1="625.2" y1="545.8" x2="628.8" y2="545.8" stroke="#1a1a1a" stroke-width="0.9"/>
<text x="0" y="0" font-size="9.2" fill="#1a1a1a" transform="translate(387.2 548.2) scale(1.13 1)" text-anchor="end" stroke="#1a1a1a" stroke-width="0.3">−0.6</text>
<line x1="392.3" y1="569.4" x2="396.5" y2="569.4" stroke="#1a1a1a" stroke-width="0.9"/>
<line x1="625.2" y1="569.4" x2="628.8" y2="569.4" stroke="#1a1a1a" stroke-width="0.9"/>
<text x="0" y="0" font-size="9.2" fill="#1a1a1a" transform="translate(387.2 571.8) scale(1.13 1)" text-anchor="end" stroke="#1a1a1a" stroke-width="0.3">−0.8</text>
<text x="0" y="0" font-size="9.0" fill="#1a1a1a" transform="translate(356.2 498.3) rotate(-90) scale(1.13 1)" text-anchor="middle" stroke="#1a1a1a" stroke-width="0.3">Energy (eV)</text>
<text x="397.1" y="582.3" font-size="10" fill="#1a1a1a" font-family='"Liberation Serif", "Times New Roman", serif' text-anchor="middle" stroke="#1a1a1a" stroke-width="0.3">Γ</text>
<text x="464.3" y="582.7" font-size="9.8" fill="#1a1a1a" text-anchor="middle" stroke="#1a1a1a" stroke-width="0.3">X</text>
<text x="531.3" y="582.7" font-size="9.8" fill="#1a1a1a" text-anchor="middle" stroke="#1a1a1a" stroke-width="0.3">M</text>
<text x="625.8" y="582.3" font-size="10" fill="#1a1a1a" font-family='"Liberation Serif", "Times New Roman", serif' text-anchor="middle" stroke="#1a1a1a" stroke-width="0.3">Γ</text>
<rect x="635.4" y="427.9" width="12" height="141.5" fill="url(#gS)"/>
<text x="0" y="0" font-size="9.2" fill="#1a1a1a" transform="translate(652.2 572) scale(1.13 1)" stroke="#1a1a1a" stroke-width="0.3">0</text>
<line x1="635.4" y1="541.1" x2="639" y2="541.1" stroke="#1a1a1a" stroke-width="0.9"/>
<line x1="643.8" y1="541.1" x2="647.4" y2="541.1" stroke="#1a1a1a" stroke-width="0.9"/>
<text x="0" y="0" font-size="9.2" fill="#1a1a1a" transform="translate(652.2 543.7) scale(1.13 1)" stroke="#1a1a1a" stroke-width="0.3">0.2</text>
<line x1="635.4" y1="512.8" x2="639" y2="512.8" stroke="#1a1a1a" stroke-width="0.9"/>
<line x1="643.8" y1="512.8" x2="647.4" y2="512.8" stroke="#1a1a1a" stroke-width="0.9"/>
<text x="0" y="0" font-size="9.2" fill="#1a1a1a" transform="translate(652.2 515.4) scale(1.13 1)" stroke="#1a1a1a" stroke-width="0.3">0.4</text>
<line x1="635.4" y1="484.5" x2="639" y2="484.5" stroke="#1a1a1a" stroke-width="0.9"/>
<line x1="643.8" y1="484.5" x2="647.4" y2="484.5" stroke="#1a1a1a" stroke-width="0.9"/>
<text x="0" y="0" font-size="9.2" fill="#1a1a1a" transform="translate(652.2 487.1) scale(1.13 1)" stroke="#1a1a1a" stroke-width="0.3">0.6</text>
<line x1="635.4" y1="456.2" x2="639" y2="456.2" stroke="#1a1a1a" stroke-width="0.9"/>
<line x1="643.8" y1="456.2" x2="647.4" y2="456.2" stroke="#1a1a1a" stroke-width="0.9"/>
<text x="0" y="0" font-size="9.2" fill="#1a1a1a" transform="translate(652.2 458.8) scale(1.13 1)" stroke="#1a1a1a" stroke-width="0.3">0.8</text>
<text x="0" y="0" font-size="9.2" fill="#1a1a1a" transform="translate(652.2 430.5) scale(1.13 1)" stroke="#1a1a1a" stroke-width="0.3">1</text>
<rect x="635.4" y="427.9" width="12" height="141.5" fill="none" stroke="#1a1a1a" stroke-width="0.8"/>
<text x="0" y="0" font-size="9.0" fill="#1a1a1a" transform="translate(682.8 498.1) rotate(-90) scale(1.13 1)" text-anchor="middle" stroke="#1a1a1a" stroke-width="0.3">Spectral weight</text>
<text x="0" y="0" font-size="9.0" fill="#fff" transform="translate(90.6 271.7) scale(1.13 1)" stroke="#fff" stroke-width="0.3">CB-AFM</text>
<text x="0" y="0" font-size="9.0" fill="#fff" transform="translate(440.6 271.7) scale(1.13 1)" stroke="#fff" stroke-width="0.3">CL-AFM</text>
<text x="0" y="0" font-size="9" fill="#fff" transform="translate(97.4 462.6) scale(1.13 1)"><tspan font-style="italic">q</tspan>-ave.</text>
<text x="0" y="0" font-size="9" fill="#fff" transform="translate(445.8 462.6) scale(1.13 1)"><tspan font-style="italic">q</tspan>-ave.</text></svg></body></html>
